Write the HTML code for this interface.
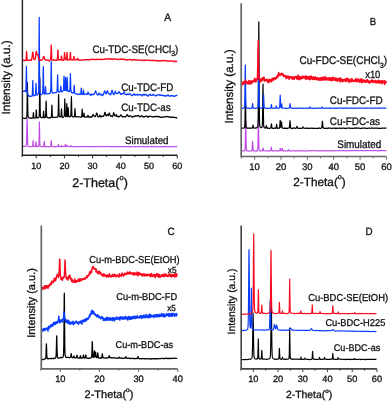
<!DOCTYPE html>
<html><head><meta charset="utf-8"><title>XRD patterns</title>
<style>html,body{margin:0;padding:0;background:#fff}svg{display:block}text{stroke:#111;stroke-width:.3px;text-rendering:geometricPrecision}</style></head>
<body>
<svg width="392" height="401" viewBox="0 0 392 401" font-family="'Liberation Sans', sans-serif" fill="#111">
<polyline points="22.60,146.65 22.80,146.63 23.00,146.49 23.20,146.40 23.40,146.40 23.60,146.39 23.80,146.53 24.00,146.55 24.20,146.51 24.40,146.48 24.60,146.43 24.80,146.44 25.00,146.50 25.20,146.46 25.40,146.40 25.60,146.37 25.80,146.36 26.00,146.32 26.20,145.98 26.40,144.48 26.60,139.49 26.80,129.84 27.00,120.27 27.10,118.63 27.20,120.26 27.40,129.94 27.60,139.52 27.80,144.38 28.00,145.87 28.20,146.18 28.40,146.30 28.60,146.35 28.80,146.40 29.00,146.44 29.20,146.49 29.40,146.53 29.60,146.63 29.80,146.55 30.00,146.62 30.20,146.60 30.40,146.47 30.60,146.54 30.80,146.49 31.00,146.55 31.20,146.56 31.40,146.58 31.60,146.58 31.80,146.44 32.00,146.42 32.20,146.42 32.40,146.40 32.60,146.17 32.80,144.49 33.00,141.37 33.10,140.69 33.20,141.35 33.40,144.39 33.60,146.13 33.80,146.51 34.00,146.42 34.20,146.54 34.40,146.52 34.60,146.50 34.80,146.68 35.00,146.57 35.20,146.56 35.40,146.54 35.60,145.68 35.80,143.55 36.00,141.90 36.00,141.85 36.20,143.63 36.40,145.81 36.60,146.56 36.80,146.69 37.00,146.70 37.20,146.65 37.40,146.55 37.60,146.40 37.80,146.39 38.00,146.32 38.20,146.37 38.40,146.50 38.60,146.31 38.80,145.81 39.00,142.08 39.20,130.83 39.40,121.93 39.40,121.96 39.60,130.87 39.80,142.01 40.00,145.79 40.20,146.30 40.40,146.44 40.60,146.51 40.80,146.52 41.00,146.53 41.20,146.60 41.40,146.61 41.60,146.62 41.80,146.70 42.00,146.56 42.20,146.51 42.40,146.51 42.60,146.51 42.80,146.58 43.00,146.70 43.20,146.76 43.40,146.74 43.60,146.72 43.80,145.79 44.00,143.30 44.20,141.53 44.20,141.42 44.40,143.36 44.60,145.77 44.80,146.47 45.00,146.63 45.20,146.63 45.40,146.54 45.60,146.56 45.80,146.54 46.00,146.63 46.20,146.65 46.40,146.65 46.60,146.62 46.80,146.52 47.00,146.66 47.20,146.68 47.40,146.68 47.60,146.69 47.80,146.65 48.00,146.58 48.20,146.59 48.40,146.66 48.60,146.66 48.80,146.71 49.00,146.70 49.20,146.61 49.40,146.49 49.60,146.53 49.80,146.57 50.00,146.58 50.20,146.58 50.40,146.48 50.60,146.40 50.80,145.82 51.00,143.58 51.20,140.81 51.25,140.66 51.40,141.97 51.60,145.02 51.80,146.25 52.00,146.37 52.20,146.48 52.40,146.55 52.60,146.62 52.80,146.62 53.00,146.53 53.20,146.51 53.40,146.47 53.60,146.54 53.80,146.56 54.00,146.59 54.20,146.71 54.40,146.78 54.60,146.89 54.80,146.87 55.00,146.82 55.20,146.73 55.40,146.69 55.60,146.67 55.80,146.60 56.00,146.59 56.20,146.57 56.40,146.61 56.60,146.64 56.80,146.61 57.00,146.58 57.20,146.49 57.40,146.55 57.60,146.58 57.80,146.46 58.00,145.90 58.20,144.65 58.30,144.35 58.40,144.57 58.60,145.75 58.80,146.40 59.00,146.57 59.20,146.58 59.40,146.43 59.60,146.40 59.80,146.42 60.00,146.42 60.20,146.49 60.40,146.65 60.60,146.66 60.80,146.67 61.00,146.70 61.20,146.38 61.40,145.72 61.50,145.56 61.60,145.66 61.80,146.09 62.00,146.46 62.20,146.48 62.40,146.36 62.60,146.38 62.80,146.44 63.00,146.56 63.20,146.71 63.40,146.77 63.60,146.66 63.80,146.59 64.00,146.50 64.20,146.51 64.40,146.60 64.60,146.49 64.80,146.40 65.00,145.65 65.20,144.52 65.30,144.39 65.40,144.62 65.60,145.90 65.80,146.45 66.00,146.57 66.20,146.60 66.40,146.49 66.60,146.44 66.80,145.77 67.00,145.29 67.00,145.33 67.20,145.73 67.40,146.36 67.60,146.51 67.80,146.49 68.00,146.59 68.20,146.64 68.40,146.71 68.60,146.81 68.80,146.76 69.00,146.74 69.20,146.63 69.40,146.53 69.60,146.49 69.80,146.51 70.00,146.51 70.20,146.55 70.40,146.58 70.60,146.38 70.80,145.95 71.00,145.65 71.00,145.72 71.20,146.08 71.40,146.55 71.60,146.61 71.80,146.54 72.00,146.66 72.20,146.70 72.40,146.79 72.60,146.89 72.80,146.79 73.00,146.75 73.20,146.69 73.40,146.65 73.60,146.67 73.80,146.71 74.00,146.77 74.20,146.78 74.40,146.80 74.60,146.73 74.80,146.60 75.00,146.59 75.20,146.59 75.40,146.59 75.60,146.64 75.80,146.56 76.00,146.46 76.20,146.51 76.40,146.50 76.60,146.51 76.80,146.63 77.00,146.61 77.20,146.68 77.40,146.72 77.60,146.68 77.80,146.69 78.00,146.75 78.20,146.72 78.40,146.80 78.60,146.76 78.80,146.70 79.00,146.72 79.20,146.60 79.40,146.51 79.60,146.56 79.80,146.49 80.00,146.48 80.20,146.62 80.40,146.54 80.60,146.61 80.80,146.65 81.00,146.57 81.20,146.61 81.40,146.55 81.60,146.57 81.80,146.68 82.00,146.69 82.20,146.73 82.40,146.70 82.60,146.66 82.80,146.51 83.00,146.48 83.20,146.45 83.40,146.40 83.60,146.50 83.80,146.52 84.00,146.65 84.20,146.79 84.40,146.68 84.60,146.71 84.80,146.58 85.00,146.53 85.20,146.63 85.40,146.67 85.60,146.74 85.80,146.75 86.00,146.73 86.20,146.55 86.40,146.48 86.60,146.40 86.80,146.39 87.00,146.46 87.20,146.61 87.40,146.64 87.60,146.73 87.80,146.76 88.00,146.76 88.20,146.71 88.40,146.68 88.60,146.63 88.80,146.57 89.00,146.71 89.20,146.60 89.40,146.62 89.60,146.61 89.80,146.52 90.00,146.53 90.20,146.64 90.40,146.63 90.60,146.70 90.80,146.78 91.00,146.67 91.20,146.64 91.40,146.65 91.60,146.56 91.80,146.60 92.00,146.65 92.20,146.63 92.40,146.74 92.60,146.69 92.80,146.77 93.00,146.71 93.20,146.67 93.40,146.74 93.60,146.63 93.80,146.59 94.00,146.57 94.20,146.64 94.40,146.58 94.60,146.51 94.80,146.55 95.00,146.50 95.20,146.61 95.40,146.81 95.60,146.75 95.80,146.74 96.00,146.73 96.20,146.71 96.40,146.79 96.60,146.74 96.80,146.65 97.00,146.57 97.20,146.44 97.40,146.54 97.60,146.59 97.80,146.59 98.00,146.62 98.20,146.64 98.40,146.68 98.60,146.67 98.80,146.75 99.00,146.67 99.20,146.68 99.40,146.77 99.60,146.73 99.80,146.76 100.00,146.75 100.20,146.74 100.40,146.79 100.60,146.76 100.80,146.71 101.00,146.66 101.20,146.58 101.40,146.61 101.60,146.65 101.80,146.66 102.00,146.69 102.20,146.62 102.40,146.57 102.60,146.60 102.80,146.61 103.00,146.64 103.20,146.60 103.40,146.54 103.60,146.38 103.80,146.45 104.00,146.53 104.20,146.54 104.40,146.64 104.60,146.52 104.80,146.56 105.00,146.55 105.20,146.64 105.40,146.76 105.60,146.76 105.80,146.68 106.00,146.61 106.20,146.49 106.40,146.41 106.60,146.40 106.80,146.35 107.00,146.37 107.20,146.38 107.40,146.51 107.60,146.60 107.80,146.71 108.00,146.64 108.20,146.55 108.40,146.58 108.60,146.49 108.80,146.54 109.00,146.64 109.20,146.69 109.40,146.76 109.60,146.79 109.80,146.76 110.00,146.71 110.20,146.65 110.40,146.72 110.60,146.70 110.80,146.70 111.00,146.59 111.20,146.58 111.40,146.68 111.60,146.66 111.80,146.83 112.00,146.71 112.20,146.61 112.40,146.53 112.60,146.50 112.80,146.61 113.00,146.55 113.20,146.59 113.40,146.54 113.60,146.64 113.80,146.70 114.00,146.75 114.20,146.80 114.40,146.69 114.60,146.69 114.80,146.61 115.00,146.56 115.20,146.63 115.40,146.65 115.60,146.70 115.80,146.67 116.00,146.58 116.20,146.57 116.40,146.56 116.60,146.67 116.80,146.64 117.00,146.63 117.20,146.71 117.40,146.68 117.60,146.76 117.80,146.76 118.00,146.70 118.20,146.71 118.40,146.66 118.60,146.73 118.80,146.78 119.00,146.75 119.20,146.76 119.40,146.74 119.60,146.66 119.80,146.65 120.00,146.62 120.20,146.64 120.40,146.67 120.60,146.74 120.80,146.69 121.00,146.63 121.20,146.70 121.40,146.64 121.60,146.76 121.80,146.66 122.00,146.61 122.20,146.63 122.40,146.57 122.60,146.59 122.80,146.62 123.00,146.50 123.20,146.55 123.40,146.64 123.60,146.66 123.80,146.76 124.00,146.66 124.20,146.62 124.40,146.55 124.60,146.59 124.80,146.63 125.00,146.68 125.20,146.73 125.40,146.77 125.60,146.68 125.80,146.64 126.00,146.65 126.20,146.62 126.40,146.69 126.60,146.70 126.80,146.66 127.00,146.63 127.20,146.63 127.40,146.61 127.60,146.56 127.80,146.54 128.00,146.63 128.20,146.62 128.40,146.72 128.60,146.84 128.80,146.78 129.00,146.95 129.20,146.89 129.40,146.88 129.60,146.87 129.80,146.69 130.00,146.71 130.20,146.72 130.40,146.70 130.60,146.78 130.80,146.72 131.00,146.58 131.20,146.63 131.40,146.60 131.60,146.68 131.80,146.78 132.00,146.70 132.20,146.68 132.40,146.65 132.60,146.70 132.80,146.75 133.00,146.76 133.20,146.78 133.40,146.77 133.60,146.76 133.80,146.77 134.00,146.75 134.20,146.68 134.40,146.82 134.60,146.77 134.80,146.69 135.00,146.66 135.20,146.58 135.40,146.53 135.60,146.58 135.80,146.62 136.00,146.57 136.20,146.70 136.40,146.74 136.60,146.73 136.80,146.78 137.00,146.77 137.20,146.82 137.40,146.76 137.60,146.75 137.80,146.79 138.00,146.70 138.20,146.71 138.40,146.67 138.60,146.56 138.80,146.69 139.00,146.74 139.20,146.87 139.40,146.95 139.60,146.85 139.80,146.82 140.00,146.74 140.20,146.70 140.40,146.74 140.60,146.71 140.80,146.71 141.00,146.73 141.20,146.67 141.40,146.71 141.60,146.73 141.80,146.73 142.00,146.74 142.20,146.75 142.40,146.69 142.60,146.69 142.80,146.69 143.00,146.61 143.20,146.63 143.40,146.63 143.60,146.65 143.80,146.68 144.00,146.73 144.20,146.73 144.40,146.75 144.60,146.87 144.80,146.82 145.00,146.82 145.20,146.77 145.40,146.74 145.60,146.82 145.80,146.81 146.00,146.86 146.20,146.77 146.40,146.75 146.60,146.66 146.80,146.73 147.00,146.83 147.20,146.72 147.40,146.65 147.60,146.60 147.80,146.50 148.00,146.61 148.20,146.67 148.40,146.61 148.60,146.62 148.80,146.62 149.00,146.67 149.20,146.74 149.40,146.74 149.60,146.77 149.80,146.79 150.00,146.74 150.20,146.70 150.40,146.54 150.60,146.60 150.80,146.51 151.00,146.57 151.20,146.64 151.40,146.55 151.60,146.62 151.80,146.56 152.00,146.52 152.20,146.61 152.40,146.56 152.60,146.67 152.80,146.76 153.00,146.79 153.20,146.85 153.40,146.73 153.60,146.66 153.80,146.56 154.00,146.60 154.20,146.71 154.40,146.72 154.60,146.76 154.80,146.68 155.00,146.69 155.20,146.72 155.40,146.76 155.60,146.79 155.80,146.82 156.00,146.81 156.20,146.79 156.40,146.76 156.60,146.75 156.80,146.76 157.00,146.72 157.20,146.70 157.40,146.66 157.60,146.67 157.80,146.56 158.00,146.64 158.20,146.54 158.40,146.51 158.60,146.61 158.80,146.58 159.00,146.71 159.20,146.72 159.40,146.74 159.60,146.75 159.80,146.85 160.00,146.88 160.20,146.77 160.40,146.70 160.60,146.60 160.80,146.75 161.00,146.82 161.20,146.82 161.40,146.83 161.60,146.68 161.80,146.65 162.00,146.71 162.20,146.62 162.40,146.59 162.60,146.72 162.80,146.61 163.00,146.66 163.20,146.76 163.40,146.68 163.60,146.69 163.80,146.68 164.00,146.64 164.20,146.57 164.40,146.59 164.60,146.55 164.80,146.45 165.00,146.59 165.20,146.62 165.40,146.67 165.60,146.75 165.80,146.65 166.00,146.60 166.20,146.67 166.40,146.70 166.60,146.69 166.80,146.79 167.00,146.80 167.20,146.78 167.40,146.85 167.60,146.75 167.80,146.67 168.00,146.56 168.20,146.59 168.40,146.64 168.60,146.71 168.80,146.77 169.00,146.76 169.20,146.69 169.40,146.60 169.60,146.67 169.80,146.64 170.00,146.72 170.20,146.65 170.40,146.69 170.60,146.71 170.80,146.77 171.00,146.91 171.20,146.82 171.40,146.81 171.60,146.89 171.80,146.79 172.00,146.83 172.20,146.78 172.40,146.73 172.60,146.79 172.80,146.71 173.00,146.71 173.20,146.55 173.40,146.43 173.60,146.34 173.80,146.34 174.00,146.35 174.20,146.47 174.40,146.57 174.60,146.62 174.80,146.76 175.00,146.70 175.20,146.68 175.40,146.72 175.60,146.75 175.80,146.76 176.00,146.74 176.20,146.67 176.40,146.53 176.60,146.61 176.80,146.65 177.00,146.65 177.20,146.67" fill="none" stroke="#c04ae6" stroke-width="1.15" stroke-linejoin="round" />
<polyline points="22.60,118.36 22.80,118.23 23.00,118.28 23.20,118.16 23.40,118.12 23.60,118.16 23.80,118.07 24.00,118.40 24.20,118.29 24.40,118.43 24.60,118.49 24.80,118.40 25.00,118.54 25.20,118.30 25.40,118.39 25.60,118.25 25.80,118.05 26.00,118.16 26.20,118.00 26.40,117.87 26.60,117.55 26.80,116.66 27.00,111.48 27.20,95.81 27.40,82.71 27.40,82.57 27.60,95.29 27.80,110.60 28.00,115.82 28.20,116.96 28.40,117.39 28.60,117.64 28.80,117.88 29.00,117.99 29.20,117.99 29.40,117.97 29.60,117.98 29.80,117.97 30.00,117.95 30.20,117.94 30.40,118.12 30.60,118.20 30.80,118.17 31.00,118.18 31.20,118.21 31.40,118.38 31.60,118.04 31.80,118.05 32.00,118.08 32.20,118.17 32.40,118.06 32.60,118.01 32.80,118.15 33.00,117.27 33.20,114.77 33.40,112.55 33.40,112.64 33.60,114.56 33.80,117.04 34.00,117.90 34.20,118.03 34.40,118.17 34.60,118.22 34.80,118.25 35.00,118.05 35.20,118.07 35.40,117.94 35.60,117.70 35.80,117.12 36.00,114.83 36.20,110.90 36.30,109.77 36.40,110.89 36.60,115.22 36.80,117.49 37.00,117.95 37.20,117.90 37.40,118.01 37.60,117.80 37.80,117.54 38.00,117.53 38.20,117.52 38.40,117.64 38.60,117.50 38.80,117.27 39.00,117.08 39.20,115.94 39.40,110.07 39.60,92.40 39.80,77.68 39.80,77.79 40.00,92.53 40.20,110.07 40.40,115.84 40.60,117.05 40.80,117.36 41.00,117.53 41.20,117.58 41.40,117.52 41.60,117.54 41.80,117.50 42.00,117.61 42.20,117.63 42.40,117.56 42.60,117.55 42.80,117.53 43.00,117.56 43.20,116.50 43.40,113.58 43.60,111.01 43.60,111.20 43.80,113.90 44.00,116.74 44.20,117.74 44.40,117.70 44.60,117.84 44.80,117.63 45.00,117.39 45.20,117.39 45.40,117.32 45.60,116.33 45.80,111.47 46.00,102.93 46.10,101.14 46.20,102.90 46.40,111.25 46.60,115.95 46.80,117.08 47.00,117.24 47.20,117.22 47.40,117.32 47.60,117.60 47.80,117.69 48.00,117.68 48.20,117.96 48.40,117.95 48.60,117.89 48.80,117.82 49.00,117.89 49.20,117.91 49.40,117.55 49.60,117.68 49.80,117.78 50.00,117.70 50.20,117.66 50.40,117.71 50.60,117.88 50.80,117.70 51.00,117.43 51.20,117.26 51.40,116.35 51.60,112.72 51.80,106.37 51.90,105.07 52.00,106.66 52.20,112.93 52.40,116.36 52.60,117.27 52.80,117.54 53.00,117.39 53.20,117.41 53.40,117.24 53.60,117.25 53.80,117.27 54.00,117.29 54.20,117.44 54.40,117.32 54.60,117.50 54.80,117.44 55.00,117.38 55.20,117.30 55.40,117.40 55.60,117.45 55.80,117.33 56.00,117.47 56.20,117.40 56.40,117.29 56.60,117.12 56.80,117.02 57.00,117.08 57.20,117.07 57.40,117.03 57.60,116.94 57.80,116.81 58.00,116.28 58.20,112.98 58.40,102.81 58.60,94.41 58.60,94.48 58.80,102.75 59.00,112.62 59.20,115.84 59.40,116.51 59.60,116.63 59.80,116.69 60.00,116.93 60.20,116.97 60.40,116.88 60.60,116.93 60.80,116.80 61.00,116.37 61.20,113.91 61.40,109.83 61.50,108.90 61.60,109.72 61.80,114.07 62.00,116.50 62.20,117.04 62.40,117.17 62.60,117.42 62.80,117.58 63.00,117.51 63.20,117.18 63.40,117.09 63.60,116.85 63.80,116.69 64.00,116.46 64.20,115.91 64.40,113.44 64.60,105.58 64.80,99.08 64.80,98.96 65.00,105.64 65.20,113.53 65.40,116.06 65.60,116.61 65.80,116.53 66.00,116.57 66.20,116.05 66.40,114.08 66.60,108.39 66.80,103.54 66.80,103.71 67.00,108.79 67.20,114.74 67.40,116.73 67.60,116.73 67.80,115.37 68.00,111.41 68.20,107.78 68.20,107.48 68.40,110.81 68.60,114.86 68.80,116.22 69.00,116.55 69.20,116.71 69.40,116.93 69.60,116.82 69.80,116.87 70.00,116.89 70.20,116.70 70.40,116.59 70.60,116.40 70.80,115.79 71.00,112.69 71.20,103.90 71.40,96.64 71.40,96.57 71.60,104.04 71.80,112.89 72.00,115.83 72.20,116.44 72.40,116.55 72.60,116.74 72.80,116.78 73.00,116.87 73.20,116.82 73.40,116.79 73.60,116.91 73.80,116.88 74.00,116.61 74.20,116.54 74.40,116.57 74.60,115.47 74.80,111.63 75.00,108.53 75.00,108.77 75.20,111.87 75.40,115.41 75.60,116.69 75.80,116.89 76.00,117.02 76.20,116.88 76.40,116.85 76.60,116.81 76.80,116.71 77.00,116.70 77.20,116.57 77.40,116.62 77.60,116.70 77.80,116.87 78.00,116.79 78.20,116.89 78.40,116.93 78.60,116.96 78.80,116.97 79.00,117.00 79.20,116.83 79.40,116.83 79.60,116.97 79.80,117.00 80.00,117.03 80.20,116.99 80.40,117.23 80.60,117.18 80.80,117.13 81.00,117.21 81.20,117.12 81.40,117.03 81.60,116.69 81.80,115.51 82.00,112.01 82.20,109.05 82.20,108.98 82.40,111.89 82.60,115.39 82.80,116.60 83.00,116.68 83.20,116.68 83.40,116.60 83.60,115.93 83.80,114.35 84.00,113.08 84.00,113.20 84.20,114.72 84.40,116.48 84.60,117.02 84.80,117.09 85.00,116.86 85.20,116.74 85.40,116.80 85.60,116.80 85.80,116.91 86.00,116.86 86.20,117.04 86.40,117.25 86.60,117.29 86.80,117.26 87.00,117.11 87.20,116.92 87.40,116.44 87.60,115.88 87.80,115.26 88.00,115.41 88.00,115.39 88.20,115.66 88.40,116.20 88.60,116.90 88.80,117.10 89.00,116.74 89.20,117.08 89.40,117.17 89.60,117.20 89.80,116.85 90.00,117.20 90.20,117.49 90.40,117.18 90.60,116.96 90.80,116.81 91.00,117.17 91.20,116.91 91.40,116.64 91.60,116.62 91.80,116.85 92.00,116.97 92.20,116.41 92.40,115.88 92.60,115.46 92.80,115.11 93.00,114.62 93.00,114.41 93.20,114.75 93.40,115.34 93.60,115.73 93.80,115.78 94.00,115.88 94.20,115.93 94.40,115.99 94.60,116.10 94.80,116.13 95.00,116.53 95.20,116.41 95.40,116.55 95.60,116.05 95.80,115.55 96.00,115.22 96.20,114.43 96.40,113.76 96.60,113.13 96.70,113.07 96.80,113.15 97.00,113.55 97.20,114.03 97.40,115.17 97.60,115.85 97.80,116.58 98.00,116.77 98.20,116.80 98.40,117.01 98.60,116.92 98.80,116.93 99.00,116.66 99.20,116.42 99.40,115.88 99.60,115.69 99.80,115.23 100.00,115.13 100.00,115.17 100.20,115.89 100.40,116.68 100.60,116.86 100.80,116.94 101.00,116.64 101.20,116.87 101.40,116.57 101.60,116.49 101.80,116.22 102.00,115.97 102.20,116.01 102.40,116.04 102.60,116.34 102.80,116.22 103.00,116.37 103.20,116.42 103.40,116.38 103.60,116.19 103.80,115.53 104.00,115.29 104.20,114.93 104.40,114.26 104.60,113.17 104.80,112.48 105.00,112.33 105.00,112.35 105.20,112.56 105.40,113.46 105.60,114.82 105.80,115.18 106.00,115.67 106.20,115.77 106.40,115.82 106.60,115.88 106.80,115.44 107.00,115.47 107.20,114.84 107.40,114.44 107.50,114.43 107.60,114.41 107.80,114.91 108.00,115.12 108.20,115.37 108.40,115.54 108.60,114.73 108.80,114.14 109.00,113.37 109.20,113.09 109.20,112.95 109.40,113.28 109.60,113.85 109.80,114.26 110.00,114.92 110.20,115.49 110.40,115.68 110.60,115.68 110.80,116.28 111.00,116.37 111.20,116.01 111.40,116.03 111.60,116.22 111.80,116.11 112.00,116.09 112.20,116.34 112.40,116.61 112.60,116.36 112.80,115.94 113.00,115.53 113.20,114.61 113.40,113.72 113.60,112.97 113.80,112.68 113.80,112.88 114.00,113.20 114.20,113.96 114.40,114.36 114.60,115.27 114.80,115.52 115.00,115.91 115.20,115.91 115.40,115.86 115.60,115.87 115.80,115.64 116.00,115.08 116.20,114.50 116.40,114.51 116.40,115.05 116.60,115.69 116.80,116.02 117.00,116.65 117.20,116.76 117.40,116.48 117.60,116.29 117.80,116.17 118.00,116.02 118.20,116.33 118.40,116.48 118.60,116.92 118.80,116.75 119.00,116.51 119.20,116.72 119.40,116.74 119.60,116.71 119.80,116.49 120.00,116.10 120.20,115.98 120.40,115.67 120.60,115.32 120.80,114.90 121.00,114.70 121.00,115.28 121.20,115.34 121.40,115.58 121.60,115.62 121.80,116.00 122.00,116.40 122.20,116.29 122.40,116.59 122.60,116.87 122.80,117.04 123.00,117.16 123.20,116.85 123.40,116.89 123.60,116.71 123.80,116.71 124.00,116.53 124.20,116.47 124.40,116.69 124.60,116.56 124.80,116.64 125.00,116.68 125.20,116.92 125.40,116.66 125.60,116.50 125.80,116.61 126.00,116.40 126.20,116.31 126.40,115.97 126.60,115.61 126.80,115.65 127.00,115.19 127.00,114.71 127.20,114.48 127.40,114.52 127.60,115.10 127.80,115.26 128.00,115.69 128.20,116.37 128.40,116.13 128.60,116.59 128.80,116.58 129.00,116.47 129.20,116.07 129.40,115.99 129.60,116.29 129.80,116.03 130.00,116.04 130.20,115.86 130.40,115.83 130.60,116.00 130.80,115.95 131.00,116.17 131.20,116.37 131.40,116.52 131.60,116.75 131.80,116.91 132.00,117.10 132.20,116.76 132.40,116.85 132.60,116.92 132.80,116.96 133.00,116.51 133.20,116.29 133.40,116.54 133.60,116.28 133.80,116.48 134.00,116.67 134.20,116.73 134.40,116.76 134.60,116.60 134.80,116.40 135.00,116.03 135.20,115.70 135.40,115.71 135.60,115.72 135.80,115.84 136.00,116.17 136.20,116.15 136.40,116.21 136.60,115.85 136.80,115.84 137.00,115.81 137.20,115.51 137.40,115.66 137.60,115.61 137.80,116.00 138.00,115.80 138.20,115.59 138.40,115.38 138.60,115.56 138.80,115.82 139.00,115.95 139.20,116.16 139.40,116.57 139.60,116.95 139.80,116.65 140.00,116.53 140.20,116.58 140.40,116.64 140.60,116.46 140.80,116.12 141.00,116.11 141.20,115.80 141.40,115.79 141.60,115.69 141.80,115.45 142.00,116.02 142.20,116.33 142.40,116.56 142.60,116.63 142.80,116.60 143.00,116.93 143.20,116.72 143.40,116.46 143.60,116.62 143.80,116.75 144.00,116.99 144.20,116.69 144.40,116.63 144.60,116.82 144.80,116.77 145.00,116.68 145.20,116.46 145.40,116.32 145.60,116.48 145.80,116.23 146.00,116.20 146.20,115.84 146.40,116.05 146.60,116.24 146.80,116.06 147.00,116.21 147.20,116.43 147.40,116.89 147.60,116.89 147.80,117.17 148.00,117.19 148.20,117.22 148.40,116.93 148.60,116.75 148.80,116.40 149.00,116.37 149.20,116.35 149.40,116.32 149.60,116.57 149.80,116.28 150.00,116.41 150.20,116.38 150.40,116.33 150.60,116.40 150.80,116.24 151.00,116.33 151.20,116.50 151.40,116.46 151.60,116.57 151.80,116.57 152.00,116.85 152.20,116.88 152.40,116.76 152.60,116.91 152.80,116.75 153.00,116.71 153.20,116.60 153.40,116.77 153.60,116.91 153.80,116.73 154.00,116.62 154.20,116.70 154.40,116.68 154.60,116.69 154.80,116.59 155.00,116.62 155.20,116.93 155.40,116.81 155.60,116.65 155.80,116.48 156.00,116.59 156.20,116.42 156.40,116.28 156.60,116.49 156.80,116.32 157.00,116.36 157.20,116.42 157.40,116.53 157.60,116.74 157.80,116.44 158.00,116.58 158.20,116.81 158.40,116.59 158.60,116.63 158.80,116.47 159.00,116.77 159.20,116.76 159.40,116.64 159.60,116.87 159.80,117.02 160.00,117.08 160.20,117.02 160.40,117.08 160.60,117.31 160.80,117.28 161.00,117.23 161.20,117.44 161.40,117.39 161.60,117.48 161.80,117.35 162.00,117.46 162.20,117.22 162.40,116.83 162.60,116.87 162.80,116.85 163.00,116.77 163.20,116.85 163.40,116.99 163.60,117.18 163.80,117.25 164.00,117.18 164.20,117.20 164.40,116.95 164.60,117.00 164.80,117.03 165.00,116.76 165.20,116.81 165.40,116.72 165.60,116.60 165.80,116.62 166.00,116.52 166.20,116.53 166.40,116.40 166.60,116.42 166.80,116.44 167.00,116.43 167.20,116.61 167.40,116.69 167.60,116.80 167.80,116.81 168.00,117.02 168.20,116.90 168.40,116.86 168.60,116.85 168.80,116.68 169.00,116.91 169.20,116.94 169.40,117.00 169.60,116.96 169.80,117.06 170.00,117.51 170.20,117.30 170.40,117.25 170.60,117.26 170.80,117.18 171.00,117.22 171.20,117.11 171.40,117.09 171.60,117.33 171.80,117.06 172.00,117.29 172.20,117.13 172.40,117.00 172.60,117.13 172.80,116.98 173.00,117.44 173.20,117.14 173.40,117.49 173.60,117.48 173.80,117.46 174.00,117.51 174.20,117.38 174.40,117.53 174.60,117.41 174.80,117.53 175.00,117.39 175.20,117.37 175.40,117.49 175.60,117.57 175.80,117.54 176.00,117.67 176.20,117.91 176.40,117.93 176.60,117.87 176.80,117.61 177.00,117.56 177.20,117.43" fill="none" stroke="#000000" stroke-width="1.2" stroke-linejoin="round" />
<polyline points="22.60,91.05 22.80,91.06 23.00,91.16 23.20,91.17 23.40,91.34 23.60,91.31 23.80,91.42 24.00,91.22 24.20,90.95 24.40,90.71 24.60,90.70 24.80,90.77 25.00,90.88 25.20,91.15 25.40,91.31 25.60,91.59 25.80,90.96 26.00,87.30 26.20,75.94 26.40,66.29 26.40,66.37 26.60,76.25 26.80,87.80 27.00,91.96 27.20,92.99 27.40,93.37 27.60,93.81 27.80,94.09 28.00,94.45 28.20,94.90 28.40,95.27 28.60,95.50 28.80,95.63 29.00,96.09 29.20,96.32 29.40,96.21 29.60,96.30 29.80,96.34 30.00,96.26 30.20,96.30 30.40,96.20 30.60,96.28 30.80,96.52 31.00,96.46 31.20,96.34 31.40,96.17 31.60,96.09 31.80,96.09 32.00,95.74 32.20,95.19 32.40,92.93 32.60,86.16 32.80,80.44 32.80,80.57 33.00,86.35 33.20,93.11 33.40,95.45 33.60,95.93 33.80,95.88 34.00,95.68 34.20,95.50 34.40,95.35 34.60,95.33 34.80,95.43 35.00,95.37 35.20,95.23 35.40,95.08 35.60,93.56 35.80,88.18 36.00,83.42 36.00,83.39 36.20,88.00 36.40,93.00 36.60,94.56 36.80,94.92 37.00,95.12 37.20,95.11 37.40,94.94 37.60,94.99 37.80,94.62 38.00,94.32 38.20,93.86 38.40,93.09 38.60,90.64 38.80,79.00 39.00,46.23 39.20,17.47 39.20,17.36 39.40,45.91 39.60,78.90 39.80,90.60 40.00,93.05 40.20,94.00 40.40,94.40 40.60,94.89 40.80,94.89 41.00,94.69 41.20,94.63 41.40,94.40 41.60,94.37 41.80,94.21 42.00,94.15 42.20,94.09 42.40,93.90 42.60,93.36 42.80,91.54 43.00,83.79 43.20,69.81 43.30,66.57 43.40,69.55 43.60,83.61 43.80,91.27 44.00,93.37 44.20,93.74 44.40,93.82 44.60,94.13 44.80,94.10 45.00,93.54 45.20,91.32 45.40,87.43 45.50,86.59 45.60,87.40 45.80,91.29 46.00,93.32 46.20,93.87 46.40,93.79 46.60,93.88 46.80,93.80 47.00,93.87 47.20,93.81 47.40,93.77 47.60,93.85 47.80,93.71 48.00,93.71 48.20,93.61 48.40,93.60 48.60,93.63 48.80,93.50 49.00,93.51 49.20,93.69 49.40,93.62 49.60,93.55 49.80,93.11 50.00,92.99 50.20,92.81 50.40,92.28 50.60,91.63 50.80,88.51 51.00,77.51 51.20,62.36 51.25,61.29 51.40,68.91 51.60,84.22 51.80,90.89 52.00,92.26 52.20,92.63 52.40,92.81 52.60,93.02 52.80,93.20 53.00,92.88 53.20,92.83 53.40,92.79 53.60,92.85 53.80,92.91 54.00,92.73 54.20,92.73 54.40,92.81 54.60,92.79 54.80,92.62 55.00,92.57 55.20,92.48 55.40,92.54 55.60,92.63 55.80,92.56 56.00,92.68 56.20,92.50 56.40,92.48 56.60,92.40 56.80,92.06 57.00,91.57 57.20,88.87 57.40,81.49 57.60,75.10 57.60,74.98 57.80,81.37 58.00,88.59 58.20,91.14 58.40,91.71 58.60,91.98 58.80,92.06 59.00,92.14 59.20,92.20 59.40,91.96 59.60,91.96 59.80,91.80 60.00,91.83 60.20,91.47 60.40,90.65 60.60,88.35 60.80,86.05 60.80,86.06 61.00,88.14 61.20,90.52 61.40,91.62 61.60,91.75 61.80,91.71 62.00,91.57 62.20,91.59 62.40,91.66 62.60,91.08 62.80,90.78 63.00,90.84 63.20,90.77 63.40,90.30 63.60,88.07 63.80,81.79 64.00,76.01 64.00,76.07 64.20,81.75 64.40,88.11 64.60,90.40 64.80,90.40 65.00,90.31 65.20,88.27 65.40,82.63 65.60,77.42 65.60,77.36 65.80,82.79 66.00,88.67 66.20,90.68 66.40,90.84 66.60,90.55 66.80,88.52 67.00,82.39 67.20,77.35 67.20,77.45 67.40,82.52 67.60,88.75 67.80,90.84 68.00,91.34 68.20,91.31 68.40,91.35 68.60,91.54 68.80,91.30 69.00,91.38 69.20,91.48 69.40,91.41 69.60,91.03 69.80,90.52 70.00,88.11 70.20,80.30 70.40,73.62 70.40,73.65 70.60,80.61 70.80,88.19 71.00,91.02 71.20,91.81 71.40,92.21 71.60,92.38 71.80,92.73 72.00,93.00 72.20,92.67 72.40,92.83 72.60,92.79 72.80,92.76 73.00,92.57 73.20,92.44 73.40,92.71 73.60,92.48 73.80,91.25 74.00,88.16 74.20,85.42 74.20,85.25 74.40,88.31 74.60,91.73 74.80,93.19 75.00,93.60 75.20,93.63 75.40,93.92 75.60,93.91 75.80,93.90 76.00,93.94 76.20,93.54 76.40,93.51 76.60,93.92 76.80,93.94 77.00,94.08 77.20,94.09 77.40,94.32 77.60,94.48 77.80,94.28 78.00,94.21 78.20,94.09 78.40,94.13 78.60,94.09 78.80,93.91 79.00,93.97 79.20,94.14 79.40,94.15 79.60,94.25 79.80,94.44 80.00,94.57 80.20,94.36 80.40,94.28 80.60,94.14 80.80,93.55 81.00,91.70 81.20,88.70 81.30,88.06 81.40,88.70 81.60,91.94 81.80,93.92 82.00,94.54 82.20,94.33 82.40,94.36 82.60,94.37 82.80,94.19 83.00,93.52 83.20,92.44 83.40,90.56 83.50,90.17 83.60,90.71 83.80,93.05 84.00,94.42 84.20,94.55 84.40,94.53 84.60,94.33 84.80,94.22 85.00,94.13 85.20,93.95 85.40,93.99 85.60,93.88 85.80,94.15 86.00,94.01 86.20,94.07 86.40,94.42 86.60,94.48 86.80,94.45 87.00,94.41 87.20,94.37 87.40,93.98 87.60,93.26 87.80,92.32 88.00,92.35 88.00,92.19 88.20,92.53 88.40,92.71 88.60,93.39 88.80,94.04 89.00,93.98 89.20,93.87 89.40,93.86 89.60,94.03 89.80,94.21 90.00,94.53 90.20,95.03 90.40,95.22 90.60,94.97 90.80,94.74 91.00,94.39 91.20,94.50 91.40,94.53 91.60,94.24 91.80,94.52 92.00,95.00 92.20,94.85 92.40,94.60 92.60,94.20 92.80,94.57 93.00,94.56 93.20,94.34 93.40,94.51 93.60,94.35 93.80,94.49 94.00,93.74 94.20,93.67 94.40,93.74 94.60,93.16 94.80,92.77 95.00,92.25 95.20,92.10 95.40,91.31 95.60,90.87 95.60,91.29 95.80,91.26 96.00,91.72 96.20,92.63 96.40,93.11 96.60,93.64 96.80,94.12 97.00,94.61 97.20,94.64 97.40,94.88 97.60,95.03 97.80,94.91 98.00,94.74 98.20,94.85 98.40,94.29 98.60,93.51 98.80,93.32 99.00,93.44 99.00,93.27 99.20,92.96 99.40,93.75 99.60,93.79 99.80,94.10 100.00,94.26 100.20,94.55 100.40,94.84 100.60,94.43 100.80,95.10 101.00,94.97 101.20,94.73 101.40,94.74 101.60,94.24 101.80,94.98 102.00,94.96 102.20,95.24 102.40,95.29 102.60,95.17 102.80,95.65 103.00,95.16 103.20,94.53 103.40,94.18 103.60,93.85 103.80,93.31 104.00,92.54 104.20,91.82 104.40,91.68 104.50,91.21 104.60,90.84 104.80,91.10 105.00,91.57 105.20,92.31 105.40,92.58 105.60,93.14 105.80,93.83 106.00,93.85 106.20,93.64 106.40,93.30 106.60,93.04 106.80,92.25 107.00,91.27 107.20,90.83 107.30,90.91 107.40,90.81 107.60,91.13 107.80,91.50 108.00,92.45 108.20,93.05 108.40,93.47 108.60,93.40 108.80,93.56 109.00,94.17 109.20,94.06 109.40,93.98 109.60,93.55 109.80,94.03 110.00,94.20 110.20,94.29 110.40,94.50 110.60,94.40 110.80,94.85 111.00,94.04 111.20,93.44 111.40,92.48 111.60,91.67 111.80,90.85 112.00,90.18 112.00,90.30 112.20,90.52 112.40,91.07 112.60,91.77 112.80,92.77 113.00,93.48 113.20,94.05 113.40,94.06 113.60,94.73 113.80,94.74 114.00,94.28 114.20,94.28 114.40,93.69 114.60,93.38 114.80,92.50 115.00,91.65 115.20,91.34 115.30,91.14 115.40,91.53 115.60,91.92 115.80,92.49 116.00,92.89 116.20,93.49 116.40,93.56 116.60,93.67 116.80,93.52 117.00,93.32 117.20,93.42 117.40,93.31 117.60,93.38 117.80,93.20 118.00,93.30 118.20,92.92 118.40,92.96 118.60,92.44 118.80,91.89 119.00,91.79 119.00,91.58 119.20,91.85 119.40,91.99 119.60,92.32 119.80,93.14 120.00,93.14 120.20,93.31 120.40,93.75 120.60,94.01 120.80,94.38 121.00,93.91 121.20,94.12 121.40,94.15 121.60,93.80 121.80,93.51 122.00,93.51 122.20,93.96 122.40,94.06 122.60,93.95 122.80,93.99 123.00,93.93 123.20,93.77 123.40,93.11 123.60,92.56 123.80,92.26 124.00,91.89 124.00,91.92 124.20,91.78 124.40,92.44 124.60,93.12 124.80,93.63 125.00,94.18 125.20,94.21 125.40,94.47 125.60,94.37 125.80,94.48 126.00,94.40 126.20,94.59 126.40,94.82 126.60,94.87 126.80,94.62 127.00,94.20 127.20,94.30 127.40,94.11 127.60,93.73 127.80,94.02 128.00,94.29 128.20,94.48 128.40,94.59 128.60,94.42 128.80,94.26 129.00,93.89 129.20,93.71 129.40,93.75 129.60,93.68 129.80,93.52 130.00,93.79 130.20,94.00 130.40,94.45 130.60,94.44 130.80,94.44 131.00,94.85 131.20,95.08 131.40,95.45 131.60,95.51 131.80,95.41 132.00,95.34 132.20,95.52 132.40,95.59 132.60,95.26 132.80,95.06 133.00,95.02 133.20,94.84 133.40,94.31 133.60,94.06 133.80,93.96 134.00,93.72 134.20,94.31 134.40,94.24 134.60,94.49 134.80,94.84 135.00,95.14 135.20,95.06 135.40,94.71 135.60,95.18 135.80,94.84 136.00,94.79 136.20,94.45 136.40,94.56 136.60,94.69 136.80,94.57 137.00,94.82 137.20,94.93 137.40,94.78 137.60,95.11 137.80,94.46 138.00,94.63 138.20,94.72 138.40,94.51 138.60,94.68 138.80,94.63 139.00,94.93 139.20,94.73 139.40,94.73 139.60,94.77 139.80,94.74 140.00,94.61 140.20,94.84 140.40,94.57 140.60,94.59 140.80,94.53 141.00,94.57 141.20,94.98 141.40,95.06 141.60,95.61 141.80,95.58 142.00,95.72 142.20,96.01 142.40,95.48 142.60,95.23 142.80,94.74 143.00,94.59 143.20,94.74 143.40,94.17 143.60,94.23 143.80,94.48 144.00,94.78 144.20,95.06 144.40,94.76 144.60,95.19 144.80,94.97 145.00,94.78 145.20,94.74 145.40,94.38 145.60,94.28 145.80,94.08 146.00,94.58 146.20,94.54 146.40,94.75 146.60,94.95 146.80,95.36 147.00,95.33 147.20,95.25 147.40,95.84 147.60,95.81 147.80,96.16 148.00,95.72 148.20,95.89 148.40,95.84 148.60,95.34 148.80,95.23 149.00,94.83 149.20,94.93 149.40,94.65 149.60,94.30 149.80,94.45 150.00,94.28 150.20,94.51 150.40,94.87 150.60,95.24 150.80,95.38 151.00,95.24 151.20,95.27 151.40,95.22 151.60,95.21 151.80,95.29 152.00,95.32 152.20,95.15 152.40,95.42 152.60,95.08 152.80,94.91 153.00,94.32 153.20,94.46 153.40,94.71 153.60,94.49 153.80,94.68 154.00,94.68 154.20,95.10 154.40,95.06 154.60,95.39 154.80,95.42 155.00,95.52 155.20,95.66 155.40,96.06 155.60,95.96 155.80,95.58 156.00,95.56 156.20,95.69 156.40,95.60 156.60,95.04 156.80,95.11 157.00,95.00 157.20,95.11 157.40,95.03 157.60,94.97 157.80,95.05 158.00,95.11 158.20,95.02 158.40,94.90 158.60,94.88 158.80,94.86 159.00,94.74 159.20,94.64 159.40,95.03 159.60,95.19 159.80,95.17 160.00,95.14 160.20,95.25 160.40,95.37 160.60,95.19 160.80,95.00 161.00,95.11 161.20,94.90 161.40,95.05 161.60,95.16 161.80,95.34 162.00,95.28 162.20,95.25 162.40,95.60 162.60,95.55 162.80,95.46 163.00,95.36 163.20,95.68 163.40,95.69 163.60,95.34 163.80,95.36 164.00,95.63 164.20,95.72 164.40,95.70 164.60,96.01 164.80,96.14 165.00,95.97 165.20,95.61 165.40,95.58 165.60,95.75 165.80,95.64 166.00,95.75 166.20,96.10 166.40,96.21 166.60,96.20 166.80,95.93 167.00,95.65 167.20,95.64 167.40,95.30 167.60,94.97 167.80,94.82 168.00,95.04 168.20,95.13 168.40,94.97 168.60,95.13 168.80,95.75 169.00,95.86 169.20,96.02 169.40,96.14 169.60,96.06 169.80,96.10 170.00,96.07 170.20,96.16 170.40,95.67 170.60,95.66 170.80,96.13 171.00,95.88 171.20,95.61 171.40,95.60 171.60,95.91 171.80,95.81 172.00,95.52 172.20,95.83 172.40,95.86 172.60,95.81 172.80,95.61 173.00,95.78 173.20,95.83 173.40,96.05 173.60,95.96 173.80,96.15 174.00,96.36 174.20,96.31 174.40,96.37 174.60,96.23 174.80,96.29 175.00,96.01 175.20,95.88 175.40,95.88 175.60,95.68 175.80,95.68 176.00,95.42 176.20,95.57 176.40,95.55 176.60,95.27 176.80,95.47 177.00,95.32 177.20,95.56" fill="none" stroke="#0a3cff" stroke-width="1.25" stroke-linejoin="round" />
<polyline points="22.60,60.73 22.80,60.72 23.00,60.54 23.20,60.55 23.40,60.27 23.60,60.27 23.80,60.20 24.00,60.30 24.20,60.46 24.40,60.44 24.60,60.47 24.80,60.49 25.00,60.51 25.20,60.45 25.40,60.51 25.60,60.52 25.80,60.50 26.00,59.88 26.20,58.14 26.40,54.26 26.60,51.40 26.60,51.45 26.80,54.29 27.00,58.26 27.20,60.10 27.40,60.48 27.60,60.49 27.80,60.41 28.00,60.36 28.20,60.45 28.40,60.49 28.60,60.33 28.80,60.29 29.00,60.27 29.20,60.36 29.40,60.21 29.60,60.04 29.80,60.06 30.00,60.06 30.20,60.02 30.40,60.03 30.60,60.07 30.80,60.23 31.00,60.19 31.20,60.24 31.40,60.19 31.60,59.78 31.80,59.05 32.00,57.60 32.20,56.03 32.40,54.26 32.60,52.80 32.80,52.18 32.80,52.23 33.00,53.19 33.20,54.67 33.40,56.18 33.60,57.65 33.80,58.71 34.00,59.22 34.20,59.36 34.40,59.42 34.60,59.54 34.80,59.53 35.00,59.32 35.20,58.88 35.40,58.03 35.60,56.49 35.80,54.65 36.00,52.88 36.20,51.80 36.30,51.60 36.40,51.40 36.60,52.30 36.80,53.47 37.00,54.23 37.20,54.49 37.40,54.48 37.60,54.51 37.70,54.56 37.80,54.70 38.00,55.35 38.20,56.36 38.40,57.32 38.60,58.33 38.80,59.13 39.00,59.54 39.20,59.73 39.40,59.92 39.60,60.21 39.80,60.17 40.00,60.16 40.20,60.19 40.40,60.23 40.60,60.35 40.80,60.26 41.00,60.24 41.20,59.94 41.40,59.95 41.60,59.97 41.80,59.78 42.00,59.79 42.20,59.67 42.40,59.49 42.60,59.20 42.80,58.72 43.00,58.10 43.20,57.35 43.40,56.82 43.60,56.60 43.60,56.37 43.80,56.47 44.00,56.88 44.20,57.58 44.40,57.95 44.60,58.59 44.80,59.07 45.00,59.51 45.20,59.69 45.40,59.72 45.60,60.08 45.80,60.19 46.00,60.11 46.20,59.90 46.40,60.02 46.60,60.10 46.80,60.09 47.00,60.19 47.20,60.23 47.40,60.35 47.60,60.24 47.80,60.24 48.00,60.17 48.20,60.06 48.40,60.43 48.60,60.47 48.80,60.54 49.00,60.65 49.20,60.77 49.40,60.94 49.60,60.61 49.80,60.44 50.00,60.19 50.20,59.90 50.40,59.54 50.60,59.04 50.80,57.12 51.00,51.54 51.20,45.40 51.25,45.11 51.40,48.27 51.60,55.07 51.80,58.90 52.00,59.78 52.20,60.14 52.40,60.29 52.60,60.25 52.80,60.38 53.00,60.22 53.20,60.21 53.40,60.01 53.60,59.94 53.80,60.00 54.00,59.97 54.20,60.01 54.40,60.06 54.60,60.06 54.80,60.10 55.00,60.11 55.20,60.21 55.40,60.19 55.60,60.29 55.80,60.16 56.00,60.27 56.20,60.26 56.40,60.31 56.60,60.23 56.80,60.07 57.00,60.19 57.20,59.79 57.40,58.85 57.60,55.59 57.80,51.10 57.90,49.99 58.00,50.90 58.20,55.73 58.40,58.88 58.60,59.96 58.80,59.82 59.00,59.92 59.20,59.92 59.40,59.73 59.60,59.70 59.80,59.61 60.00,59.71 60.20,59.85 60.40,59.90 60.60,59.93 60.80,60.10 61.00,59.62 61.20,58.59 61.40,56.53 61.50,56.15 61.60,56.61 61.80,58.31 62.00,59.73 62.20,60.04 62.40,60.25 62.60,60.23 62.80,60.34 63.00,60.47 63.20,60.44 63.40,60.03 63.60,59.91 63.80,59.91 64.00,59.38 64.20,57.78 64.40,54.72 64.60,52.80 64.60,52.65 64.80,54.67 65.00,57.72 65.20,59.13 65.40,59.43 65.60,59.62 65.80,59.77 66.00,59.69 66.20,59.64 66.40,59.48 66.60,58.21 66.80,54.91 67.00,52.53 67.00,52.90 67.20,55.11 67.40,58.23 67.60,59.62 67.80,60.05 68.00,60.17 68.20,59.98 68.40,60.04 68.60,60.08 68.80,59.86 69.00,59.87 69.20,59.92 69.40,59.92 69.60,59.88 69.80,59.34 70.00,58.09 70.20,54.81 70.40,52.59 70.40,52.51 70.60,54.93 70.80,58.25 71.00,59.60 71.20,59.89 71.40,59.88 71.60,59.99 71.80,59.84 72.00,59.85 72.20,59.94 72.40,60.04 72.60,60.11 72.80,59.91 73.00,59.89 73.20,59.64 73.40,59.48 73.60,58.36 73.80,56.52 73.90,56.51 74.00,56.89 74.20,58.65 74.40,59.56 74.60,59.94 74.80,59.97 75.00,59.78 75.20,59.88 75.40,59.91 75.60,59.88 75.80,59.76 76.00,59.79 76.20,59.52 76.40,59.28 76.60,59.28 76.80,59.30 77.00,59.28 77.20,59.36 77.40,59.51 77.60,58.97 77.80,58.38 77.80,58.64 78.00,59.24 78.20,59.88 78.40,60.14 78.60,60.15 78.80,60.22 79.00,59.99 79.20,60.11 79.40,60.11 79.60,60.07 79.80,60.00 80.00,59.99 80.20,59.97 80.40,59.87 80.60,60.12 80.80,60.03 81.00,60.15 81.20,60.12 81.40,60.08 81.60,60.08 81.80,59.91 82.00,60.02 82.20,59.99 82.40,60.08 82.60,60.15 82.80,60.12 83.00,60.13 83.20,60.04 83.40,60.06 83.60,59.97 83.80,59.77 84.00,59.64 84.20,59.57 84.40,59.58 84.60,59.62 84.80,59.59 85.00,59.65 85.20,59.75 85.40,59.75 85.60,59.59 85.80,59.60 86.00,59.71 86.20,59.77 86.40,59.61 86.60,59.60 86.80,59.70 87.00,59.51 87.20,59.46 87.40,59.46 87.60,59.67 87.80,59.62 88.00,59.61 88.20,59.73 88.40,59.77 88.60,59.67 88.80,59.59 89.00,59.80 89.20,59.79 89.40,59.68 89.60,59.70 89.80,59.85 90.00,59.69 90.20,59.52 90.40,59.39 90.60,59.47 90.80,59.42 91.00,59.41 91.20,59.44 91.40,59.34 91.60,59.61 91.80,59.65 92.00,59.54 92.20,59.48 92.40,59.49 92.60,59.41 92.80,59.13 93.00,59.12 93.20,59.05 93.40,59.09 93.60,59.26 93.80,59.44 94.00,59.50 94.20,59.41 94.40,59.42 94.60,59.37 94.80,59.40 95.00,59.39 95.20,59.64 95.40,59.73 95.60,59.75 95.80,59.60 96.00,59.41 96.20,59.26 96.40,59.12 96.60,59.07 96.80,59.28 97.00,59.48 97.20,59.62 97.40,59.67 97.60,59.57 97.80,59.62 98.00,59.46 98.20,59.32 98.40,59.21 98.60,59.30 98.80,59.42 99.00,59.40 99.20,59.36 99.40,59.40 99.60,59.50 99.80,59.49 100.00,59.29 100.20,59.18 100.40,59.25 100.60,59.41 100.80,59.43 101.00,59.35 101.20,59.38 101.40,59.65 101.60,59.62 101.80,59.45 102.00,59.37 102.20,59.48 102.40,59.56 102.60,59.37 102.80,59.47 103.00,59.45 103.20,59.39 103.40,59.37 103.60,59.38 103.80,59.35 104.00,59.23 104.20,59.19 104.40,59.23 104.60,59.14 104.80,59.26 105.00,59.21 105.20,59.18 105.40,59.33 105.60,59.27 105.80,59.34 106.00,59.13 106.20,59.11 106.40,59.04 106.60,58.90 106.80,58.92 107.00,58.67 107.20,58.74 107.40,58.79 107.60,58.78 107.80,58.73 108.00,58.72 108.20,58.91 108.40,59.09 108.60,59.19 108.80,59.26 109.00,59.30 109.20,59.33 109.40,59.22 109.60,58.90 109.80,58.84 110.00,58.65 110.20,58.66 110.40,58.55 110.60,58.68 110.80,58.83 111.00,58.75 111.20,59.01 111.40,59.05 111.60,59.25 111.80,59.28 112.00,59.42 112.20,59.63 112.40,59.57 112.60,59.35 112.80,59.19 113.00,59.16 113.20,58.88 113.40,58.65 113.60,58.74 113.80,58.91 114.00,58.97 114.20,59.11 114.40,59.13 114.60,59.11 114.80,59.02 115.00,58.98 115.20,59.02 115.40,58.97 115.60,59.15 115.80,59.22 116.00,59.16 116.20,59.31 116.40,59.29 116.60,59.25 116.80,59.35 117.00,59.23 117.20,59.39 117.40,59.31 117.60,59.40 117.80,59.38 118.00,59.23 118.20,59.37 118.40,59.39 118.60,59.51 118.80,59.56 119.00,59.46 119.20,59.43 119.40,59.38 119.60,59.24 119.80,59.28 120.00,59.27 120.20,59.34 120.40,59.22 120.60,59.26 120.80,59.18 121.00,59.03 121.20,58.99 121.40,59.08 121.60,59.44 121.80,59.39 122.00,59.38 122.20,59.27 122.40,59.37 122.60,59.21 122.80,59.04 123.00,59.26 123.20,59.30 123.40,59.53 123.60,59.29 123.80,59.50 124.00,59.36 124.20,59.18 124.40,59.22 124.60,59.16 124.80,59.36 125.00,59.38 125.20,59.65 125.40,59.83 125.60,59.75 125.80,59.80 126.00,59.87 126.20,59.92 126.40,59.92 126.60,59.79 126.80,60.04 127.00,60.03 127.20,59.81 127.40,59.77 127.60,59.68 127.80,59.70 128.00,59.68 128.20,59.76 128.40,59.80 128.60,59.61 128.80,59.57 129.00,59.51 129.20,59.47 129.40,59.46 129.60,59.49 129.80,59.59 130.00,59.52 130.20,59.62 130.40,59.61 130.60,59.62 130.80,59.75 131.00,59.84 131.20,59.94 131.40,59.98 131.60,60.18 131.80,60.01 132.00,59.96 132.20,59.97 132.40,60.04 132.60,59.99 132.80,59.74 133.00,59.82 133.20,59.85 133.40,59.71 133.60,59.62 133.80,59.53 134.00,59.68 134.20,59.84 134.40,59.66 134.60,59.70 134.80,59.51 135.00,59.69 135.20,59.74 135.40,59.70 135.60,59.71 135.80,59.83 136.00,60.29 136.20,60.11 136.40,59.94 136.60,60.00 136.80,60.06 137.00,60.10 137.20,59.86 137.40,59.94 137.60,59.86 137.80,59.69 138.00,59.78 138.20,59.72 138.40,59.90 138.60,60.01 138.80,60.15 139.00,60.33 139.20,60.44 139.40,60.43 139.60,60.37 139.80,60.37 140.00,60.43 140.20,60.27 140.40,60.20 140.60,60.24 140.80,60.11 141.00,60.06 141.20,60.11 141.40,60.14 141.60,59.98 141.80,60.17 142.00,60.42 142.20,60.58 142.40,60.61 142.60,60.62 142.80,60.50 143.00,60.41 143.20,60.44 143.40,60.19 143.60,60.16 143.80,60.17 144.00,60.58 144.20,60.34 144.40,60.31 144.60,60.46 144.80,60.29 145.00,60.15 145.20,60.06 145.40,60.32 145.60,60.12 145.80,60.04 146.00,60.14 146.20,60.37 146.40,60.31 146.60,60.12 146.80,60.11 147.00,60.06 147.20,60.14 147.40,60.14 147.60,60.12 147.80,60.17 148.00,60.11 148.20,60.25 148.40,60.19 148.60,60.22 148.80,60.09 149.00,60.23 149.20,60.38 149.40,60.35 149.60,60.41 149.80,60.24 150.00,60.48 150.20,60.40 150.40,60.38 150.60,60.46 150.80,60.46 151.00,60.47 151.20,60.41 151.40,60.35 151.60,60.45 151.80,60.60 152.00,60.58 152.20,60.77 152.40,60.64 152.60,60.55 152.80,60.42 153.00,60.18 153.20,60.17 153.40,60.16 153.60,60.31 153.80,60.43 154.00,60.61 154.20,60.53 154.40,60.56 154.60,60.55 154.80,60.54 155.00,60.75 155.20,60.76 155.40,60.88 155.60,60.93 155.80,60.93 156.00,60.76 156.20,60.64 156.40,60.50 156.60,60.65 156.80,60.49 157.00,60.43 157.20,60.79 157.40,60.96 157.60,61.09 157.80,60.99 158.00,61.18 158.20,61.13 158.40,60.96 158.60,60.66 158.80,60.65 159.00,60.69 159.20,60.59 159.40,60.68 159.60,60.74 159.80,60.68 160.00,60.71 160.20,60.55 160.40,60.67 160.60,60.69 160.80,60.70 161.00,60.88 161.20,60.79 161.40,60.77 161.60,60.79 161.80,60.68 162.00,60.82 162.20,60.89 162.40,60.78 162.60,60.76 162.80,60.71 163.00,60.74 163.20,60.52 163.40,60.33 163.60,60.44 163.80,60.56 164.00,60.42 164.20,60.42 164.40,60.42 164.60,60.51 164.80,60.47 165.00,60.61 165.20,60.73 165.40,60.68 165.60,60.67 165.80,60.76 166.00,60.98 166.20,60.93 166.40,60.80 166.60,60.87 166.80,60.99 167.00,60.85 167.20,60.78 167.40,60.80 167.60,60.97 167.80,61.12 168.00,61.12 168.20,61.17 168.40,61.04 168.60,61.06 168.80,60.87 169.00,60.95 169.20,61.06 169.40,61.17 169.60,61.22 169.80,61.16 170.00,61.23 170.20,61.00 170.40,60.92 170.60,60.80 170.80,60.79 171.00,60.79 171.20,60.84 171.40,60.88 171.60,60.89 171.80,60.89 172.00,61.00 172.20,61.14 172.40,61.37 172.60,61.42 172.80,61.48 173.00,61.54 173.20,61.59 173.40,61.32 173.60,61.19 173.80,61.38 174.00,61.26 174.20,61.36 174.40,61.28 174.60,61.58 174.80,61.51 175.00,61.50 175.20,61.61 175.40,61.44 175.60,61.50 175.80,61.29 176.00,61.30 176.20,61.10 176.40,61.21 176.60,61.38 176.80,61.54 177.00,61.65 177.20,61.73" fill="none" stroke="#fa0a1e" stroke-width="1.35" stroke-linejoin="round" />
<path d="M22.40 0.00 V155.20 H177.20" fill="none" stroke="#222" stroke-width="1.4"/>
<path d="M22.10 155.20 v1.80 M36.20 155.20 v3.20 M50.30 155.20 v1.80 M64.40 155.20 v3.20 M78.50 155.20 v1.80 M92.60 155.20 v3.20 M106.70 155.20 v1.80 M120.80 155.20 v3.20 M134.90 155.20 v1.80 M149.00 155.20 v3.20 M163.10 155.20 v1.80 M177.20 155.20 v3.20 " fill="none" stroke="#222" stroke-width="1"/>
<text x="36.20" y="169.00" font-size="9" text-anchor="middle">10</text>
<text x="64.40" y="169.00" font-size="9" text-anchor="middle">20</text>
<text x="92.60" y="169.00" font-size="9" text-anchor="middle">30</text>
<text x="120.80" y="169.00" font-size="9" text-anchor="middle">40</text>
<text x="149.00" y="169.00" font-size="9" text-anchor="middle">50</text>
<text x="177.20" y="169.00" font-size="9" text-anchor="middle">60</text>
<text x="100.00" y="186.50" font-size="12.5" text-anchor="middle">2-Theta(<tspan font-size="7.5" dy="-6.5">o</tspan><tspan dy="6.5">)</tspan></text>
<text transform="translate(10.20 77.50) rotate(-90)" font-size="11.7" text-anchor="middle">Intensity (a.u.)</text>
<text transform="translate(164.20 21.40) scale(0.93 1)" font-size="11.08" text-anchor="start">A</text>
<text transform="translate(92.40 53.20) scale(0.9 1)" font-size="10.89" text-anchor="start">Cu-TDC-SE(CHCl<tspan font-size="7.6" dy="3.2">3</tspan><tspan dy="-3.2">)</tspan></text>
<text transform="translate(121.20 90.70) scale(0.9 1)" font-size="10.89" text-anchor="start">Cu-TDC-FD</text>
<text transform="translate(121.20 111.40) scale(0.9 1)" font-size="10.89" text-anchor="start">Cu-TDC-as</text>
<text transform="translate(125.00 143.70) scale(0.9 1)" font-size="10.89" text-anchor="start">Simulated</text>
<polyline points="241.60,150.97 241.80,151.02 242.00,150.95 242.20,150.99 242.40,150.91 242.60,150.84 242.80,150.88 243.00,150.90 243.20,150.97 243.40,150.94 243.60,151.01 243.80,151.02 244.00,150.97 244.20,151.00 244.40,150.87 244.60,150.72 244.80,150.61 245.00,149.77 245.20,146.19 245.40,136.04 245.60,123.43 245.70,121.17 245.80,123.36 246.00,135.89 246.20,146.05 246.40,149.70 246.60,150.58 246.80,150.79 247.00,150.88 247.20,150.97 247.40,151.02 247.60,150.99 247.80,150.88 248.00,150.84 248.20,150.85 248.40,150.92 248.60,151.06 248.80,151.06 249.00,151.01 249.20,151.02 249.40,150.99 249.60,150.96 249.80,151.04 250.00,151.07 250.20,151.03 250.40,151.03 250.60,150.88 250.80,150.85 251.00,150.80 251.20,150.79 251.40,150.86 251.60,150.83 251.80,150.83 252.00,150.23 252.20,148.12 252.40,143.97 252.60,141.42 252.60,141.47 252.80,144.10 253.00,148.24 253.20,150.32 253.40,150.87 253.60,150.86 253.80,150.85 254.00,150.88 254.20,150.89 254.40,150.91 254.60,150.99 254.80,150.97 255.00,150.98 255.20,150.99 255.40,150.86 255.60,150.76 255.80,150.79 256.00,150.90 256.20,151.06 256.40,151.25 256.60,151.24 256.80,151.05 257.00,150.96 257.20,150.72 257.40,150.44 257.60,150.15 257.80,148.31 258.00,141.39 258.20,127.96 258.40,119.40 258.40,119.36 258.60,127.85 258.80,141.42 259.00,148.34 259.20,150.14 259.40,150.63 259.60,150.75 259.80,150.88 260.00,150.90 260.20,150.96 260.40,150.87 260.60,150.82 260.80,150.91 261.00,150.75 261.20,150.81 261.40,150.89 261.60,150.88 261.80,150.95 262.00,150.94 262.20,150.93 262.40,150.68 262.60,150.02 262.80,148.87 263.00,148.14 263.00,148.18 263.20,148.90 263.40,150.08 263.60,150.60 263.80,150.74 264.00,150.81 264.20,150.78 264.40,150.79 264.60,150.76 264.80,150.83 265.00,150.76 265.20,150.82 265.40,150.84 265.60,150.75 265.80,150.77 266.00,150.75 266.20,150.77 266.40,150.85 266.60,150.91 266.80,150.86 267.00,150.83 267.20,150.82 267.40,150.88 267.60,150.92 267.80,151.06 268.00,151.02 268.20,150.98 268.40,151.02 268.60,150.88 268.80,150.87 269.00,150.83 269.20,150.83 269.40,150.91 269.60,150.90 269.80,151.01 270.00,150.94 270.20,150.92 270.40,150.90 270.60,150.68 270.80,150.25 271.00,148.91 271.20,147.33 271.30,147.07 271.40,147.38 271.60,149.12 271.80,150.31 272.00,150.88 272.20,150.88 272.40,150.76 272.60,150.81 272.80,150.72 273.00,150.85 273.20,150.86 273.40,150.87 273.60,150.87 273.80,150.83 274.00,150.92 274.20,150.97 274.40,151.00 274.60,151.01 274.80,150.98 275.00,150.86 275.20,150.75 275.40,150.75 275.60,150.68 275.80,150.72 276.00,150.82 276.20,150.78 276.40,150.81 276.60,150.80 276.80,150.79 277.00,150.88 277.20,150.84 277.40,150.87 277.60,150.92 277.80,150.85 278.00,150.91 278.20,150.92 278.40,150.89 278.60,150.92 278.80,150.87 279.00,150.82 279.20,150.80 279.40,150.75 279.60,150.69 279.80,150.18 280.00,149.09 280.20,148.39 280.20,148.51 280.40,149.15 280.60,150.20 280.80,150.68 281.00,150.72 281.20,150.79 281.40,150.78 281.60,150.65 281.80,150.15 282.00,149.04 282.20,148.39 282.20,148.38 282.40,149.00 282.60,150.12 282.80,150.74 283.00,150.98 283.20,151.05 283.40,150.95 283.60,150.86 283.80,150.84 284.00,150.78 284.20,150.85 284.40,150.84 284.60,150.90 284.80,150.89 285.00,150.94 285.20,150.99 285.40,150.90 285.60,150.93 285.80,150.78 286.00,150.71 286.20,150.78 286.40,150.74 286.60,150.76 286.80,150.84 287.00,150.72 287.20,150.81 287.40,150.91 287.60,150.79 287.80,150.81 288.00,150.74 288.20,150.45 288.40,149.92 288.60,149.59 288.60,149.50 288.80,149.83 289.00,150.45 289.20,150.82 289.40,150.91 289.60,151.04 289.80,151.07 290.00,150.92 290.20,150.95 290.40,150.94 290.60,150.78 290.80,150.83 291.00,150.82 291.20,150.71 291.40,150.81 291.60,150.82 291.80,150.75 292.00,150.78 292.20,150.75 292.40,150.76 292.60,150.81 292.80,150.78 293.00,150.75 293.20,150.72 293.40,150.75 293.60,150.73 293.80,150.84 294.00,150.82 294.20,150.89 294.40,150.93 294.60,150.84 294.80,150.86 295.00,150.79 295.20,150.81 295.40,150.79 295.60,150.82 295.80,150.82 296.00,150.82 296.20,150.94 296.40,150.80 296.60,150.77 296.80,150.73 297.00,150.69 297.20,150.91 297.40,150.85 297.60,150.84 297.80,150.81 298.00,150.76 298.20,150.88 298.40,150.89 298.60,150.94 298.80,150.89 299.00,150.89 299.20,150.93 299.40,150.92 299.60,150.92 299.80,150.83 300.00,150.78 300.20,150.77 300.40,150.74 300.60,150.73 300.80,150.76 301.00,150.76 301.20,150.83 301.40,150.84 301.60,150.85 301.80,150.85 302.00,150.79 302.20,150.87 302.40,150.88 302.60,150.81 302.80,150.87 303.00,150.81 303.20,150.88 303.40,150.92 303.60,150.96 303.80,151.09 304.00,151.04 304.20,151.08 304.40,150.98 304.60,150.87 304.80,150.89 305.00,150.96 305.20,151.04 305.40,150.99 305.60,151.02 305.80,150.88 306.00,150.91 306.20,151.01 306.40,150.97 306.60,150.94 306.80,150.88 307.00,150.79 307.20,150.72 307.40,150.78 307.60,150.66 307.80,150.70 308.00,150.75 308.20,150.80 308.40,150.85 308.60,150.82 308.80,150.87 309.00,150.89 309.20,150.83 309.40,150.89 309.60,150.87 309.80,150.77 310.00,150.90 310.20,150.86 310.40,150.79 310.60,150.77 310.80,150.78 311.00,150.74 311.20,150.60 311.40,150.58 311.60,150.48 311.80,150.45 312.00,150.69 312.20,150.71 312.40,150.72 312.60,150.78 312.80,150.74 313.00,150.72 313.20,150.65 313.40,150.60 313.60,150.59 313.80,150.65 314.00,150.77 314.20,150.78 314.40,150.80 314.60,150.83 314.80,150.80 315.00,150.87 315.20,150.84 315.40,150.83 315.60,150.76 315.80,150.75 316.00,150.73 316.20,150.74 316.40,150.83 316.60,150.79 316.80,150.82 317.00,150.88 317.20,150.89 317.40,150.92 317.60,150.90 317.80,150.88 318.00,150.82 318.20,150.82 318.40,150.79 318.60,150.67 318.80,150.74 319.00,150.78 319.20,150.79 319.40,150.85 319.60,150.84 319.80,150.89 320.00,150.90 320.20,151.00 320.40,151.04 320.60,150.86 320.80,150.86 321.00,150.79 321.20,150.70 321.40,150.85 321.60,150.87 321.80,150.87 322.00,150.87 322.20,150.73 322.40,150.73 322.60,150.65 322.80,150.70 323.00,150.80 323.20,150.92 323.40,150.99 323.60,150.86 323.80,150.97 324.00,150.85 324.20,150.89 324.40,151.05 324.60,150.89 324.80,150.81 325.00,150.79 325.20,150.67 325.40,150.62 325.60,150.64 325.80,150.59 326.00,150.67 326.20,150.74 326.40,150.74 326.60,150.76 326.80,150.74 327.00,150.80 327.20,150.77 327.40,150.85 327.60,150.79 327.80,150.80 328.00,150.91 328.20,150.77 328.40,150.82 328.60,150.74 328.80,150.73 329.00,150.81 329.20,150.82 329.40,150.86 329.60,150.79 329.80,150.78 330.00,150.81 330.20,150.79 330.40,150.77 330.60,150.79 330.80,150.71 331.00,150.69 331.20,150.70 331.40,150.67 331.60,150.71 331.80,150.67 332.00,150.68 332.20,150.64 332.40,150.69 332.60,150.87 332.80,150.98 333.00,151.09 333.20,151.13 333.40,150.99 333.60,150.88 333.80,150.74 334.00,150.71 334.20,150.75 334.40,150.72 334.60,150.81 334.80,150.75 335.00,150.79 335.20,150.82 335.40,150.77 335.60,150.77 335.80,150.71 336.00,150.77 336.20,150.78 336.40,150.76 336.60,150.77 336.80,150.66 337.00,150.65 337.20,150.71 337.40,150.65 337.60,150.76 337.80,150.76 338.00,150.71 338.20,150.78 338.40,150.73 338.60,150.70 338.80,150.63 339.00,150.61 339.20,150.55 339.40,150.60 339.60,150.71 339.80,150.68 340.00,150.70 340.20,150.66 340.40,150.64 340.60,150.76 340.80,150.74 341.00,150.73 341.20,150.70 341.40,150.65 341.60,150.68 341.80,150.74 342.00,150.76 342.20,150.71 342.40,150.67 342.60,150.62 342.80,150.62 343.00,150.70 343.20,150.66 343.40,150.71 343.60,150.70 343.80,150.59 344.00,150.68 344.20,150.65 344.40,150.71 344.60,150.69 344.80,150.61 345.00,150.63 345.20,150.62 345.40,150.81 345.60,150.87 345.80,150.96 346.00,150.85 346.20,150.75 346.40,150.84 346.60,150.75 346.80,150.87 347.00,150.81 347.20,150.72 347.40,150.71 347.60,150.70 347.80,150.62 348.00,150.72 348.20,150.71 348.40,150.65 348.60,150.80 348.80,150.74 349.00,150.88 349.20,150.85 349.40,150.78 349.60,150.75 349.80,150.69 350.00,150.70 350.20,150.64 350.40,150.54 350.60,150.39 350.80,150.43 351.00,150.45 351.20,150.64 351.40,150.64 351.60,150.63 351.80,150.59 352.00,150.52 352.20,150.56 352.40,150.53 352.60,150.51 352.80,150.56 353.00,150.56 353.20,150.56 353.40,150.62 353.60,150.55 353.80,150.64 354.00,150.72 354.20,150.76 354.40,150.73 354.60,150.68 354.80,150.60 355.00,150.47 355.20,150.49 355.40,150.49 355.60,150.47 355.80,150.57 356.00,150.65 356.20,150.70 356.40,150.64 356.60,150.68 356.80,150.64 357.00,150.60 357.20,150.67 357.40,150.66 357.60,150.55 357.80,150.51 358.00,150.57 358.20,150.49 358.40,150.57 358.60,150.55 358.80,150.52 359.00,150.64 359.20,150.65 359.40,150.78 359.60,150.75 359.80,150.73 360.00,150.78 360.20,150.62 360.40,150.60 360.60,150.56 360.80,150.48 361.00,150.47 361.20,150.50 361.40,150.42 361.60,150.46 361.80,150.51 362.00,150.55 362.20,150.68 362.40,150.60 362.60,150.60 362.80,150.61 363.00,150.69 363.20,150.78 363.40,150.81 363.60,150.74 363.80,150.73 364.00,150.71 364.20,150.72 364.40,150.80 364.60,150.61 364.80,150.56 365.00,150.46 365.20,150.42 365.40,150.52 365.60,150.55 365.80,150.71 366.00,150.67 366.20,150.65 366.40,150.67 366.60,150.52 366.80,150.54 367.00,150.52 367.20,150.45 367.40,150.50 367.60,150.47 367.80,150.52 368.00,150.53 368.20,150.48 368.40,150.48 368.60,150.45 368.80,150.58 369.00,150.57 369.20,150.65 369.40,150.67 369.60,150.59 369.80,150.68 370.00,150.68 370.20,150.62 370.40,150.53 370.60,150.50 370.80,150.45 371.00,150.49 371.20,150.62 371.40,150.71 371.60,150.72 371.80,150.76 372.00,150.75 372.20,150.62 372.40,150.59 372.60,150.47 372.80,150.36 373.00,150.40 373.20,150.48 373.40,150.51 373.60,150.65 373.80,150.64 374.00,150.61 374.20,150.60 374.40,150.53 374.60,150.56 374.80,150.58 375.00,150.62 375.20,150.70 375.40,150.68 375.60,150.60 375.80,150.68 376.00,150.63 376.20,150.71 376.40,150.74 376.60,150.56 376.80,150.60 377.00,150.59 377.20,150.62 377.40,150.74 377.60,150.81 377.80,150.78 378.00,150.83 378.20,150.79 378.40,150.65 378.60,150.54 378.80,150.44 379.00,150.46 379.20,150.52 379.40,150.68 379.60,150.81 379.80,150.83 380.00,150.82 380.20,150.75 380.40,150.66 380.60,150.73 380.80,150.68 381.00,150.65 381.20,150.58 381.40,150.43 381.60,150.48 381.80,150.55 382.00,150.67 382.20,150.78 382.40,150.71 382.60,150.75 382.80,150.73 383.00,150.67 383.20,150.72 383.40,150.58 383.60,150.52 383.80,150.55 384.00,150.53 384.20,150.58 384.40,150.62 384.60,150.53 384.80,150.61 385.00,150.71 385.20,150.66 385.40,150.76 385.60,150.75 385.80,150.65 386.00,150.69 386.20,150.63 386.40,150.58" fill="none" stroke="#c04ae6" stroke-width="1.15" stroke-linejoin="round" />
<polyline points="241.60,128.14 241.80,128.20 242.00,128.18 242.20,128.15 242.40,128.17 242.60,128.15 242.80,128.08 243.00,128.13 243.20,128.14 243.40,128.05 243.60,128.07 243.80,128.01 244.00,128.02 244.20,127.84 244.40,127.73 244.60,127.28 244.80,125.46 245.00,119.21 245.20,106.46 245.40,98.17 245.40,98.00 245.60,106.21 245.80,118.92 246.00,125.29 246.20,127.27 246.40,127.79 246.60,128.00 246.80,127.97 247.00,128.01 247.20,128.20 247.40,128.03 247.60,128.12 247.80,128.13 248.00,127.93 248.20,128.09 248.40,128.12 248.60,128.12 248.80,128.18 249.00,128.12 249.20,128.16 249.40,128.13 249.60,128.07 249.80,128.28 250.00,128.20 250.20,128.21 250.40,128.16 250.60,128.05 250.80,128.01 251.00,127.99 251.20,128.16 251.40,128.17 251.60,128.18 251.80,128.24 252.00,128.20 252.20,128.11 252.40,127.90 252.60,127.24 252.80,125.83 253.00,125.00 253.00,125.06 253.20,125.80 253.40,127.11 253.60,127.90 253.80,127.94 254.00,128.07 254.20,128.13 254.40,128.00 254.60,128.15 254.80,128.19 255.00,128.25 255.20,128.20 255.40,128.07 255.60,127.96 255.80,127.92 256.00,127.91 256.20,128.03 256.40,127.98 256.60,127.79 256.80,127.62 257.00,127.43 257.20,127.31 257.40,127.19 257.60,126.87 257.80,126.11 258.00,124.39 258.20,117.90 258.40,95.31 258.60,51.20 258.80,21.77 258.80,21.77 259.00,50.94 259.20,95.09 259.40,117.72 259.60,124.10 259.80,125.95 260.00,126.63 260.20,127.01 260.40,127.32 260.60,127.36 260.80,127.58 261.00,127.59 261.20,127.61 261.40,127.66 261.60,127.47 261.80,127.40 262.00,127.13 262.20,126.44 262.40,123.95 262.60,114.54 262.80,96.17 263.00,84.10 263.00,83.99 263.20,96.33 263.40,114.60 263.60,123.88 263.80,126.53 264.00,127.22 264.20,127.55 264.40,127.73 264.60,127.96 264.80,127.98 265.00,128.12 265.20,128.15 265.40,128.13 265.60,127.98 265.80,127.78 266.00,127.28 266.20,126.28 266.40,125.78 266.40,125.70 266.60,126.38 266.80,127.28 267.00,127.95 267.20,128.22 267.40,128.32 267.60,128.36 267.80,128.17 268.00,128.14 268.20,128.13 268.40,128.26 268.60,128.20 268.80,128.29 269.00,128.29 269.20,128.29 269.40,128.34 269.60,128.41 269.80,128.28 270.00,128.20 270.20,128.20 270.40,128.06 270.60,128.14 270.80,127.88 271.00,127.11 271.20,125.18 271.40,123.77 271.40,123.82 271.60,124.93 271.80,126.86 272.00,127.98 272.20,128.28 272.40,128.24 272.60,128.28 272.80,128.29 273.00,128.15 273.20,128.37 273.40,128.39 273.60,128.34 273.80,128.41 274.00,128.23 274.20,128.22 274.40,128.15 274.60,128.11 274.80,128.25 275.00,128.29 275.20,128.31 275.40,128.35 275.60,128.35 275.80,128.24 276.00,128.00 276.20,127.21 276.40,125.46 276.60,124.31 276.60,124.46 276.80,125.40 277.00,127.06 277.20,127.99 277.40,128.07 277.60,128.33 277.80,128.46 278.00,128.47 278.20,128.39 278.40,128.29 278.60,128.04 278.80,128.03 279.00,128.16 279.20,128.10 279.40,128.18 279.60,127.68 279.80,125.93 280.00,122.68 280.20,120.54 280.20,120.38 280.40,122.54 280.60,125.61 280.80,127.13 281.00,126.89 281.20,124.83 281.40,122.43 281.50,121.85 281.60,122.41 281.80,125.15 282.00,127.01 282.20,127.68 282.40,127.97 282.60,128.06 282.80,128.18 283.00,128.17 283.20,128.21 283.40,128.32 283.60,128.44 283.80,128.41 284.00,128.36 284.20,128.19 284.40,128.08 284.60,128.20 284.80,128.38 285.00,128.46 285.20,128.49 285.40,128.43 285.60,128.29 285.80,128.16 286.00,128.21 286.20,128.30 286.40,128.20 286.60,128.41 286.80,128.52 287.00,128.41 287.20,128.52 287.40,128.38 287.60,128.18 287.80,128.28 288.00,128.24 288.20,128.18 288.40,128.11 288.60,128.05 288.80,127.90 289.00,127.85 289.20,127.82 289.40,127.31 289.60,125.80 289.80,122.84 290.00,120.66 290.00,120.79 290.20,122.79 290.40,125.84 290.60,127.62 290.80,128.15 291.00,128.25 291.20,128.41 291.40,128.36 291.60,128.22 291.80,128.39 292.00,128.41 292.20,128.59 292.40,128.61 292.60,128.54 292.80,128.36 293.00,128.05 293.20,127.92 293.40,128.03 293.60,127.97 293.80,128.03 294.00,128.09 294.20,127.97 294.40,128.03 294.60,128.04 294.80,128.04 295.00,128.18 295.20,128.29 295.40,128.37 295.60,128.35 295.80,128.26 296.00,128.22 296.20,128.13 296.40,127.99 296.60,127.63 296.80,126.82 297.00,126.34 297.00,126.42 297.20,126.88 297.40,127.59 297.60,128.13 297.80,128.25 298.00,128.27 298.20,128.40 298.40,128.39 298.60,128.38 298.80,128.22 299.00,128.09 299.20,127.99 299.40,128.00 299.60,128.27 299.80,128.39 300.00,128.37 300.20,128.42 300.40,128.28 300.60,128.31 300.80,128.23 301.00,128.28 301.20,128.31 301.40,128.30 301.60,128.38 301.80,128.18 302.00,128.17 302.20,128.09 302.40,128.05 302.60,127.88 302.80,127.40 303.00,127.02 303.00,126.89 303.20,127.20 303.40,127.60 303.60,127.89 303.80,128.06 304.00,128.11 304.20,128.18 304.40,128.24 304.60,128.30 304.80,128.34 305.00,128.41 305.20,128.42 305.40,128.44 305.60,128.40 305.80,128.23 306.00,128.14 306.20,128.19 306.40,128.03 306.60,128.19 306.80,128.19 307.00,128.19 307.20,128.36 307.40,128.33 307.60,128.37 307.80,128.16 308.00,128.27 308.20,128.34 308.40,128.28 308.60,128.35 308.80,128.26 309.00,128.16 309.20,128.17 309.40,128.26 309.60,128.22 309.80,128.29 310.00,128.41 310.20,128.30 310.40,128.41 310.60,128.45 310.80,128.32 311.00,128.29 311.20,128.19 311.40,128.15 311.60,128.17 311.80,128.24 312.00,128.22 312.20,128.17 312.40,128.25 312.60,128.37 312.80,128.51 313.00,128.48 313.20,128.45 313.40,128.31 313.60,128.18 313.80,128.21 314.00,128.30 314.20,128.40 314.40,128.37 314.60,128.48 314.80,128.35 315.00,128.29 315.20,128.37 315.40,128.26 315.60,128.25 315.80,128.27 316.00,128.28 316.20,128.29 316.40,128.46 316.60,128.49 316.80,128.40 317.00,128.45 317.20,128.32 317.40,128.30 317.60,128.38 317.80,128.36 318.00,128.49 318.20,128.47 318.40,128.46 318.60,128.40 318.80,128.20 319.00,128.15 319.20,128.12 319.40,127.96 319.60,128.08 319.80,128.14 320.00,128.20 320.20,128.39 320.40,128.43 320.60,128.40 320.80,128.28 321.00,128.27 321.20,128.10 321.40,128.15 321.60,127.99 321.80,127.63 322.00,126.19 322.20,123.18 322.40,121.27 322.40,121.16 322.60,123.12 322.80,125.94 323.00,127.36 323.20,127.79 323.40,127.79 323.60,127.97 323.80,128.19 324.00,128.18 324.20,128.50 324.40,128.46 324.60,128.32 324.80,128.48 325.00,128.30 325.20,128.27 325.40,128.34 325.60,128.31 325.80,128.39 326.00,128.43 326.20,128.36 326.40,128.23 326.60,128.17 326.80,128.18 327.00,128.27 327.20,128.33 327.40,128.39 327.60,128.37 327.80,128.33 328.00,128.17 328.20,128.06 328.40,127.96 328.60,127.92 328.80,128.06 329.00,128.03 329.20,128.14 329.40,128.04 329.60,128.01 329.80,128.06 330.00,128.07 330.20,128.25 330.40,128.23 330.60,128.26 330.80,128.22 331.00,128.18 331.20,128.29 331.40,128.34 331.60,128.43 331.80,128.38 332.00,128.29 332.20,128.17 332.40,128.12 332.60,128.30 332.80,128.39 333.00,128.35 333.20,128.36 333.40,128.28 333.60,128.16 333.80,128.21 334.00,128.27 334.20,128.24 334.40,128.27 334.60,128.27 334.80,127.97 335.00,127.99 335.20,128.06 335.40,128.22 335.60,128.60 335.80,128.53 336.00,128.47 336.20,128.30 336.40,128.17 336.60,128.16 336.80,128.18 337.00,128.26 337.20,128.28 337.40,128.38 337.60,128.42 337.80,128.37 338.00,128.30 338.20,128.27 338.40,128.18 338.60,128.22 338.80,128.32 339.00,128.31 339.20,128.22 339.40,128.08 339.60,128.04 339.80,128.09 340.00,128.23 340.20,128.17 340.40,128.19 340.60,128.34 340.80,128.30 341.00,128.46 341.20,128.48 341.40,128.25 341.60,128.18 341.80,128.28 342.00,128.14 342.20,128.23 342.40,128.27 342.60,128.17 342.80,128.17 343.00,128.16 343.20,128.19 343.40,128.20 343.60,128.23 343.80,128.16 344.00,128.23 344.20,128.30 344.40,128.39 344.60,128.35 344.80,128.31 345.00,128.14 345.20,128.18 345.40,128.38 345.60,128.44 345.80,128.58 346.00,128.52 346.20,128.39 346.40,128.24 346.60,128.27 346.80,128.30 347.00,128.28 347.20,128.24 347.40,128.14 347.60,128.05 347.80,128.03 348.00,127.99 348.20,127.93 348.40,127.96 348.60,128.12 348.80,128.15 349.00,128.25 349.20,128.23 349.40,128.13 349.60,128.23 349.80,128.29 350.00,128.31 350.20,128.25 350.40,128.26 350.60,128.19 350.80,128.24 351.00,128.33 351.20,128.35 351.40,128.35 351.60,128.28 351.80,128.22 352.00,128.20 352.20,128.28 352.40,128.39 352.60,128.36 352.80,128.34 353.00,128.26 353.20,128.28 353.40,128.27 353.60,128.28 353.80,128.13 354.00,128.04 354.20,128.03 354.40,128.02 354.60,128.24 354.80,128.13 355.00,128.03 355.20,128.06 355.40,127.96 355.60,128.08 355.80,128.33 356.00,128.24 356.20,128.20 356.40,128.10 356.60,127.89 356.80,127.90 357.00,128.06 357.20,128.06 357.40,128.08 357.60,128.16 357.80,128.12 358.00,128.04 358.20,128.14 358.40,128.08 358.60,128.07 358.80,128.16 359.00,128.12 359.20,128.08 359.40,128.20 359.60,128.29 359.80,128.38 360.00,128.50 360.20,128.36 360.40,128.42 360.60,128.41 360.80,128.53 361.00,128.59 361.20,128.61 361.40,128.48 361.60,128.27 361.80,128.19 362.00,127.98 362.20,128.03 362.40,128.04 362.60,127.99 362.80,128.14 363.00,128.14 363.20,128.18 363.40,128.15 363.60,128.08 363.80,128.07 364.00,128.01 364.20,128.18 364.40,128.22 364.60,128.20 364.80,128.19 365.00,128.17 365.20,128.10 365.40,128.15 365.60,128.30 365.80,128.34 366.00,128.39 366.20,128.40 366.40,128.33 366.60,128.23 366.80,128.23 367.00,128.32 367.20,128.33 367.40,128.36 367.60,128.34 367.80,128.32 368.00,128.27 368.20,128.28 368.40,128.22 368.60,128.14 368.80,128.19 369.00,128.11 369.20,128.20 369.40,128.23 369.60,128.18 369.80,128.26 370.00,128.26 370.20,128.22 370.40,128.26 370.60,128.28 370.80,128.19 371.00,128.14 371.20,128.19 371.40,128.06 371.60,128.09 371.80,128.02 372.00,127.94 372.20,128.01 372.40,127.95 372.60,128.12 372.80,128.05 373.00,128.01 373.20,128.17 373.40,128.25 373.60,128.33 373.80,128.44 374.00,128.32 374.20,128.28 374.40,128.18 374.60,128.13 374.80,128.16 375.00,128.03 375.20,128.12 375.40,128.06 375.60,128.07 375.80,128.18 376.00,128.14 376.20,128.12 376.40,128.12 376.60,128.04 376.80,128.09 377.00,128.06 377.20,128.11 377.40,128.08 377.60,128.14 377.80,128.28 378.00,128.18 378.20,128.29 378.40,128.32 378.60,128.25 378.80,128.33 379.00,128.22 379.20,128.21 379.40,128.24 379.60,128.31 379.80,128.43 380.00,128.37 380.20,128.30 380.40,128.25 380.60,128.26 380.80,128.25 381.00,128.37 381.20,128.34 381.40,128.25 381.60,128.22 381.80,128.15 382.00,128.18 382.20,128.14 382.40,128.18 382.60,128.18 382.80,128.07 383.00,128.07 383.20,128.10 383.40,128.18 383.60,128.20 383.80,128.19 384.00,128.17 384.20,128.07 384.40,128.10 384.60,128.10 384.80,128.15 385.00,128.14 385.20,128.19 385.40,128.25 385.60,128.16 385.80,128.18 386.00,128.14 386.20,128.18 386.40,128.22" fill="none" stroke="#000000" stroke-width="1.2" stroke-linejoin="round" />
<polyline points="241.60,108.36 241.80,108.31 242.00,108.35 242.20,108.34 242.40,108.27 242.60,108.27 242.80,108.14 243.00,108.02 243.20,108.12 243.40,108.07 243.60,108.10 243.80,108.09 244.00,107.88 244.20,107.64 244.40,107.16 244.60,105.89 244.80,100.80 245.00,86.78 245.20,68.70 245.30,65.20 245.40,68.67 245.60,86.86 245.80,100.93 246.00,106.10 246.20,107.27 246.40,107.63 246.60,107.85 246.80,107.98 247.00,108.05 247.20,108.19 247.40,108.20 247.60,108.26 247.80,108.45 248.00,108.37 248.20,108.33 248.40,108.18 248.60,108.10 248.80,108.16 249.00,108.20 249.20,108.33 249.40,108.38 249.60,108.37 249.80,108.40 250.00,108.39 250.20,108.34 250.40,108.37 250.60,108.34 250.80,108.32 251.00,108.29 251.20,108.22 251.40,108.22 251.60,108.23 251.80,108.20 252.00,107.90 252.20,106.82 252.40,104.88 252.60,103.53 252.60,103.54 252.80,104.97 253.00,106.90 253.20,107.89 253.40,108.22 253.60,108.21 253.80,108.20 254.00,108.32 254.20,108.33 254.40,108.50 254.60,108.47 254.80,108.41 255.00,108.39 255.20,108.29 255.40,108.33 255.60,108.40 255.80,108.37 256.00,108.25 256.20,108.23 256.40,108.13 256.60,108.08 256.80,108.04 257.00,107.97 257.20,107.93 257.40,107.84 257.60,107.76 257.80,107.32 258.00,105.91 258.20,100.67 258.40,86.20 258.60,67.65 258.70,64.09 258.80,67.58 259.00,86.17 259.20,100.54 259.40,105.94 259.60,107.19 259.80,107.60 260.00,107.71 260.20,107.81 260.40,107.88 260.60,108.02 260.80,108.09 261.00,108.17 261.20,108.21 261.40,108.05 261.60,108.13 261.80,108.06 262.00,108.04 262.20,108.03 262.40,107.86 262.60,107.76 262.80,107.62 263.00,106.78 263.20,104.08 263.40,98.63 263.60,94.85 263.60,94.98 263.80,98.68 264.00,104.12 264.20,107.06 264.40,107.79 264.60,107.99 264.80,108.18 265.00,108.20 265.20,108.26 265.40,108.16 265.60,108.19 265.80,108.32 266.00,108.33 266.20,108.44 266.40,108.35 266.60,108.33 266.80,108.28 267.00,108.32 267.20,108.21 267.40,108.18 267.60,108.22 267.80,108.25 268.00,108.39 268.20,108.33 268.40,108.33 268.60,108.20 268.80,108.26 269.00,108.34 269.20,108.35 269.40,108.34 269.60,108.27 269.80,108.21 270.00,108.21 270.20,108.27 270.40,108.25 270.60,108.19 270.80,108.02 271.00,107.20 271.20,105.58 271.40,104.50 271.40,104.51 271.60,105.57 271.80,107.14 272.00,107.99 272.20,108.17 272.40,108.21 272.60,108.27 272.80,108.32 273.00,108.26 273.20,108.26 273.40,108.25 273.60,108.15 273.80,108.25 274.00,108.25 274.20,108.22 274.40,108.18 274.60,108.09 274.80,108.10 275.00,108.21 275.20,108.26 275.40,108.21 275.60,108.20 275.80,107.84 276.00,107.16 276.20,106.25 276.30,106.05 276.40,106.24 276.60,107.09 276.80,107.86 277.00,108.10 277.20,108.10 277.40,108.24 277.60,108.24 277.80,108.28 278.00,108.30 278.20,108.27 278.40,108.30 278.60,108.14 278.80,108.11 279.00,108.06 279.20,107.93 279.40,107.90 279.60,107.19 279.80,104.35 280.00,98.96 280.20,95.31 280.20,95.22 280.40,98.92 280.60,104.34 280.80,107.03 281.00,107.69 281.20,107.25 281.40,105.85 281.60,104.12 281.70,103.79 281.80,104.24 282.00,106.22 282.20,107.53 282.40,108.07 282.60,108.22 282.80,108.16 283.00,108.21 283.20,108.26 283.40,108.21 283.60,108.25 283.80,108.25 284.00,108.25 284.20,108.25 284.40,108.23 284.60,108.26 284.80,108.21 285.00,108.15 285.20,108.19 285.40,108.18 285.60,108.26 285.80,108.33 286.00,108.29 286.20,108.38 286.40,108.38 286.60,108.41 286.80,108.42 287.00,108.37 287.20,108.31 287.40,108.24 287.60,108.26 287.80,108.23 288.00,108.26 288.20,108.27 288.40,108.15 288.60,108.12 288.80,108.13 289.00,108.08 289.20,108.03 289.40,107.98 289.60,107.46 289.80,106.01 290.00,104.09 290.10,103.73 290.20,104.08 290.40,105.94 290.60,107.43 290.80,107.86 291.00,107.87 291.20,108.05 291.40,108.19 291.60,108.17 291.80,108.31 292.00,108.24 292.20,108.19 292.40,108.33 292.60,108.35 292.80,108.36 293.00,108.32 293.20,108.31 293.40,108.36 293.60,108.29 293.80,108.28 294.00,108.24 294.20,108.11 294.40,108.16 294.60,108.24 294.80,108.27 295.00,108.30 295.20,108.32 295.40,108.24 295.60,108.25 295.80,108.24 296.00,108.18 296.20,108.19 296.40,108.15 296.60,108.25 296.80,108.30 297.00,108.31 297.20,108.42 297.40,108.34 297.60,108.41 297.80,108.45 298.00,108.38 298.20,108.32 298.40,108.28 298.60,108.23 298.80,108.14 299.00,108.21 299.20,108.18 299.40,108.21 299.60,108.31 299.80,108.18 300.00,108.21 300.20,108.12 300.40,107.98 300.60,108.09 300.80,108.05 301.00,108.01 301.20,108.09 301.40,108.10 301.60,108.18 301.80,108.34 302.00,108.35 302.20,108.26 302.40,108.19 302.60,108.16 302.80,108.20 303.00,108.32 303.20,108.34 303.40,108.34 303.60,108.28 303.80,108.22 304.00,108.24 304.20,108.27 304.40,108.23 304.60,108.23 304.80,108.19 305.00,108.18 305.20,108.24 305.40,108.39 305.60,108.41 305.80,108.34 306.00,108.33 306.20,108.18 306.40,108.17 306.60,108.22 306.80,108.30 307.00,108.40 307.20,108.43 307.40,108.36 307.60,108.31 307.80,108.20 308.00,108.17 308.20,108.24 308.40,108.21 308.60,108.35 308.80,108.35 309.00,108.31 309.20,108.28 309.40,108.14 309.60,107.79 309.80,107.26 310.00,106.87 310.00,106.81 310.20,107.15 310.40,107.67 310.60,108.04 310.80,108.09 311.00,108.25 311.20,108.23 311.40,108.18 311.60,108.16 311.80,108.14 312.00,108.20 312.20,108.22 312.40,108.32 312.60,108.27 312.80,108.34 313.00,108.34 313.20,108.25 313.40,108.26 313.60,108.17 313.80,108.10 314.00,108.09 314.20,108.19 314.40,108.21 314.60,108.32 314.80,108.49 315.00,108.45 315.20,108.39 315.40,108.38 315.60,108.23 315.80,108.26 316.00,108.33 316.20,108.35 316.40,108.34 316.60,108.20 316.80,108.18 317.00,108.16 317.20,108.21 317.40,108.27 317.60,108.24 317.80,108.18 318.00,108.21 318.20,108.15 318.40,108.16 318.60,108.21 318.80,108.18 319.00,108.22 319.20,108.21 319.40,108.20 319.60,108.24 319.80,108.18 320.00,108.31 320.20,108.31 320.40,108.26 320.60,108.28 320.80,108.13 321.00,108.14 321.20,108.15 321.40,108.05 321.60,107.82 321.80,107.34 322.00,106.98 322.00,107.16 322.20,107.55 322.40,107.97 322.60,108.16 322.80,108.13 323.00,108.07 323.20,108.08 323.40,108.10 323.60,108.13 323.80,108.15 324.00,108.23 324.20,108.32 324.40,108.27 324.60,108.28 324.80,108.19 325.00,108.16 325.20,108.13 325.40,108.15 325.60,108.08 325.80,108.09 326.00,108.14 326.20,108.14 326.40,108.20 326.60,108.19 326.80,108.22 327.00,108.18 327.20,108.24 327.40,108.23 327.60,108.18 327.80,108.16 328.00,108.08 328.20,108.09 328.40,108.11 328.60,108.21 328.80,108.25 329.00,108.31 329.20,108.37 329.40,108.18 329.60,108.22 329.80,108.20 330.00,108.15 330.20,108.30 330.40,108.35 330.60,108.24 330.80,108.27 331.00,108.22 331.20,108.24 331.40,108.16 331.60,108.12 331.80,108.07 332.00,108.00 332.20,108.13 332.40,108.16 332.60,108.22 332.80,108.27 333.00,108.21 333.20,108.24 333.40,108.25 333.60,108.14 333.80,108.19 334.00,108.16 334.20,108.17 334.40,108.17 334.60,108.15 334.80,108.24 335.00,108.33 335.20,108.34 335.40,108.33 335.60,108.20 335.80,108.04 336.00,108.01 336.20,108.01 336.40,108.10 336.60,108.21 336.80,108.34 337.00,108.45 337.20,108.35 337.40,108.29 337.60,108.16 337.80,108.04 338.00,108.09 338.20,108.16 338.40,108.18 338.60,108.16 338.80,108.13 339.00,108.06 339.20,108.04 339.40,108.10 339.60,108.09 339.80,108.08 340.00,108.12 340.20,108.09 340.40,108.08 340.60,108.09 340.80,108.18 341.00,108.19 341.20,108.24 341.40,108.25 341.60,108.11 341.80,108.03 342.00,108.03 342.20,107.99 342.40,108.05 342.60,108.11 342.80,108.02 343.00,108.12 343.20,108.27 343.40,108.37 343.60,108.37 343.80,108.28 344.00,108.17 344.20,108.04 344.40,108.09 344.60,108.13 344.80,108.20 345.00,108.18 345.20,108.20 345.40,108.12 345.60,107.92 345.80,108.03 346.00,107.93 346.20,107.97 346.40,108.12 346.60,108.10 346.80,108.18 347.00,108.25 347.20,108.18 347.40,108.14 347.60,108.22 347.80,108.18 348.00,108.16 348.20,108.14 348.40,108.04 348.60,108.09 348.80,108.10 349.00,108.17 349.20,108.27 349.40,108.28 349.60,108.24 349.80,108.30 350.00,108.10 350.20,108.06 350.40,108.06 350.60,107.96 350.80,108.06 351.00,107.99 351.20,108.06 351.40,108.07 351.60,108.19 351.80,108.21 352.00,108.16 352.20,108.19 352.40,108.06 352.60,108.07 352.80,108.10 353.00,108.09 353.20,108.15 353.40,108.19 353.60,108.28 353.80,108.32 354.00,108.29 354.20,108.22 354.40,108.10 354.60,108.13 354.80,108.12 355.00,108.13 355.20,108.19 355.40,108.16 355.60,108.26 355.80,108.30 356.00,108.23 356.20,108.22 356.40,108.13 356.60,108.07 356.80,108.18 357.00,108.15 357.20,108.16 357.40,108.22 357.60,108.20 357.80,108.23 358.00,108.25 358.20,108.18 358.40,108.13 358.60,108.10 358.80,108.08 359.00,108.16 359.20,108.12 359.40,108.13 359.60,108.00 359.80,108.02 360.00,108.12 360.20,108.09 360.40,108.18 360.60,108.11 360.80,108.03 361.00,108.07 361.20,108.13 361.40,108.08 361.60,108.13 361.80,108.08 362.00,108.10 362.20,108.08 362.40,108.05 362.60,108.11 362.80,108.05 363.00,108.09 363.20,108.14 363.40,108.11 363.60,108.13 363.80,108.10 364.00,108.05 364.20,108.13 364.40,108.17 364.60,108.31 364.80,108.29 365.00,108.38 365.20,108.31 365.40,108.35 365.60,108.43 365.80,108.24 366.00,108.26 366.20,108.13 366.40,108.12 366.60,108.15 366.80,108.14 367.00,108.16 367.20,108.09 367.40,108.14 367.60,108.10 367.80,108.05 368.00,108.03 368.20,108.03 368.40,108.05 368.60,108.00 368.80,108.01 369.00,107.99 369.20,108.01 369.40,108.10 369.60,108.12 369.80,108.11 370.00,108.11 370.20,108.14 370.40,108.17 370.60,108.25 370.80,108.23 371.00,108.22 371.20,108.31 371.40,108.16 371.60,108.16 371.80,108.20 372.00,108.11 372.20,108.15 372.40,108.25 372.60,108.26 372.80,108.29 373.00,108.29 373.20,108.24 373.40,108.14 373.60,108.20 373.80,108.17 374.00,108.08 374.20,108.03 374.40,107.93 374.60,108.04 374.80,108.09 375.00,108.22 375.20,108.25 375.40,108.21 375.60,108.24 375.80,108.18 376.00,108.14 376.20,108.16 376.40,108.17 376.60,108.22 376.80,108.26 377.00,108.26 377.20,108.20 377.40,108.18 377.60,108.11 377.80,108.00 378.00,108.07 378.20,108.02 378.40,108.09 378.60,108.16 378.80,108.13 379.00,108.03 379.20,108.00 379.40,108.00 379.60,107.95 379.80,108.06 380.00,108.05 380.20,108.05 380.40,108.10 380.60,108.07 380.80,108.01 381.00,108.03 381.20,108.03 381.40,108.04 381.60,108.12 381.80,108.05 382.00,108.05 382.20,108.07 382.40,108.11 382.60,108.16 382.80,108.05 383.00,107.97 383.20,107.93 383.40,108.03 383.60,108.09 383.80,108.19 384.00,108.20 384.20,108.13 384.40,108.16 384.60,108.08 384.80,108.09 385.00,108.14 385.20,108.06 385.40,108.10 385.60,108.11 385.80,108.05 386.00,108.13 386.20,108.09 386.40,108.08" fill="none" stroke="#0a3cff" stroke-width="1.2" stroke-linejoin="round" />
<polyline points="241.60,86.18 241.80,84.08 242.00,84.28 242.20,83.46 242.40,83.18 242.60,82.64 242.80,84.23 243.00,83.78 243.20,81.84 243.40,83.29 243.60,83.50 243.80,84.38 244.00,83.33 244.20,82.35 244.40,81.61 244.60,82.60 244.80,82.93 245.00,82.36 245.20,81.35 245.40,81.45 245.60,79.93 245.80,81.78 246.00,82.67 246.20,81.50 246.40,81.81 246.60,82.93 246.80,81.99 247.00,83.59 247.20,82.59 247.40,83.35 247.60,82.15 247.80,83.00 248.00,84.08 248.20,81.40 248.40,83.91 248.60,80.78 248.80,82.57 249.00,83.29 249.20,82.22 249.40,83.04 249.60,83.95 249.80,83.11 250.00,81.10 250.20,83.50 250.40,83.61 250.60,82.70 250.80,82.48 251.00,82.44 251.20,80.84 251.40,81.86 251.60,83.65 251.80,82.98 252.00,82.55 252.20,81.44 252.40,81.43 252.60,82.18 252.80,81.64 253.00,81.47 253.20,80.86 253.40,81.69 253.60,80.50 253.80,80.83 254.00,81.71 254.20,79.14 254.40,81.11 254.60,79.67 254.80,78.20 255.00,79.31 255.20,79.25 255.40,81.01 255.60,80.93 255.80,81.92 256.00,79.39 256.20,79.42 256.40,79.52 256.60,80.95 256.80,80.01 257.00,79.17 257.20,77.90 257.40,79.20 257.60,72.14 257.80,64.18 258.00,50.18 258.20,42.59 258.20,40.82 258.40,51.59 258.60,64.36 258.80,72.85 259.00,76.95 259.20,78.83 259.40,78.86 259.60,80.45 259.80,78.99 260.00,80.39 260.20,81.90 260.40,80.48 260.60,81.18 260.80,81.13 261.00,78.71 261.20,81.33 261.40,79.93 261.60,80.62 261.80,80.67 262.00,79.91 262.20,79.48 262.40,77.95 262.60,79.65 262.80,78.81 263.00,78.96 263.20,79.23 263.40,77.33 263.60,79.44 263.80,80.00 264.00,78.61 264.20,77.57 264.40,81.25 264.60,80.16 264.80,80.20 265.00,79.97 265.20,79.50 265.40,79.55 265.60,80.35 265.80,80.38 266.00,80.09 266.20,79.68 266.40,80.72 266.60,79.63 266.80,79.28 267.00,79.55 267.20,79.43 267.40,81.53 267.60,80.40 267.80,81.86 268.00,81.59 268.20,82.74 268.40,81.75 268.60,81.72 268.80,80.45 269.00,79.27 269.20,81.37 269.40,81.77 269.60,80.28 269.80,80.10 270.00,80.14 270.20,79.78 270.40,81.40 270.60,80.14 270.80,80.88 271.00,80.42 271.20,79.25 271.40,81.68 271.60,79.71 271.80,79.11 272.00,81.02 272.20,80.26 272.40,79.28 272.60,78.61 272.80,78.11 273.00,78.48 273.20,79.67 273.40,78.40 273.60,80.05 273.80,78.67 274.00,79.74 274.20,78.05 274.40,78.76 274.60,78.54 274.80,78.15 275.00,78.10 275.20,77.49 275.40,77.62 275.60,79.25 275.80,77.62 276.00,78.49 276.20,78.35 276.40,77.40 276.60,77.83 276.80,76.98 277.00,76.40 277.20,75.97 277.40,75.42 277.60,75.08 277.80,77.41 278.00,75.50 278.20,75.41 278.40,76.07 278.60,72.50 278.80,75.27 279.00,75.05 279.20,74.77 279.40,74.02 279.60,74.04 279.80,75.25 280.00,75.42 280.20,74.62 280.40,74.27 280.60,74.31 280.80,74.13 281.00,73.41 281.20,74.81 281.40,73.92 281.60,73.15 281.80,74.73 282.00,74.54 282.20,74.79 282.40,74.90 282.60,74.11 282.80,74.86 283.00,74.91 283.20,74.09 283.40,75.99 283.60,76.52 283.80,75.68 284.00,75.77 284.20,75.98 284.40,76.35 284.60,75.21 284.80,76.29 285.00,76.02 285.20,75.60 285.40,76.46 285.60,75.90 285.80,76.48 286.00,77.66 286.20,78.51 286.40,76.56 286.60,75.92 286.80,78.13 287.00,76.16 287.20,77.43 287.40,77.23 287.60,77.38 287.80,76.97 288.00,76.08 288.20,77.93 288.40,77.12 288.60,76.48 288.80,77.53 289.00,76.73 289.20,79.47 289.40,77.97 289.60,76.69 289.80,77.40 290.00,76.97 290.20,76.74 290.40,76.76 290.60,77.29 290.80,77.82 291.00,77.53 291.20,77.25 291.40,77.88 291.60,78.48 291.80,77.10 292.00,78.80 292.20,78.90 292.40,76.71 292.60,77.68 292.80,77.40 293.00,78.05 293.20,79.00 293.40,78.43 293.60,76.91 293.80,78.11 294.00,77.73 294.20,79.29 294.40,77.71 294.60,77.30 294.80,77.76 295.00,77.58 295.20,76.57 295.40,77.10 295.60,76.89 295.80,76.66 296.00,76.56 296.20,77.76 296.40,77.68 296.60,78.81 296.80,76.78 297.00,77.07 297.20,77.16 297.40,79.07 297.60,77.40 297.80,78.83 298.00,75.07 298.20,76.78 298.40,79.61 298.60,77.08 298.80,78.44 299.00,76.84 299.20,76.37 299.40,78.03 299.60,77.78 299.80,77.72 300.00,79.57 300.20,76.95 300.40,77.53 300.60,78.73 300.80,78.85 301.00,77.10 301.20,78.27 301.40,77.88 301.60,76.65 301.80,78.51 302.00,77.52 302.20,77.46 302.40,77.51 302.60,78.38 302.80,76.11 303.00,77.94 303.20,77.21 303.40,76.56 303.60,77.28 303.80,77.62 304.00,77.79 304.20,76.84 304.40,78.00 304.60,77.59 304.80,76.59 305.00,77.79 305.20,78.09 305.40,76.91 305.60,79.08 305.80,79.42 306.00,75.71 306.20,77.82 306.40,76.84 306.60,76.61 306.80,78.73 307.00,77.72 307.20,77.60 307.40,78.41 307.60,77.69 307.80,76.64 308.00,77.59 308.20,79.15 308.40,78.01 308.60,78.65 308.80,77.89 309.00,76.59 309.20,76.81 309.40,78.62 309.60,78.54 309.80,79.77 310.00,79.07 310.20,78.05 310.40,79.21 310.60,76.13 310.80,77.46 311.00,77.61 311.20,76.10 311.40,78.24 311.60,77.18 311.80,78.12 312.00,79.01 312.20,77.35 312.40,77.79 312.60,78.88 312.80,77.14 313.00,79.44 313.20,78.25 313.40,76.80 313.60,78.02 313.80,79.39 314.00,77.42 314.20,79.12 314.40,77.74 314.60,77.46 314.80,78.46 315.00,79.39 315.20,77.56 315.40,76.88 315.60,78.83 315.80,79.06 316.00,78.74 316.20,79.13 316.40,78.34 316.60,77.87 316.80,78.16 317.00,79.89 317.20,78.28 317.40,78.68 317.60,79.04 317.80,79.45 318.00,77.77 318.20,78.24 318.40,77.84 318.60,80.00 318.80,78.51 319.00,78.17 319.20,79.63 319.40,78.36 319.60,78.99 319.80,80.12 320.00,79.81 320.20,80.23 320.40,78.07 320.60,78.21 320.80,78.89 321.00,79.10 321.20,77.48 321.40,78.64 321.60,80.14 321.80,78.88 322.00,78.15 322.20,78.44 322.40,77.57 322.60,79.84 322.80,79.52 323.00,77.24 323.20,79.50 323.40,79.62 323.60,79.93 323.80,77.33 324.00,80.12 324.20,80.01 324.40,78.97 324.60,78.66 324.80,78.14 325.00,77.17 325.20,79.76 325.40,76.42 325.60,78.85 325.80,79.61 326.00,79.02 326.20,79.69 326.40,78.91 326.60,78.26 326.80,78.43 327.00,77.97 327.20,78.78 327.40,78.23 327.60,80.00 327.80,77.97 328.00,78.95 328.20,79.45 328.40,79.34 328.60,80.04 328.80,77.73 329.00,78.08 329.20,78.25 329.40,80.00 329.60,79.10 329.80,78.86 330.00,79.93 330.20,79.52 330.40,77.77 330.60,79.17 330.80,79.46 331.00,80.66 331.20,79.75 331.40,79.57 331.60,79.52 331.80,78.34 332.00,77.87 332.20,78.40 332.40,80.57 332.60,79.25 332.80,79.19 333.00,76.89 333.20,79.04 333.40,78.97 333.60,78.27 333.80,78.62 334.00,80.02 334.20,79.15 334.40,78.14 334.60,79.00 334.80,79.26 335.00,78.88 335.20,79.55 335.40,80.48 335.60,79.90 335.80,77.68 336.00,78.40 336.20,79.11 336.40,79.97 336.60,80.48 336.80,79.82 337.00,79.19 337.20,80.50 337.40,81.16 337.60,78.46 337.80,79.19 338.00,79.75 338.20,79.68 338.40,79.91 338.60,80.59 338.80,79.68 339.00,78.87 339.20,80.62 339.40,79.92 339.60,80.39 339.80,77.92 340.00,79.11 340.20,81.92 340.40,78.49 340.60,78.14 340.80,79.77 341.00,80.67 341.20,78.60 341.40,79.56 341.60,79.97 341.80,79.83 342.00,80.49 342.20,81.63 342.40,80.16 342.60,79.82 342.80,81.40 343.00,81.06 343.20,79.50 343.40,80.01 343.60,80.35 343.80,81.22 344.00,80.76 344.20,79.84 344.40,80.43 344.60,79.15 344.80,79.75 345.00,80.86 345.20,79.85 345.40,80.43 345.60,81.01 345.80,79.53 346.00,81.62 346.20,78.27 346.40,79.32 346.60,81.06 346.80,81.03 347.00,79.46 347.20,78.58 347.40,80.73 347.60,80.39 347.80,79.37 348.00,80.35 348.20,80.91 348.40,79.10 348.60,78.86 348.80,80.50 349.00,80.84 349.20,82.54 349.40,79.84 349.60,81.61 349.80,80.62 350.00,80.63 350.20,80.83 350.40,81.09 350.60,79.93 350.80,80.44 351.00,80.43 351.20,78.81 351.40,81.79 351.60,80.64 351.80,79.28 352.00,80.82 352.20,79.01 352.40,79.71 352.60,80.31 352.80,81.26 353.00,81.28 353.20,80.58 353.40,80.65 353.60,80.26 353.80,81.50 354.00,80.83 354.20,80.78 354.40,80.43 354.60,80.26 354.80,81.35 355.00,80.86 355.20,80.39 355.40,79.29 355.60,80.92 355.80,81.39 356.00,79.56 356.20,78.55 356.40,80.89 356.60,80.57 356.80,80.71 357.00,81.12 357.20,81.81 357.40,79.79 357.60,80.12 357.80,79.37 358.00,81.04 358.20,80.50 358.40,80.19 358.60,80.79 358.80,78.99 359.00,81.04 359.20,81.18 359.40,81.73 359.60,82.24 359.80,81.35 360.00,80.15 360.20,80.35 360.40,82.01 360.60,78.99 360.80,81.35 361.00,80.97 361.20,80.75 361.40,79.42 361.60,78.96 361.80,82.22 362.00,82.89 362.20,81.31 362.40,81.64 362.60,80.01 362.80,80.51 363.00,81.00 363.20,80.95 363.40,80.48 363.60,80.05 363.80,80.00 364.00,81.97 364.20,81.71 364.40,81.88 364.60,81.90 364.80,82.23 365.00,80.48 365.20,82.02 365.40,80.43 365.60,81.15 365.80,82.21 366.00,81.68 366.20,80.97 366.40,82.12 366.60,81.86 366.80,80.08 367.00,81.03 367.20,79.43 367.40,79.93 367.60,80.90 367.80,80.39 368.00,82.14 368.20,82.20 368.40,80.73 368.60,81.22 368.80,82.63 369.00,82.58 369.20,81.23 369.40,81.95 369.60,81.55 369.80,83.16 370.00,82.72 370.20,81.37 370.40,81.74 370.60,81.45 370.80,81.49 371.00,80.71 371.20,80.40 371.40,81.07 371.60,81.90 371.80,80.17 372.00,80.60 372.20,81.16 372.40,80.23 372.60,82.49 372.80,82.06 373.00,82.16 373.20,80.79 373.40,80.54 373.60,80.90 373.80,81.85 374.00,80.81 374.20,82.25 374.40,81.76 374.60,82.32 374.80,81.45 375.00,82.29 375.20,82.38 375.40,82.72 375.60,80.69 375.80,80.31 376.00,80.93 376.20,82.79 376.40,81.47 376.60,82.69 376.80,81.95 377.00,82.45 377.20,82.78 377.40,81.11 377.60,81.54 377.80,82.38 378.00,82.32 378.20,80.68 378.40,82.65 378.60,80.22 378.80,81.72 379.00,81.69 379.20,82.70 379.40,82.67 379.60,82.09 379.80,82.98 380.00,82.10 380.20,80.75 380.40,81.26 380.60,82.75 380.80,82.40 381.00,82.40 381.20,82.83 381.40,82.21 381.60,80.76 381.80,82.93 382.00,83.89 382.20,83.08 382.40,81.24 382.60,81.34 382.80,80.80 383.00,82.52 383.20,82.29 383.40,81.27 383.60,82.55 383.80,81.55 384.00,82.39 384.20,82.87 384.40,80.88 384.60,84.44 384.80,80.78 385.00,81.85 385.20,82.98 385.40,81.31 385.60,81.50 385.80,83.06 386.00,82.50 386.20,81.56 386.40,81.64" fill="none" stroke="#fa0a1e" stroke-width="1.5" stroke-linejoin="round" />
<path d="M241.20 3.20 V156.50 H386.40" fill="none" stroke="#666" stroke-width="1.7"/>
<path d="M241.41 156.50 v1.80 M254.60 156.50 v3.20 M267.78 156.50 v1.80 M280.97 156.50 v3.20 M294.15 156.50 v1.80 M307.34 156.50 v3.20 M320.52 156.50 v1.80 M333.71 156.50 v3.20 M346.89 156.50 v1.80 M360.08 156.50 v3.20 M373.26 156.50 v1.80 M386.45 156.50 v3.20 " fill="none" stroke="#666" stroke-width="1"/>
<text x="254.60" y="170.00" font-size="9.5" text-anchor="middle">10</text>
<text x="280.97" y="170.00" font-size="9.5" text-anchor="middle">20</text>
<text x="307.34" y="170.00" font-size="9.5" text-anchor="middle">30</text>
<text x="333.71" y="170.00" font-size="9.5" text-anchor="middle">40</text>
<text x="360.08" y="170.00" font-size="9.5" text-anchor="middle">50</text>
<text x="386.45" y="170.00" font-size="9.5" text-anchor="middle">60</text>
<text x="319.50" y="185.50" font-size="11.8" text-anchor="middle">2-Theta(<tspan font-size="7.1" dy="-6.1">o</tspan><tspan dy="6.1">)</tspan></text>
<text transform="translate(232.60 86.50) rotate(-90)" font-size="11.7" text-anchor="middle">Intensity (a.u.)</text>
<text transform="translate(369.80 24.80) scale(0.93 1)" font-size="10.22" text-anchor="start">B</text>
<text transform="translate(299.50 64.40) scale(0.9 1)" font-size="11.11" text-anchor="start">Cu-FDC-SE(CHCl<tspan font-size="7.6" dy="3.2">3</tspan><tspan dy="-3.2">)</tspan></text>
<text transform="translate(365.20 77.90) scale(0.9 1)" font-size="10.44" text-anchor="start">x10</text>
<text transform="translate(329.80 104.30) scale(0.9 1)" font-size="11.0" text-anchor="start">Cu-FDC-FD</text>
<text transform="translate(329.80 125.20) scale(0.9 1)" font-size="11.0" text-anchor="start">Cu-FDC-as</text>
<text transform="translate(337.30 147.60) scale(0.9 1)" font-size="11.0" text-anchor="start">Simulated</text>
<polyline points="41.60,359.64 41.80,359.62 42.00,359.54 42.20,359.52 42.40,359.46 42.60,359.37 42.80,359.54 43.00,359.48 43.20,359.50 43.40,359.55 43.60,359.36 43.80,359.31 44.00,359.21 44.20,359.24 44.40,359.18 44.60,359.07 44.80,359.08 45.00,358.87 45.20,358.74 45.40,358.65 45.60,358.45 45.80,357.67 46.00,354.56 46.20,348.47 46.40,344.08 46.40,343.87 46.60,348.12 46.80,354.27 47.00,357.35 47.20,358.37 47.40,358.68 47.60,358.82 47.80,358.88 48.00,358.84 48.20,358.79 48.40,358.70 48.60,358.62 48.80,358.56 49.00,358.48 49.20,358.46 49.40,358.53 49.60,358.54 49.80,358.72 50.00,358.66 50.20,358.62 50.40,358.61 50.60,358.58 50.80,358.71 51.00,358.69 51.20,358.76 51.40,358.70 51.60,358.47 51.80,358.37 52.00,358.21 52.20,358.34 52.40,358.45 52.60,358.59 52.80,358.68 53.00,358.44 53.20,358.55 53.40,358.44 53.60,358.46 53.80,358.65 54.00,358.46 54.20,358.49 54.40,358.41 54.60,358.11 54.80,358.08 55.00,358.13 55.20,358.05 55.40,358.04 55.60,357.80 55.80,357.25 56.00,356.60 56.20,353.83 56.40,346.89 56.60,337.71 56.70,335.88 56.80,337.74 57.00,347.15 57.20,354.00 57.40,356.57 57.60,357.47 57.80,357.68 58.00,357.99 58.20,358.03 58.40,358.07 58.60,358.03 58.80,358.22 59.00,358.18 59.20,358.10 59.40,358.13 59.60,357.92 59.80,357.89 60.00,357.85 60.20,357.72 60.40,357.53 60.60,357.46 60.80,357.48 61.00,357.71 61.20,357.71 61.40,357.77 61.60,357.59 61.80,357.48 62.00,357.51 62.20,357.67 62.40,357.62 62.60,357.52 62.80,357.34 63.00,356.81 63.20,356.48 63.40,355.52 63.60,353.46 63.80,345.79 64.00,325.58 64.20,298.77 64.30,293.17 64.40,298.53 64.60,325.42 64.80,345.52 65.00,353.34 65.20,355.53 65.40,356.27 65.60,356.79 65.80,357.02 66.00,357.13 66.20,357.34 66.40,357.36 66.60,357.48 66.80,357.52 67.00,357.45 67.20,357.46 67.40,357.42 67.60,357.33 67.80,357.40 68.00,357.42 68.20,357.39 68.40,357.43 68.60,357.41 68.80,357.44 69.00,357.52 69.20,357.62 69.40,357.65 69.60,357.68 69.80,357.59 70.00,357.60 70.20,357.41 70.40,357.21 70.60,357.01 70.80,356.18 71.00,354.61 71.20,353.54 71.20,353.62 71.40,354.68 71.60,356.43 71.80,357.15 72.00,357.27 72.20,357.48 72.40,357.49 72.60,357.57 72.80,357.77 73.00,357.65 73.20,357.52 73.40,357.50 73.60,356.93 73.80,356.32 74.00,355.92 74.00,355.92 74.20,356.57 74.40,357.36 74.60,357.77 74.80,357.85 75.00,357.80 75.20,357.73 75.40,357.78 75.60,357.84 75.80,357.81 76.00,357.83 76.20,357.68 76.40,357.43 76.60,357.09 76.80,355.81 77.00,355.15 77.00,355.13 77.20,355.89 77.40,357.15 77.60,357.68 77.80,358.07 78.00,358.09 78.20,358.09 78.40,358.05 78.60,357.87 78.80,357.95 79.00,358.06 79.20,358.07 79.40,358.11 79.60,358.10 79.80,357.88 80.00,357.37 80.20,356.45 80.40,355.61 80.40,355.62 80.60,356.50 80.80,357.53 81.00,358.15 81.20,358.25 81.40,358.14 81.60,358.01 81.80,357.96 82.00,357.96 82.20,358.06 82.40,358.01 82.60,357.95 82.80,357.91 83.00,357.53 83.20,356.52 83.40,355.19 83.50,355.02 83.60,355.30 83.80,356.62 84.00,357.69 84.20,358.07 84.40,358.06 84.60,358.08 84.80,357.98 85.00,357.88 85.20,357.59 85.40,357.04 85.60,355.88 85.80,354.88 85.80,355.07 86.00,356.04 86.20,357.21 86.40,357.77 86.60,357.97 86.80,357.98 87.00,358.12 87.20,358.21 87.40,358.26 87.60,358.30 87.80,358.20 88.00,358.33 88.20,358.19 88.40,358.23 88.60,358.31 88.80,358.32 89.00,358.39 89.20,358.28 89.40,358.12 89.60,358.07 89.80,358.08 90.00,358.11 90.20,358.16 90.40,358.22 90.60,358.05 90.80,358.03 91.00,357.97 91.20,357.70 91.40,357.45 91.60,356.75 91.80,354.73 92.00,349.52 92.20,342.78 92.30,341.61 92.40,343.00 92.60,350.06 92.80,355.08 93.00,356.85 93.20,357.43 93.40,357.52 93.60,357.53 93.80,357.08 94.00,355.55 94.20,352.68 94.40,350.81 94.40,350.97 94.60,353.04 94.80,355.78 95.00,356.97 95.20,356.12 95.40,353.83 95.60,352.36 95.60,352.23 95.80,353.82 96.00,355.97 96.20,357.07 96.40,357.39 96.60,357.56 96.80,357.64 97.00,357.65 97.20,357.43 97.40,356.39 97.60,354.32 97.80,352.80 97.80,352.86 98.00,354.36 98.20,356.48 98.40,357.59 98.60,357.91 98.80,358.01 99.00,358.10 99.20,357.99 99.40,357.91 99.60,357.84 99.80,357.97 100.00,357.92 100.20,357.78 100.40,358.02 100.60,357.98 100.80,358.21 101.00,358.43 101.20,358.08 101.40,357.88 101.60,357.75 101.80,357.05 102.00,355.92 102.20,354.28 102.30,353.76 102.40,354.05 102.60,355.76 102.80,357.10 103.00,357.66 103.20,357.90 103.40,357.77 103.60,357.82 103.80,357.72 104.00,357.85 104.20,357.89 104.40,357.83 104.60,357.92 104.80,357.91 105.00,358.07 105.20,358.12 105.40,358.07 105.60,358.06 105.80,357.88 106.00,357.92 106.20,358.05 106.40,357.92 106.60,358.10 106.80,357.97 107.00,357.79 107.20,357.91 107.40,357.90 107.60,357.90 107.80,357.85 108.00,357.58 108.20,357.62 108.40,357.61 108.60,357.65 108.80,357.50 109.00,356.40 109.20,355.66 109.20,355.61 109.40,356.10 109.60,357.06 109.80,357.60 110.00,357.75 110.20,357.61 110.40,357.60 110.60,357.62 110.80,357.58 111.00,357.80 111.20,357.77 111.40,357.71 111.60,357.67 111.80,357.66 112.00,357.72 112.20,357.82 112.40,357.86 112.60,357.93 112.80,358.08 113.00,357.95 113.20,357.96 113.40,357.89 113.60,357.72 113.80,357.77 114.00,357.80 114.20,357.74 114.40,357.71 114.60,357.86 114.80,357.98 115.00,358.08 115.20,358.24 115.40,358.15 115.60,358.11 115.80,358.08 116.00,358.01 116.20,358.08 116.40,358.11 116.60,358.02 116.80,358.01 117.00,358.16 117.20,358.08 117.40,358.12 117.60,358.26 117.80,358.02 118.00,357.94 118.20,358.12 118.40,358.01 118.60,358.12 118.80,358.26 119.00,357.96 119.20,357.49 119.40,357.16 119.40,357.12 119.60,357.26 119.80,357.74 120.00,357.86 120.20,357.85 120.40,357.91 120.60,358.05 120.80,358.14 121.00,358.25 121.20,358.35 121.40,358.20 121.60,358.22 121.80,358.01 122.00,358.11 122.20,358.23 122.40,358.28 122.60,358.46 122.80,358.39 123.00,358.35 123.20,358.34 123.40,358.35 123.60,358.25 123.80,358.19 124.00,358.12 124.20,358.10 124.40,358.21 124.60,358.17 124.80,358.34 125.00,358.26 125.20,358.10 125.40,357.76 125.60,357.00 125.80,356.55 125.80,356.60 126.00,357.20 126.20,357.76 126.40,357.95 126.60,357.98 126.80,357.91 127.00,358.08 127.20,358.32 127.40,358.35 127.60,358.33 127.80,358.28 128.00,358.07 128.20,358.24 128.40,358.23 128.60,358.20 128.80,358.27 129.00,358.12 129.20,358.19 129.40,358.22 129.60,358.43 129.80,358.57 130.00,358.68 130.20,358.68 130.40,358.61 130.60,358.47 130.80,358.37 131.00,358.25 131.20,358.38 131.40,358.39 131.60,358.39 131.80,358.53 132.00,358.37 132.20,358.31 132.40,358.36 132.60,358.37 132.80,358.47 133.00,358.50 133.20,358.48 133.40,358.52 133.60,358.44 133.80,358.61 134.00,358.51 134.20,358.60 134.40,358.61 134.60,358.50 134.80,358.60 135.00,358.54 135.20,358.44 135.40,358.57 135.60,358.73 135.80,358.70 136.00,358.70 136.20,358.49 136.40,358.40 136.60,358.45 136.80,358.44 137.00,358.57 137.20,358.50 137.40,358.39 137.60,358.16 137.80,357.49 138.00,356.58 138.10,356.41 138.20,356.79 138.40,357.64 138.60,358.38 138.80,358.61 139.00,358.59 139.20,358.57 139.40,358.57 139.60,358.64 139.80,358.56 140.00,358.76 140.20,358.67 140.40,358.74 140.60,358.70 140.80,358.64 141.00,358.81 141.20,358.70 141.40,358.89 141.60,358.88 141.80,358.65 142.00,358.69 142.20,358.62 142.40,358.68 142.60,358.73 142.80,358.55 143.00,358.57 143.20,358.44 143.40,358.60 143.60,358.73 143.80,358.79 144.00,358.79 144.20,358.66 144.40,358.79 144.60,358.56 144.80,358.61 145.00,358.73 145.20,358.61 145.40,358.67 145.60,358.80 145.80,358.76 146.00,358.81 146.20,358.91 146.40,358.85 146.60,358.69 146.80,358.57 147.00,358.67 147.20,358.55 147.40,358.80 147.60,358.86 147.80,358.65 148.00,358.67 148.20,358.56 148.40,358.63 148.60,358.74 148.80,358.78 149.00,358.80 149.20,358.87 149.40,358.81 149.60,358.74 149.80,358.81 150.00,358.70 150.20,358.78 150.40,358.80 150.60,358.63 150.80,358.64 151.00,358.85 151.20,359.00 151.40,359.10 151.60,359.14 151.80,358.92 152.00,358.80 152.20,358.67 152.40,358.62 152.60,358.62 152.80,358.66 153.00,358.78 153.20,358.81 153.40,358.74 153.60,358.79 153.80,358.88 154.00,358.87 154.20,358.83 154.40,358.72 154.60,358.66 154.80,358.62 155.00,358.59 155.20,358.75 155.40,358.75 155.60,358.81 155.80,358.84 156.00,358.73 156.20,358.69 156.40,358.70 156.60,358.74 156.80,358.70 157.00,358.79 157.20,358.88 157.40,358.91 157.60,359.05 157.80,358.90 158.00,358.73 158.20,358.77 158.40,358.67 158.60,358.59 158.80,358.62 159.00,358.59 159.20,358.66 159.40,358.69 159.60,358.61 159.80,358.67 160.00,358.61 160.20,358.67 160.40,358.69 160.60,358.62 160.80,358.55 161.00,358.57 161.20,358.55 161.40,358.44 161.60,358.40 161.80,358.41 162.00,358.33 162.20,358.41 162.40,358.36 162.60,358.27 162.80,358.47 163.00,358.34 163.20,358.51 163.40,358.62 163.60,358.56 163.80,358.76 164.00,358.74 164.20,358.63 164.40,358.61 164.60,358.53 164.80,358.39 165.00,358.36 165.20,358.31 165.40,358.24 165.60,358.18 165.80,358.34 166.00,358.35 166.20,358.54 166.40,358.59 166.60,358.41 166.80,358.32 167.00,358.20 167.20,358.21 167.40,358.41 167.60,358.52 167.80,358.60 168.00,358.72 168.20,358.68 168.40,358.65 168.60,358.39 168.80,358.41 169.00,358.44 169.20,358.47 169.40,358.62 169.60,358.39 169.80,358.34 170.00,358.25 170.20,358.46 170.40,358.62 170.60,358.62 170.80,358.72 171.00,358.46 171.20,358.37 171.40,358.32 171.60,358.21 171.80,358.17 172.00,358.25 172.20,358.16 172.40,358.36 172.60,358.48 172.80,358.47 173.00,358.52 173.20,358.43 173.40,358.36 173.60,358.28 173.80,358.24 174.00,358.17 174.20,358.13 174.40,358.19 174.60,358.34 174.80,358.26 175.00,358.23 175.20,358.17 175.40,358.06 175.60,358.29 175.80,358.37 176.00,358.41 176.20,358.44 176.40,358.33 176.60,358.48 176.80,358.38 177.00,358.40 177.20,358.38" fill="none" stroke="#000000" stroke-width="1.25" stroke-linejoin="round" />
<polyline points="41.60,330.26 41.80,331.24 42.00,330.75 42.20,330.17 42.40,330.62 42.60,330.31 42.80,330.92 43.00,330.93 43.20,329.15 43.40,328.64 43.60,328.48 43.80,330.65 44.00,330.53 44.20,329.39 44.40,328.51 44.60,329.10 44.80,330.29 45.00,329.30 45.20,328.92 45.40,329.78 45.60,329.43 45.80,328.31 46.00,329.33 46.20,328.64 46.40,329.03 46.60,328.55 46.80,328.57 47.00,328.24 47.20,329.78 47.40,329.28 47.60,327.66 47.80,329.46 48.00,331.14 48.20,327.43 48.40,327.70 48.60,326.27 48.80,327.70 49.00,327.86 49.20,328.71 49.40,326.69 49.60,327.92 49.80,326.40 50.00,326.67 50.20,326.68 50.40,325.03 50.60,325.68 50.80,324.88 51.00,326.94 51.20,326.02 51.40,326.08 51.60,325.75 51.80,324.64 52.00,325.55 52.20,325.15 52.40,324.03 52.60,324.77 52.80,326.17 53.00,325.89 53.20,324.11 53.40,324.18 53.60,322.37 53.80,323.75 54.00,322.66 54.20,322.87 54.40,324.24 54.60,322.21 54.80,324.80 55.00,323.16 55.20,324.17 55.40,323.81 55.60,322.27 55.80,322.35 56.00,321.85 56.20,322.66 56.40,322.06 56.60,321.78 56.80,323.46 57.00,323.23 57.20,323.38 57.40,321.98 57.60,321.24 57.80,322.46 58.00,320.99 58.20,320.10 58.40,320.26 58.60,318.29 58.70,316.31 58.80,316.15 59.00,318.49 59.20,319.59 59.40,321.17 59.60,322.76 59.80,321.79 60.00,321.48 60.20,320.14 60.40,320.86 60.60,322.28 60.80,321.24 61.00,320.05 61.20,321.37 61.40,319.71 61.60,320.22 61.80,319.97 62.00,321.51 62.20,320.05 62.40,321.46 62.60,322.05 62.80,320.64 63.00,320.23 63.20,318.26 63.40,319.61 63.60,316.14 63.80,314.38 64.00,312.07 64.00,311.74 64.20,314.00 64.40,314.64 64.60,318.89 64.80,317.95 65.00,319.42 65.20,320.49 65.40,320.39 65.60,321.81 65.80,319.21 66.00,321.23 66.20,322.25 66.40,320.80 66.60,320.83 66.80,322.48 67.00,321.29 67.20,320.25 67.40,323.11 67.60,322.96 67.80,320.97 68.00,323.00 68.20,322.48 68.40,321.70 68.60,320.21 68.80,322.64 69.00,323.73 69.20,322.04 69.40,322.06 69.60,322.49 69.80,322.50 70.00,323.28 70.20,324.26 70.40,322.07 70.60,323.19 70.80,323.76 71.00,322.65 71.20,323.59 71.40,322.81 71.60,323.35 71.80,322.29 72.00,321.92 72.20,323.75 72.40,323.65 72.60,322.39 72.80,323.01 73.00,321.11 73.20,322.19 73.40,322.14 73.60,324.87 73.80,322.37 74.00,323.04 74.20,323.78 74.40,322.57 74.60,322.56 74.80,322.65 75.00,323.17 75.20,322.77 75.40,322.10 75.60,321.65 75.80,321.49 76.00,322.10 76.20,321.94 76.40,321.05 76.60,322.83 76.80,322.49 77.00,322.21 77.20,323.24 77.40,323.13 77.60,322.82 77.80,322.35 78.00,322.33 78.20,322.50 78.40,324.42 78.60,321.89 78.80,322.49 79.00,322.19 79.20,322.39 79.40,323.15 79.60,322.42 79.80,322.39 80.00,321.46 80.20,321.45 80.40,322.31 80.60,322.35 80.80,323.02 81.00,320.86 81.20,322.64 81.40,322.67 81.60,321.07 81.80,322.06 82.00,324.18 82.20,321.57 82.40,320.30 82.60,321.69 82.80,320.00 83.00,321.31 83.20,321.34 83.40,321.45 83.60,321.82 83.80,321.22 84.00,320.98 84.20,320.50 84.40,319.73 84.60,321.11 84.80,320.01 85.00,319.29 85.20,321.47 85.40,319.73 85.60,318.67 85.80,320.37 86.00,319.35 86.20,318.95 86.40,320.61 86.60,320.09 86.80,319.34 87.00,319.38 87.20,318.32 87.40,318.19 87.60,319.63 87.80,319.21 88.00,319.43 88.20,318.01 88.40,318.82 88.60,317.87 88.80,318.31 89.00,316.50 89.20,316.99 89.40,315.50 89.60,316.13 89.80,314.42 90.00,316.58 90.20,314.96 90.40,314.14 90.60,314.65 90.80,314.47 91.00,314.39 91.20,311.27 91.40,313.96 91.60,311.09 91.80,311.22 92.00,310.12 92.20,313.82 92.40,311.43 92.60,310.90 92.80,311.28 93.00,311.26 93.20,313.22 93.40,313.43 93.60,312.21 93.80,311.38 94.00,313.39 94.20,313.28 94.40,314.49 94.60,313.52 94.80,314.05 95.00,314.27 95.20,313.86 95.40,315.46 95.60,315.39 95.80,315.02 96.00,314.88 96.20,315.83 96.40,315.17 96.60,315.69 96.80,316.81 97.00,315.64 97.20,314.98 97.40,315.66 97.60,316.04 97.80,314.72 98.00,315.18 98.20,315.88 98.40,316.78 98.60,316.01 98.80,317.56 99.00,317.48 99.20,316.11 99.40,316.56 99.60,317.22 99.80,317.75 100.00,317.71 100.20,318.04 100.40,318.62 100.60,317.79 100.80,318.92 101.00,318.05 101.20,316.83 101.40,317.80 101.60,318.11 101.80,318.29 102.00,316.36 102.20,317.95 102.40,318.50 102.60,318.47 102.80,318.09 103.00,317.99 103.20,320.55 103.40,318.18 103.60,318.33 103.80,318.76 104.00,318.91 104.20,319.46 104.40,319.97 104.60,319.10 104.80,320.55 105.00,318.83 105.20,318.29 105.40,320.25 105.60,318.94 105.80,319.14 106.00,318.45 106.20,319.07 106.40,319.82 106.60,320.15 106.80,317.12 107.00,319.02 107.20,319.16 107.40,317.56 107.60,318.56 107.80,318.14 108.00,320.40 108.20,318.90 108.40,318.07 108.60,319.51 108.80,319.81 109.00,318.90 109.20,318.34 109.40,317.81 109.60,319.20 109.80,319.32 110.00,319.50 110.20,320.28 110.40,317.58 110.60,318.81 110.80,319.49 111.00,320.41 111.20,319.55 111.40,319.41 111.60,318.37 111.80,319.26 112.00,318.65 112.20,317.62 112.40,317.60 112.60,320.69 112.80,319.18 113.00,318.04 113.20,317.62 113.40,317.68 113.60,319.63 113.80,317.65 114.00,318.89 114.20,320.40 114.40,319.33 114.60,320.81 114.80,318.50 115.00,319.43 115.20,319.24 115.40,319.20 115.60,319.09 115.80,319.51 116.00,319.30 116.20,316.91 116.40,319.11 116.60,318.85 116.80,317.27 117.00,319.07 117.20,318.50 117.40,318.65 117.60,318.72 117.80,318.63 118.00,319.12 118.20,318.26 118.40,317.42 118.60,318.46 118.80,319.19 119.00,317.44 119.20,317.77 119.40,318.35 119.60,317.68 119.80,320.10 120.00,318.19 120.20,316.60 120.40,318.95 120.60,317.72 120.80,316.82 121.00,318.25 121.20,317.98 121.40,317.55 121.60,317.35 121.80,318.82 122.00,317.54 122.20,317.31 122.40,317.79 122.60,317.15 122.80,319.42 123.00,318.09 123.20,317.16 123.40,318.74 123.60,318.38 123.80,319.06 124.00,318.61 124.20,316.97 124.40,318.58 124.60,317.26 124.80,317.91 125.00,318.43 125.20,318.84 125.40,317.88 125.60,316.24 125.80,317.88 126.00,317.76 126.20,318.65 126.40,319.11 126.60,318.34 126.80,317.43 127.00,317.22 127.20,319.02 127.40,318.03 127.60,317.58 127.80,320.10 128.00,318.60 128.20,317.87 128.40,316.95 128.60,316.37 128.80,317.22 129.00,318.11 129.20,318.93 129.40,318.45 129.60,316.94 129.80,318.14 130.00,319.37 130.20,317.12 130.40,318.38 130.60,316.84 130.80,317.58 131.00,318.42 131.20,319.36 131.40,318.63 131.60,316.66 131.80,316.82 132.00,317.58 132.20,318.53 132.40,317.74 132.60,318.26 132.80,316.96 133.00,318.60 133.20,317.25 133.40,317.83 133.60,316.24 133.80,317.88 134.00,318.45 134.20,317.43 134.40,317.19 134.60,316.55 134.80,316.35 135.00,316.13 135.20,316.55 135.40,318.42 135.60,318.56 135.80,316.96 136.00,318.26 136.20,316.52 136.40,317.98 136.60,317.92 136.80,316.79 137.00,317.78 137.20,316.28 137.40,315.74 137.60,316.56 137.80,316.79 138.00,317.80 138.20,317.85 138.40,317.67 138.60,317.89 138.80,317.91 139.00,317.96 139.20,316.82 139.40,317.67 139.60,316.10 139.80,316.76 140.00,316.67 140.20,317.56 140.40,317.30 140.60,317.62 140.80,315.54 141.00,317.38 141.20,317.46 141.40,317.16 141.60,315.69 141.80,318.45 142.00,317.01 142.20,317.44 142.40,315.85 142.60,316.62 142.80,316.86 143.00,317.69 143.20,315.82 143.40,316.74 143.60,316.68 143.80,317.25 144.00,314.86 144.20,317.59 144.40,316.33 144.60,316.64 144.80,316.62 145.00,317.88 145.20,316.89 145.40,316.08 145.60,316.15 145.80,315.78 146.00,314.72 146.20,314.45 146.40,316.81 146.60,317.40 146.80,316.22 147.00,317.56 147.20,316.72 147.40,316.98 147.60,316.58 147.80,315.46 148.00,315.58 148.20,317.81 148.40,316.14 148.60,315.61 148.80,316.21 149.00,316.41 149.20,313.87 149.40,315.89 149.60,316.04 149.80,316.82 150.00,317.64 150.20,317.30 150.40,315.06 150.60,317.30 150.80,315.70 151.00,314.67 151.20,315.20 151.40,315.73 151.60,315.77 151.80,316.45 152.00,315.93 152.20,316.49 152.40,315.90 152.60,316.58 152.80,316.65 153.00,315.83 153.20,315.22 153.40,315.66 153.60,316.58 153.80,317.62 154.00,316.12 154.20,317.01 154.40,314.68 154.60,315.61 154.80,316.06 155.00,315.51 155.20,315.57 155.40,316.63 155.60,316.69 155.80,314.83 156.00,315.17 156.20,314.82 156.40,316.03 156.60,316.81 156.80,314.46 157.00,316.14 157.20,314.79 157.40,315.86 157.60,314.34 157.80,316.68 158.00,314.83 158.20,315.22 158.40,314.92 158.60,315.09 158.80,315.59 159.00,316.77 159.20,316.75 159.40,315.94 159.60,315.81 159.80,314.26 160.00,315.22 160.20,314.94 160.40,316.16 160.60,316.13 160.80,316.48 161.00,315.64 161.20,316.20 161.40,314.75 161.60,313.38 161.80,315.67 162.00,314.63 162.20,315.74 162.40,315.77 162.60,316.01 162.80,314.28 163.00,316.43 163.20,315.67 163.40,315.56 163.60,315.41 163.80,314.05 164.00,316.36 164.20,317.13 164.40,314.17 164.60,315.96 164.80,314.98 165.00,316.43 165.20,316.27 165.40,315.07 165.60,315.94 165.80,316.42 166.00,314.62 166.20,314.98 166.40,315.02 166.60,315.38 166.80,313.54 167.00,315.31 167.20,314.99 167.40,314.92 167.60,314.45 167.80,313.92 168.00,314.60 168.20,315.54 168.40,313.86 168.60,316.26 168.80,313.49 169.00,314.65 169.20,314.51 169.40,316.25 169.60,314.79 169.80,314.90 170.00,313.67 170.20,316.12 170.40,314.28 170.60,315.50 170.80,315.54 171.00,314.75 171.20,316.26 171.40,313.49 171.60,314.91 171.80,316.13 172.00,314.06 172.20,314.19 172.40,316.19 172.60,314.93 172.80,313.13 173.00,314.25 173.20,315.03 173.40,313.79 173.60,315.14 173.80,314.17 174.00,315.04 174.20,314.90 174.40,314.17 174.60,316.43 174.80,313.69 175.00,314.03 175.20,314.85 175.40,315.32 175.60,314.60 175.80,313.95 176.00,314.42 176.20,313.73 176.40,315.96 176.60,313.50 176.80,313.83 177.00,314.97 177.20,314.59" fill="none" stroke="#0a3cff" stroke-width="1.4" stroke-linejoin="round" />
<polyline points="41.60,287.89 41.80,286.75 42.00,286.77 42.20,287.55 42.40,287.81 42.60,288.17 42.80,287.78 43.00,289.58 43.20,287.75 43.40,288.15 43.60,287.55 43.80,287.16 44.00,287.65 44.20,288.51 44.40,286.66 44.60,285.66 44.80,286.69 45.00,288.16 45.20,286.57 45.40,287.67 45.60,288.65 45.80,287.88 46.00,285.51 46.20,287.49 46.40,286.62 46.60,286.94 46.80,286.04 47.00,287.22 47.20,287.70 47.40,286.54 47.60,285.72 47.80,285.85 48.00,288.31 48.20,286.62 48.40,285.94 48.60,286.99 48.80,285.44 49.00,285.52 49.20,284.67 49.40,285.69 49.60,285.18 49.80,286.16 50.00,284.59 50.20,283.98 50.40,283.25 50.60,284.42 50.80,283.09 51.00,283.44 51.20,282.76 51.40,284.37 51.60,281.95 51.80,281.24 52.00,282.39 52.20,281.87 52.40,281.54 52.60,282.35 52.80,282.01 53.00,281.76 53.20,282.73 53.40,280.48 53.60,281.81 53.80,280.25 54.00,281.00 54.20,278.09 54.40,279.78 54.60,280.64 54.80,280.84 55.00,279.81 55.20,278.80 55.40,280.45 55.60,280.85 55.80,277.70 56.00,279.22 56.20,278.83 56.40,278.00 56.60,275.65 56.80,276.43 57.00,275.52 57.20,274.44 57.40,274.66 57.60,275.11 57.80,274.35 58.00,276.43 58.20,274.55 58.40,277.59 58.60,274.84 58.80,276.66 59.00,273.01 59.20,270.87 59.40,265.49 59.60,259.29 59.70,259.78 59.80,259.16 60.00,264.60 60.20,271.08 60.40,274.85 60.60,276.81 60.80,277.52 61.00,279.58 61.20,278.12 61.40,277.77 61.60,277.95 61.80,278.22 62.00,278.78 62.20,278.28 62.40,280.29 62.60,278.83 62.80,277.57 63.00,277.44 63.20,278.59 63.40,277.92 63.60,276.81 63.80,276.55 64.00,276.47 64.20,277.17 64.40,275.12 64.60,270.61 64.80,267.07 65.00,259.89 65.10,260.76 65.20,263.42 65.40,267.43 65.60,270.25 65.80,275.00 66.00,276.31 66.20,278.39 66.40,278.03 66.60,278.99 66.80,278.54 67.00,278.65 67.20,277.36 67.40,278.01 67.60,278.18 67.80,277.55 68.00,280.08 68.20,278.83 68.40,276.47 68.60,278.45 68.80,276.46 69.00,277.43 69.20,275.84 69.40,274.98 69.60,275.37 69.80,275.41 70.00,276.60 70.20,276.16 70.40,278.51 70.60,277.81 70.80,278.75 71.00,279.72 71.20,278.51 71.40,278.38 71.60,281.52 71.80,278.65 72.00,279.66 72.20,281.02 72.40,281.19 72.60,280.71 72.80,280.14 73.00,282.27 73.20,281.72 73.40,281.11 73.60,281.03 73.80,281.89 74.00,282.20 74.20,281.16 74.40,281.08 74.60,281.61 74.80,278.87 75.00,282.38 75.20,279.84 75.40,280.71 75.60,281.34 75.80,280.67 76.00,281.86 76.20,282.51 76.40,280.75 76.60,281.31 76.80,281.16 77.00,281.65 77.20,280.58 77.40,280.42 77.60,280.29 77.80,280.57 78.00,281.31 78.20,279.44 78.40,281.05 78.60,280.20 78.80,280.03 79.00,278.69 79.20,279.41 79.40,281.09 79.60,279.65 79.80,281.44 80.00,279.26 80.20,278.86 80.40,280.24 80.60,279.07 80.80,280.37 81.00,280.81 81.20,280.30 81.40,279.87 81.60,278.98 81.80,280.24 82.00,280.20 82.20,279.42 82.40,279.38 82.60,278.88 82.80,279.46 83.00,279.20 83.20,278.85 83.40,279.28 83.60,279.30 83.80,278.96 84.00,278.58 84.20,278.20 84.40,279.02 84.60,278.20 84.80,278.99 85.00,278.40 85.20,279.26 85.40,277.65 85.60,277.50 85.80,277.82 86.00,277.62 86.20,277.17 86.40,277.15 86.60,277.52 86.80,276.85 87.00,275.53 87.20,275.81 87.40,277.74 87.60,275.74 87.80,276.04 88.00,275.78 88.20,275.44 88.40,275.35 88.60,275.95 88.80,274.74 89.00,274.00 89.20,274.10 89.40,274.18 89.60,271.98 89.80,274.44 90.00,271.61 90.20,272.61 90.40,273.25 90.60,272.47 90.80,272.39 91.00,271.61 91.20,270.23 91.40,271.82 91.60,272.59 91.80,269.61 92.00,268.77 92.20,268.15 92.40,267.60 92.60,266.94 92.80,267.75 93.00,266.57 93.20,268.66 93.40,266.88 93.60,266.64 93.80,267.69 94.00,268.41 94.20,268.27 94.40,269.00 94.60,268.70 94.80,268.78 95.00,269.28 95.20,268.84 95.40,269.34 95.60,269.79 95.80,268.73 96.00,271.90 96.20,268.97 96.40,270.68 96.60,271.48 96.80,271.38 97.00,272.47 97.20,271.97 97.40,271.51 97.60,272.42 97.80,273.13 98.00,273.83 98.20,272.54 98.40,273.47 98.60,272.95 98.80,271.91 99.00,271.27 99.20,272.47 99.40,272.27 99.60,271.27 99.80,273.50 100.00,274.11 100.20,274.00 100.40,272.50 100.60,273.05 100.80,272.59 101.00,273.72 101.20,273.76 101.40,274.01 101.60,273.88 101.80,275.40 102.00,274.60 102.20,274.52 102.40,274.67 102.60,276.15 102.80,274.62 103.00,275.44 103.20,274.19 103.40,275.82 103.60,275.13 103.80,273.62 104.00,276.08 104.20,274.04 104.40,274.32 104.60,275.76 104.80,275.95 105.00,275.43 105.20,275.38 105.40,275.23 105.60,275.47 105.80,275.17 106.00,274.92 106.20,276.70 106.40,275.53 106.60,276.91 106.80,277.19 107.00,276.56 107.20,276.34 107.40,275.01 107.60,275.27 107.80,275.27 108.00,275.46 108.20,276.59 108.40,274.92 108.60,276.58 108.80,276.99 109.00,276.50 109.20,276.89 109.40,273.82 109.60,276.08 109.80,276.42 110.00,276.25 110.20,276.27 110.40,276.01 110.60,275.87 110.80,276.04 111.00,276.98 111.20,275.20 111.40,275.83 111.60,276.85 111.80,275.95 112.00,276.08 112.20,275.17 112.40,275.40 112.60,276.35 112.80,274.20 113.00,275.30 113.20,276.33 113.40,276.24 113.60,276.24 113.80,276.51 114.00,274.50 114.20,274.47 114.40,275.60 114.60,274.75 114.80,274.28 115.00,275.62 115.20,276.09 115.40,276.22 115.60,275.73 115.80,275.30 116.00,277.05 116.20,275.29 116.40,275.19 116.60,275.17 116.80,275.43 117.00,275.36 117.20,275.73 117.40,274.87 117.60,275.82 117.80,276.15 118.00,275.98 118.20,275.44 118.40,275.12 118.60,276.85 118.80,275.46 119.00,276.74 119.20,277.03 119.40,273.75 119.60,276.17 119.80,275.45 120.00,274.48 120.20,275.81 120.40,275.80 120.60,275.47 120.80,275.85 121.00,275.06 121.20,275.07 121.40,276.48 121.60,275.38 121.80,274.19 122.00,273.04 122.20,274.31 122.40,273.59 122.60,274.00 122.80,275.15 123.00,274.31 123.20,274.18 123.40,274.39 123.60,276.16 123.80,275.92 124.00,274.71 124.20,274.13 124.40,274.80 124.60,273.37 124.80,273.21 125.00,274.20 125.20,273.68 125.40,273.83 125.60,274.17 125.80,274.10 126.00,274.57 126.20,273.29 126.40,274.02 126.60,274.17 126.80,274.62 127.00,273.93 127.20,272.93 127.40,271.91 127.60,273.41 127.80,272.34 128.00,273.41 128.20,273.59 128.40,272.72 128.60,273.77 128.80,273.98 129.00,272.62 129.20,273.30 129.40,273.17 129.60,271.68 129.80,272.77 130.00,273.73 130.20,273.47 130.40,274.10 130.60,272.50 130.80,273.12 131.00,272.74 131.20,273.06 131.40,273.00 131.60,273.63 131.80,273.84 132.00,273.85 132.20,273.07 132.40,273.79 132.60,272.91 132.80,273.59 133.00,274.66 133.20,274.80 133.40,273.92 133.60,272.63 133.80,274.00 134.00,275.23 134.20,274.45 134.40,274.20 134.60,273.95 134.80,273.65 135.00,272.82 135.20,273.60 135.40,273.09 135.60,274.37 135.80,274.69 136.00,273.76 136.20,273.34 136.40,273.33 136.60,273.90 136.80,274.67 137.00,274.25 137.20,271.85 137.40,273.68 137.60,275.75 137.80,274.28 138.00,274.38 138.20,274.47 138.40,273.57 138.60,272.60 138.80,274.98 139.00,272.54 139.20,274.73 139.40,274.23 139.60,274.34 139.80,273.09 140.00,274.58 140.20,273.51 140.40,273.49 140.60,273.68 140.80,274.22 141.00,273.87 141.20,274.48 141.40,275.45 141.60,275.00 141.80,273.99 142.00,275.41 142.20,274.17 142.40,274.02 142.60,275.99 142.80,274.84 143.00,273.84 143.20,275.51 143.40,275.12 143.60,275.50 143.80,275.28 144.00,273.78 144.20,274.46 144.40,275.97 144.60,274.30 144.80,274.49 145.00,274.37 145.20,274.27 145.40,275.31 145.60,275.19 145.80,275.04 146.00,275.00 146.20,274.50 146.40,275.60 146.60,276.12 146.80,275.73 147.00,274.44 147.20,275.48 147.40,275.27 147.60,274.91 147.80,274.16 148.00,274.76 148.20,275.29 148.40,274.86 148.60,274.51 148.80,275.15 149.00,275.04 149.20,274.54 149.40,275.80 149.60,275.89 149.80,275.70 150.00,274.31 150.20,276.45 150.40,276.23 150.60,274.19 150.80,275.22 151.00,276.42 151.20,276.35 151.40,273.43 151.60,274.93 151.80,274.74 152.00,275.09 152.20,275.47 152.40,276.53 152.60,275.67 152.80,275.70 153.00,274.70 153.20,276.08 153.40,275.67 153.60,275.28 153.80,275.89 154.00,275.15 154.20,274.26 154.40,274.52 154.60,276.64 154.80,275.71 155.00,275.68 155.20,277.71 155.40,274.80 155.60,275.28 155.80,275.11 156.00,274.70 156.20,275.71 156.40,275.35 156.60,275.82 156.80,273.37 157.00,276.01 157.20,276.15 157.40,276.38 157.60,275.23 157.80,275.76 158.00,274.77 158.20,273.83 158.40,277.16 158.60,275.76 158.80,275.61 159.00,276.30 159.20,274.48 159.40,274.86 159.60,276.92 159.80,276.00 160.00,277.37 160.20,275.85 160.40,277.09 160.60,275.59 160.80,275.79 161.00,275.32 161.20,276.06 161.40,275.52 161.60,274.70 161.80,274.86 162.00,276.20 162.20,274.75 162.40,275.33 162.60,274.70 162.80,275.91 163.00,275.35 163.20,276.72 163.40,275.78 163.60,276.29 163.80,274.76 164.00,276.17 164.20,273.71 164.40,276.40 164.60,275.66 164.80,276.46 165.00,274.13 165.20,275.49 165.40,274.10 165.60,275.30 165.80,275.08 166.00,274.71 166.20,274.17 166.40,276.08 166.60,276.19 166.80,275.39 167.00,276.33 167.20,275.66 167.40,275.39 167.60,275.18 167.80,276.56 168.00,275.05 168.20,275.75 168.40,275.48 168.60,274.89 168.80,275.95 169.00,274.42 169.20,275.77 169.40,273.45 169.60,274.47 169.80,275.00 170.00,275.61 170.20,276.26 170.40,274.80 170.60,275.49 170.80,274.95 171.00,275.65 171.20,276.39 171.40,277.10 171.60,276.17 171.80,276.14 172.00,274.45 172.20,275.70 172.40,274.87 172.60,275.23 172.80,276.40 173.00,275.33 173.20,275.02 173.40,274.51 173.60,275.31 173.80,275.29 174.00,276.62 174.20,274.82 174.40,276.10 174.60,276.76 174.80,275.06 175.00,273.71 175.20,275.05 175.40,276.73 175.60,275.29 175.80,275.59 176.00,276.48 176.20,275.50 176.40,273.45 176.60,276.67 176.80,274.41 177.00,275.91 177.20,275.87" fill="none" stroke="#fa0a1e" stroke-width="1.4" stroke-linejoin="round" />
<path d="M41.30 225.40 V368.80 H177.60" fill="none" stroke="#666" stroke-width="1.7"/>
<path d="M40.72 368.80 v1.80 M60.30 368.80 v3.20 M79.88 368.80 v1.80 M99.45 368.80 v3.20 M119.03 368.80 v1.80 M138.60 368.80 v3.20 M158.18 368.80 v1.80 M177.75 368.80 v3.20 " fill="none" stroke="#666" stroke-width="1"/>
<text x="60.30" y="382.20" font-size="9.3" text-anchor="middle">10</text>
<text x="99.45" y="382.20" font-size="9.3" text-anchor="middle">20</text>
<text x="138.60" y="382.20" font-size="9.3" text-anchor="middle">30</text>
<text x="177.75" y="382.20" font-size="9.3" text-anchor="middle">40</text>
<text x="109.00" y="398.00" font-size="11" text-anchor="middle">2-Theta(<tspan font-size="6.6" dy="-5.7">o</tspan><tspan dy="5.7">)</tspan></text>
<text transform="translate(34.70 303.00) rotate(-90)" font-size="11" text-anchor="middle">Intensity (a.u.)</text>
<text transform="translate(167.60 235.10) scale(0.93 1)" font-size="10.6" text-anchor="start">C</text>
<text transform="translate(89.20 263.20) scale(0.935 1)" font-size="10.0" text-anchor="start">Cu-m-BDC-SE(EtOH)</text>
<text transform="translate(167.80 273.40) scale(0.935 1)" font-size="8.77" text-anchor="start">x5</text>
<text transform="translate(116.20 300.00) scale(0.935 1)" font-size="9.95" text-anchor="start">Cu-m-BDC-FD</text>
<text transform="translate(167.20 310.80) scale(0.935 1)" font-size="8.77" text-anchor="start">x5</text>
<text transform="translate(115.50 348.00) scale(0.935 1)" font-size="9.84" text-anchor="start">Cu-m-BDC-as</text>
<polyline points="241.30,359.76 241.50,359.77 241.70,359.70 241.90,359.75 242.10,359.67 242.30,359.64 242.50,359.73 242.70,359.62 242.90,359.62 243.10,359.58 243.30,359.47 243.50,359.49 243.70,359.54 243.90,359.50 244.10,359.62 244.30,359.62 244.50,359.70 244.70,359.85 244.90,359.81 245.10,359.73 245.30,359.55 245.50,359.43 245.70,359.29 245.90,359.46 246.10,359.43 246.30,359.45 246.50,359.51 246.70,359.49 246.90,359.51 247.10,359.54 247.30,359.57 247.50,359.46 247.70,359.57 247.90,359.57 248.10,359.49 248.30,359.48 248.50,359.30 248.70,359.15 248.90,359.13 249.10,359.15 249.30,359.27 249.50,359.26 249.70,359.25 249.90,359.27 250.10,359.23 250.30,359.31 250.50,359.35 250.70,359.18 250.90,359.04 251.10,358.87 251.30,358.64 251.50,358.54 251.70,358.37 251.90,357.97 252.10,357.15 252.30,354.62 252.50,348.21 252.70,335.97 252.90,320.67 253.10,312.86 253.10,312.83 253.30,320.98 253.50,336.12 253.70,348.02 253.90,354.39 254.10,356.85 254.30,357.79 254.50,358.30 254.70,358.63 254.90,358.77 255.10,358.94 255.30,358.99 255.50,359.02 255.70,359.04 255.90,359.07 256.10,359.04 256.30,358.84 256.50,358.72 256.70,358.70 256.90,358.77 257.10,359.04 257.30,359.01 257.50,358.80 257.70,358.05 257.90,355.04 258.10,346.30 258.30,338.84 258.30,338.89 258.50,346.18 258.70,355.05 258.90,358.09 259.10,358.70 259.30,359.01 259.50,358.97 259.70,359.06 259.90,359.18 260.10,359.06 260.30,359.06 260.50,358.98 260.70,358.82 260.90,358.88 261.10,358.77 261.30,358.17 261.50,355.80 261.70,351.36 261.80,350.42 261.90,351.49 262.10,355.99 262.30,358.49 262.50,359.06 262.70,359.12 262.90,359.15 263.10,359.06 263.30,359.07 263.50,359.11 263.70,359.08 263.90,359.15 264.10,359.09 264.30,359.00 264.50,358.99 264.70,359.10 264.90,359.07 265.10,359.18 265.30,359.25 265.50,359.18 265.70,359.27 265.90,359.24 266.10,359.33 266.30,359.34 266.50,359.39 266.70,359.46 266.90,359.25 267.10,359.22 267.30,359.22 267.50,359.16 267.70,359.18 267.90,359.09 268.10,359.01 268.30,358.97 268.50,359.02 268.70,358.92 268.90,358.85 269.10,358.73 269.30,358.57 269.50,358.55 269.70,358.39 269.90,358.20 270.10,357.67 270.30,356.49 270.50,353.47 270.70,345.76 270.90,331.12 271.10,312.65 271.30,303.01 271.30,302.99 271.50,312.65 271.70,331.19 271.90,345.82 272.10,353.49 272.30,356.39 272.50,357.43 272.70,357.95 272.90,358.26 273.10,358.50 273.30,358.66 273.50,358.75 273.70,358.73 273.90,358.74 274.10,358.88 274.30,359.05 274.50,359.22 274.70,359.31 274.90,359.34 275.10,359.18 275.30,359.17 275.50,359.28 275.70,359.22 275.90,359.32 276.10,359.33 276.30,359.18 276.50,359.26 276.70,359.21 276.90,359.21 277.10,359.33 277.30,359.18 277.50,359.23 277.70,359.20 277.90,359.09 278.10,359.15 278.30,359.00 278.50,358.85 278.70,358.71 278.90,357.84 279.10,355.04 279.30,349.61 279.40,348.42 279.50,349.76 279.70,355.16 279.90,358.19 280.10,358.78 280.30,359.03 280.50,359.08 280.70,359.08 280.90,359.18 281.10,359.16 281.30,359.25 281.50,359.31 281.70,359.37 281.90,359.27 282.10,358.95 282.30,358.07 282.50,357.37 282.50,357.40 282.70,358.06 282.90,358.82 283.10,358.93 283.30,359.03 283.50,359.03 283.70,359.11 283.90,359.25 284.10,359.14 284.30,359.22 284.50,359.30 284.70,359.23 284.90,359.37 285.10,359.27 285.30,359.35 285.50,359.44 285.70,359.38 285.90,359.32 286.10,359.07 286.30,359.09 286.50,359.07 286.70,359.14 286.90,359.27 287.10,359.26 287.30,359.32 287.50,359.30 287.70,359.26 287.90,359.17 288.10,359.10 288.30,358.98 288.50,358.92 288.70,358.73 288.90,358.46 289.10,357.69 289.30,353.14 289.50,339.62 289.70,328.11 289.70,327.96 289.90,339.49 290.10,352.98 290.30,357.59 290.50,358.52 290.70,358.75 290.90,358.95 291.10,358.82 291.30,358.90 291.50,358.93 291.70,358.94 291.90,359.11 292.10,359.27 292.30,359.34 292.50,359.42 292.70,359.35 292.90,359.27 293.10,359.18 293.30,359.06 293.50,359.11 293.70,359.09 293.90,359.17 294.10,359.20 294.30,359.19 294.50,359.14 294.70,359.14 294.90,359.10 295.10,359.19 295.30,359.29 295.50,359.28 295.70,359.31 295.90,359.24 296.10,359.28 296.30,359.17 296.50,359.21 296.70,359.16 296.90,359.23 297.10,359.30 297.30,359.26 297.50,359.32 297.70,359.23 297.90,359.15 298.10,359.20 298.30,359.15 298.50,359.07 298.70,359.25 298.90,359.26 299.10,359.33 299.30,359.39 299.50,359.36 299.70,359.28 299.90,359.32 300.10,359.35 300.30,359.27 300.50,359.21 300.70,358.46 300.90,357.29 301.00,357.01 301.10,357.33 301.30,358.54 301.50,359.21 301.70,359.43 301.90,359.38 302.10,359.42 302.30,359.28 302.50,359.23 302.70,359.28 302.90,359.30 303.10,359.27 303.30,359.37 303.50,359.29 303.70,359.26 303.90,359.42 304.10,359.28 304.30,359.28 304.50,359.25 304.70,358.76 304.90,358.17 305.00,357.93 305.10,358.03 305.30,358.73 305.50,359.10 305.70,359.27 305.90,359.24 306.10,359.28 306.30,359.22 306.50,359.23 306.70,359.33 306.90,359.37 307.10,359.39 307.30,359.39 307.50,359.38 307.70,359.47 307.90,359.53 308.10,359.45 308.30,359.29 308.50,359.28 308.70,359.38 308.90,359.46 309.10,359.62 309.30,359.61 309.50,359.51 309.70,359.66 309.90,359.59 310.10,359.55 310.30,359.52 310.50,359.38 310.70,359.37 310.90,359.25 311.10,359.27 311.30,359.28 311.50,359.40 311.70,359.27 311.90,359.18 312.10,358.52 312.30,356.23 312.50,352.41 312.60,351.44 312.70,352.30 312.90,356.22 313.10,358.32 313.30,358.81 313.50,359.04 313.70,359.16 313.90,359.15 314.10,359.15 314.30,359.25 314.50,359.34 314.70,359.29 314.90,359.37 315.10,359.37 315.30,359.28 315.50,359.37 315.70,359.43 315.90,359.31 316.10,359.38 316.30,359.42 316.50,359.49 316.70,359.59 316.90,359.53 317.10,359.56 317.30,359.48 317.50,359.49 317.70,359.52 317.90,359.36 318.10,359.25 318.30,359.25 318.50,359.27 318.70,359.33 318.90,359.28 319.10,358.92 319.30,358.09 319.50,357.35 319.50,357.30 319.70,358.04 319.90,358.77 320.10,359.15 320.30,359.38 320.50,359.39 320.70,359.41 320.90,359.39 321.10,359.29 321.30,359.33 321.50,359.37 321.70,359.25 321.90,359.23 322.10,359.19 322.30,359.23 322.50,359.40 322.70,359.48 322.90,359.37 323.10,359.37 323.30,359.19 323.50,359.14 323.70,359.16 323.90,359.14 324.10,359.16 324.30,358.60 324.50,357.71 324.60,357.44 324.70,357.70 324.90,358.64 325.10,359.12 325.30,359.17 325.50,359.17 325.70,359.14 325.90,359.10 326.10,359.21 326.30,359.22 326.50,359.34 326.70,359.33 326.90,359.39 327.10,359.36 327.30,359.31 327.50,359.37 327.70,359.29 327.90,359.36 328.10,359.33 328.30,359.35 328.50,359.36 328.70,359.34 328.90,359.37 329.10,359.34 329.30,359.42 329.50,359.34 329.70,359.31 329.90,359.39 330.10,359.29 330.30,359.23 330.50,359.16 330.70,359.07 330.90,359.13 331.10,359.17 331.30,359.27 331.50,359.36 331.70,359.24 331.90,359.22 332.10,359.16 332.30,358.70 332.50,356.99 332.70,353.92 332.80,353.27 332.90,353.95 333.10,357.02 333.30,358.79 333.50,359.17 333.70,359.22 333.90,359.26 334.10,359.15 334.30,359.20 334.50,359.21 334.70,359.35 334.90,359.49 335.10,359.35 335.30,359.39 335.50,359.32 335.70,359.31 335.90,359.40 336.10,359.40 336.30,359.39 336.50,359.33 336.70,359.36 336.90,359.40 337.10,359.33 337.30,359.30 337.50,359.11 337.70,358.49 337.90,357.69 338.00,357.52 338.10,357.71 338.30,358.74 338.50,359.07 338.70,359.07 338.90,359.13 339.10,359.10 339.30,359.14 339.50,359.22 339.70,359.15 339.90,359.23 340.10,359.22 340.30,359.11 340.50,359.11 340.70,359.06 340.90,359.15 341.10,359.08 341.30,359.19 341.50,359.25 341.70,359.33 341.90,359.51 342.10,359.50 342.30,359.49 342.50,359.43 342.70,359.56 342.90,359.53 343.10,359.50 343.30,359.41 343.50,359.29 343.70,359.28 343.90,359.10 344.10,359.12 344.30,359.19 344.50,359.20 344.70,359.40 344.90,359.40 345.10,359.46 345.30,359.57 345.50,359.55 345.70,359.58 345.90,359.43 346.10,359.33 346.30,359.36 346.50,359.34 346.70,359.41 346.90,359.33 347.10,359.31 347.30,359.30 347.50,359.30 347.70,359.34 347.90,359.33 348.10,359.51 348.30,359.34 348.50,359.37 348.70,359.34 348.90,359.13 349.10,359.33 349.30,359.30 349.50,359.34 349.70,359.44 349.90,359.33 350.10,359.45 350.30,359.50 350.50,359.54 350.70,359.64 350.90,359.57 351.10,359.50 351.30,359.37 351.50,359.42 351.70,359.43 351.90,359.45 352.10,359.55 352.30,359.39 352.50,359.38 352.70,359.44 352.90,359.46 353.10,359.54 353.30,359.54 353.50,359.43 353.70,359.39 353.90,359.38 354.10,359.22 354.30,358.80 354.50,358.42 354.50,358.42 354.70,358.88 354.90,359.38 355.10,359.47 355.30,359.52 355.50,359.46 355.70,359.32 355.90,359.36 356.10,359.43 356.30,359.30 356.50,359.56 356.70,359.50 356.90,359.39 357.10,359.46 357.30,359.22 357.50,359.33 357.70,359.36 357.90,359.37 358.10,359.34 358.30,359.35 358.50,359.30 358.70,359.22 358.90,359.35 359.10,359.28 359.30,359.23 359.50,359.26 359.70,359.24 359.90,359.32 360.10,359.43 360.30,359.60 360.50,359.58 360.70,359.43 360.90,359.37 361.10,359.29 361.30,359.39 361.50,359.46 361.70,359.47 361.90,359.43 362.10,359.26 362.30,359.25 362.50,359.31 362.70,359.35 362.90,359.54 363.10,359.55 363.30,359.57 363.50,359.49 363.70,359.40 363.90,359.50 364.10,359.49 364.30,359.49 364.50,359.48 364.70,359.35 364.90,359.36 365.10,359.37 365.30,359.42 365.50,359.65 365.70,359.67 365.90,359.77 366.10,359.74 366.30,359.56 366.50,359.49 366.70,359.38 366.90,359.44 367.10,359.39 367.30,359.27 367.50,359.32 367.70,359.28 367.90,359.41 368.10,359.49 368.30,359.53 368.50,359.58 368.70,359.46 368.90,359.38 369.10,359.37 369.30,359.32 369.50,359.28 369.70,359.37 369.90,359.35 370.10,359.30 370.30,359.30 370.50,359.32 370.70,359.31 370.90,359.36 371.10,359.45 371.30,359.39 371.50,359.35 371.70,359.32 371.90,359.33 372.10,359.28 372.30,359.23 372.50,359.31 372.70,359.27 372.90,359.45 373.10,359.51 373.30,359.38 373.50,359.40 373.70,359.24 373.90,359.29 374.10,359.41 374.30,359.41 374.50,359.46 374.70,359.30 374.90,359.23 375.10,359.27 375.30,359.38 375.50,359.52 375.70,359.44 375.90,359.33 376.10,359.31 376.30,359.25 376.50,359.35" fill="none" stroke="#000000" stroke-width="1.15" stroke-linejoin="round" />
<polyline points="241.30,330.65 241.50,330.67 241.70,330.74 241.90,330.70 242.10,330.69 242.30,330.72 242.50,330.68 242.70,330.66 242.90,330.69 243.10,330.58 243.30,330.50 243.50,330.53 243.70,330.39 243.90,330.32 244.10,330.30 244.30,330.22 244.50,330.31 244.70,330.33 244.90,330.27 245.10,330.37 245.30,330.31 245.50,330.33 245.70,330.29 245.90,330.15 246.10,330.11 246.30,329.99 246.50,330.00 246.70,329.90 246.90,329.76 247.10,329.63 247.30,329.48 247.50,329.21 247.70,328.71 247.90,327.87 248.10,325.23 248.30,318.15 248.50,301.93 248.70,276.27 248.90,253.26 249.00,249.52 249.10,253.36 249.30,276.41 249.50,301.85 249.70,317.81 249.90,324.74 250.10,327.04 250.30,327.79 250.50,327.93 250.70,326.91 250.90,322.16 251.10,308.69 251.30,291.25 251.40,288.04 251.50,291.48 251.70,309.09 251.90,322.66 252.10,327.63 252.30,328.85 252.50,329.25 252.70,329.48 252.90,329.62 253.10,329.64 253.30,329.60 253.50,329.71 253.70,329.82 253.90,329.90 254.10,330.03 254.30,330.02 254.50,329.92 254.70,329.95 254.90,329.98 255.10,329.96 255.30,330.07 255.50,329.92 255.70,329.88 255.90,329.88 256.10,329.79 256.30,329.93 256.50,329.80 256.70,329.79 256.90,329.83 257.10,329.90 257.30,329.98 257.50,329.96 257.70,329.92 257.90,329.90 258.10,329.94 258.30,329.96 258.50,330.01 258.70,329.98 258.90,330.01 259.10,330.01 259.30,329.97 259.50,329.95 259.70,329.83 259.90,329.88 260.10,329.91 260.30,329.93 260.50,330.00 260.70,329.91 260.90,329.88 261.10,329.87 261.30,329.84 261.50,329.90 261.70,329.95 261.90,330.06 262.10,330.11 262.30,330.13 262.50,330.11 262.70,329.92 262.90,329.91 263.10,329.90 263.30,330.03 263.50,330.12 263.70,330.13 263.90,330.13 264.10,329.95 264.30,330.02 264.50,330.04 264.70,330.08 264.90,330.09 265.10,330.10 265.30,329.99 265.50,329.98 265.70,330.13 265.90,330.01 266.10,330.05 266.30,330.02 266.50,329.88 266.70,329.85 266.90,329.87 267.10,329.80 267.30,329.84 267.50,329.86 267.70,329.91 267.90,329.90 268.10,329.83 268.30,329.88 268.50,329.68 268.70,329.65 268.90,329.62 269.10,329.30 269.30,328.88 269.50,327.24 269.70,322.34 269.90,312.74 270.10,302.63 270.20,300.89 270.30,302.61 270.50,312.73 270.70,322.42 270.90,327.23 271.10,328.87 271.30,329.35 271.50,329.49 271.70,329.73 271.90,329.81 272.10,329.78 272.30,329.88 272.50,329.74 272.70,329.75 272.90,329.83 273.10,329.66 273.30,329.54 273.50,329.09 273.70,328.33 273.90,327.39 274.10,326.07 274.30,324.91 274.50,324.36 274.50,324.22 274.70,324.67 274.90,325.81 275.10,327.08 275.30,328.15 275.50,328.71 275.70,328.83 275.90,328.39 276.10,327.68 276.30,326.68 276.50,325.65 276.70,325.24 276.70,325.13 276.90,325.50 277.10,326.54 277.30,327.71 277.50,328.62 277.70,329.24 277.90,329.52 278.10,329.68 278.30,329.82 278.50,329.93 278.70,329.97 278.90,330.03 279.10,330.02 279.30,329.98 279.50,330.06 279.70,330.06 279.90,330.00 280.10,330.07 280.30,330.09 280.50,330.15 280.70,330.27 280.90,330.18 281.10,330.11 281.30,330.09 281.50,330.07 281.70,330.16 281.90,330.41 282.10,330.41 282.30,330.45 282.50,330.47 282.70,330.31 282.90,330.27 283.10,330.25 283.30,330.17 283.50,330.13 283.70,330.12 283.90,330.09 284.10,330.25 284.30,330.17 284.50,330.23 284.70,330.14 284.90,330.00 285.10,330.15 285.30,330.12 285.50,330.15 285.70,330.14 285.90,330.12 286.10,330.08 286.30,330.15 286.50,330.18 286.70,330.12 286.90,330.26 287.10,330.28 287.30,330.17 287.50,330.21 287.70,330.07 287.90,330.08 288.10,330.13 288.30,330.11 288.50,330.15 288.70,330.12 288.90,330.04 289.10,329.92 289.30,329.70 289.50,329.36 289.70,329.17 289.90,328.79 290.10,328.34 290.30,328.10 290.50,328.00 290.50,328.03 290.70,328.14 290.90,328.39 291.10,328.77 291.30,329.09 291.50,329.54 291.70,329.86 291.90,329.93 292.10,330.07 292.30,329.95 292.50,329.89 292.70,329.95 292.90,329.90 293.10,330.16 293.30,330.14 293.50,330.14 293.70,330.21 293.90,330.21 294.10,330.21 294.30,330.30 294.50,330.29 294.70,330.18 294.90,330.27 295.10,330.23 295.30,330.20 295.50,330.26 295.70,330.22 295.90,330.21 296.10,330.28 296.30,330.36 296.50,330.32 296.70,330.42 296.90,330.29 297.10,330.21 297.30,330.30 297.50,330.21 297.70,330.28 297.90,330.28 298.10,330.22 298.30,330.18 298.50,330.26 298.70,330.29 298.90,330.28 299.10,330.35 299.30,330.33 299.50,330.35 299.70,330.42 299.90,330.34 300.10,330.29 300.30,330.29 300.50,330.30 300.70,330.34 300.90,330.38 301.10,330.41 301.30,330.35 301.50,330.38 301.70,330.37 301.90,330.30 302.10,330.39 302.30,330.40 302.50,330.46 302.70,330.54 302.90,330.49 303.10,330.48 303.30,330.43 303.50,330.39 303.70,330.38 303.90,330.36 304.10,330.40 304.30,330.35 304.50,330.46 304.70,330.41 304.90,330.32 305.10,330.43 305.30,330.36 305.50,330.45 305.70,330.54 305.90,330.49 306.10,330.41 306.30,330.38 306.50,330.32 306.70,330.37 306.90,330.41 307.10,330.37 307.30,330.39 307.50,330.36 307.70,330.34 307.90,330.35 308.10,330.38 308.30,330.37 308.50,330.37 308.70,330.39 308.90,330.39 309.10,330.30 309.30,330.25 309.50,330.22 309.70,330.18 309.90,330.22 310.10,330.29 310.30,330.24 310.50,330.04 310.70,329.76 310.90,329.33 311.10,328.97 311.30,328.72 311.50,328.65 311.50,328.66 311.70,328.78 311.90,329.12 312.10,329.42 312.30,329.80 312.50,330.08 312.70,330.19 312.90,330.34 313.10,330.41 313.30,330.43 313.50,330.44 313.70,330.45 313.90,330.48 314.10,330.56 314.30,330.65 314.50,330.77 314.70,330.71 314.90,330.69 315.10,330.66 315.30,330.66 315.50,330.67 315.70,330.58 315.90,330.55 316.10,330.34 316.30,330.36 316.50,330.37 316.70,330.41 316.90,330.53 317.10,330.66 317.30,330.75 317.50,330.72 317.70,330.66 317.90,330.59 318.10,330.48 318.30,330.61 318.50,330.71 318.70,330.67 318.90,330.65 319.10,330.63 319.30,330.57 319.50,330.66 319.70,330.67 319.90,330.58 320.10,330.59 320.30,330.53 320.50,330.59 320.70,330.65 320.90,330.60 321.10,330.60 321.30,330.63 321.50,330.63 321.70,330.72 321.90,330.68 322.10,330.60 322.30,330.64 322.50,330.62 322.70,330.64 322.90,330.80 323.10,330.75 323.30,330.79 323.50,330.84 323.70,330.87 323.90,330.95 324.10,330.88 324.30,330.93 324.50,330.86 324.70,330.85 324.90,330.82 325.10,330.80 325.30,330.83 325.50,330.68 325.70,330.67 325.90,330.53 326.10,330.47 326.30,330.60 326.50,330.74 326.70,330.84 326.90,330.94 327.10,330.84 327.30,330.68 327.50,330.68 327.70,330.62 327.90,330.69 328.10,330.68 328.30,330.68 328.50,330.59 328.70,330.63 328.90,330.76 329.10,330.72 329.30,330.76 329.50,330.67 329.70,330.65 329.90,330.75 330.10,330.72 330.30,330.80 330.50,330.78 330.70,330.68 330.90,330.72 331.10,330.62 331.30,330.57 331.50,330.47 331.70,330.46 331.90,330.34 332.10,330.11 332.30,329.94 332.50,329.62 332.70,329.47 332.80,329.52 332.90,329.57 333.10,329.69 333.30,329.89 333.50,330.10 333.70,330.17 333.90,330.30 334.10,330.53 334.30,330.71 334.50,330.86 334.70,330.99 334.90,330.96 335.10,331.04 335.30,331.12 335.50,331.09 335.70,331.04 335.90,330.81 336.10,330.77 336.30,330.74 336.50,330.72 336.70,330.77 336.90,330.72 337.10,330.84 337.30,330.96 337.50,331.00 337.70,331.13 337.90,331.05 338.10,330.97 338.30,331.05 338.50,331.01 338.70,330.95 338.90,330.99 339.10,330.88 339.30,330.78 339.50,330.89 339.70,330.99 339.90,330.97 340.10,331.07 340.30,331.00 340.50,330.88 340.70,330.92 340.90,330.86 341.10,330.90 341.30,330.88 341.50,330.93 341.70,330.97 341.90,330.96 342.10,330.96 342.30,330.92 342.50,330.97 342.70,331.01 342.90,331.01 343.10,331.04 343.30,331.05 343.50,330.94 343.70,331.02 343.90,330.99 344.10,330.98 344.30,331.03 344.50,330.92 344.70,330.87 344.90,330.85 345.10,330.90 345.30,330.95 345.50,331.07 345.70,330.99 345.90,330.97 346.10,330.96 346.30,330.90 346.50,330.99 346.70,330.95 346.90,331.00 347.10,331.08 347.30,331.06 347.50,331.14 347.70,331.11 347.90,331.09 348.10,331.19 348.30,331.03 348.50,331.05 348.70,331.06 348.90,330.98 349.10,331.12 349.30,331.14 349.50,331.12 349.70,331.12 349.90,331.17 350.10,331.21 350.30,331.23 350.50,331.22 350.70,331.14 350.90,331.11 351.10,331.11 351.30,331.12 351.50,331.16 351.70,331.29 351.90,331.32 352.10,331.32 352.30,331.37 352.50,331.25 352.70,331.11 352.90,331.08 353.10,330.93 353.30,330.94 353.50,331.04 353.70,331.18 353.90,331.29 354.10,331.30 354.30,331.35 354.50,331.16 354.70,331.15 354.90,331.21 355.10,331.09 355.30,331.27 355.50,331.27 355.70,331.22 355.90,331.33 356.10,331.39 356.30,331.38 356.50,331.42 356.70,331.37 356.90,331.22 357.10,331.25 357.30,331.20 357.50,331.23 357.70,331.25 357.90,331.24 358.10,331.30 358.30,331.35 358.50,331.35 358.70,331.32 358.90,331.26 359.10,331.19 359.30,331.23 359.50,331.29 359.70,331.30 359.90,331.36 360.10,331.42 360.30,331.40 360.50,331.55 360.70,331.47 360.90,331.34 361.10,331.23 361.30,331.22 361.50,331.29 361.70,331.36 361.90,331.46 362.10,331.34 362.30,331.43 362.50,331.44 362.70,331.44 362.90,331.53 363.10,331.44 363.30,331.44 363.50,331.40 363.70,331.39 363.90,331.47 364.10,331.53 364.30,331.65 364.50,331.60 364.70,331.46 364.90,331.39 365.10,331.32 365.30,331.40 365.50,331.37 365.70,331.46 365.90,331.45 366.10,331.38 366.30,331.42 366.50,331.26 366.70,331.31 366.90,331.34 367.10,331.33 367.30,331.35 367.50,331.30 367.70,331.38 367.90,331.43 368.10,331.43 368.30,331.44 368.50,331.34 368.70,331.22 368.90,331.30 369.10,331.30 369.30,331.35 369.50,331.59 369.70,331.65 369.90,331.65 370.10,331.56 370.30,331.60 370.50,331.55 370.70,331.57 370.90,331.63 371.10,331.51 371.30,331.51 371.50,331.48 371.70,331.46 371.90,331.45 372.10,331.43 372.30,331.43 372.50,331.46 372.70,331.46 372.90,331.56 373.10,331.47 373.30,331.52 373.50,331.60 373.70,331.42 373.90,331.54 374.10,331.47 374.30,331.34 374.50,331.41 374.70,331.38 374.90,331.49 375.10,331.61 375.30,331.71 375.50,331.81 375.70,331.67 375.90,331.60 376.10,331.56 376.30,331.47 376.50,331.53" fill="none" stroke="#0a3cff" stroke-width="1.15" stroke-linejoin="round" />
<polyline points="241.30,314.32 241.50,314.29 241.70,314.24 241.90,314.27 242.10,314.29 242.30,314.33 242.50,314.47 242.70,314.48 242.90,314.47 243.10,314.41 243.30,314.30 243.50,314.11 243.70,314.08 243.90,314.11 244.10,314.07 244.30,314.27 244.50,314.27 244.70,314.17 244.90,314.11 245.10,313.98 245.30,314.00 245.50,314.18 245.70,314.20 245.90,314.19 246.10,314.24 246.30,314.08 246.50,314.13 246.70,314.13 246.90,314.11 247.10,314.02 247.30,314.02 247.50,313.97 247.70,313.92 247.90,313.96 248.10,314.00 248.30,313.86 248.50,313.92 248.70,313.88 248.90,313.85 249.10,314.03 249.30,313.98 249.50,314.04 249.70,314.06 249.90,313.92 250.10,313.79 250.30,313.66 250.50,313.54 250.70,313.45 250.90,313.49 251.10,313.44 251.30,313.24 251.50,313.15 251.70,312.91 251.90,312.66 252.10,312.52 252.30,312.31 252.50,311.92 252.70,311.05 252.90,308.49 253.10,300.40 253.30,280.76 253.50,251.18 253.70,233.94 253.70,233.83 253.90,250.98 254.10,280.58 254.30,300.13 254.50,308.24 254.70,310.69 254.90,311.56 255.10,312.10 255.30,312.54 255.50,312.76 255.70,312.92 255.90,312.93 256.10,312.88 256.30,312.98 256.50,313.07 256.70,313.20 256.90,313.21 257.10,313.18 257.30,313.14 257.50,312.95 257.70,312.68 257.90,311.02 258.10,304.50 258.30,292.52 258.40,289.65 258.50,292.47 258.70,304.24 258.90,310.89 259.10,312.51 259.30,312.90 259.50,313.07 259.70,313.12 259.90,313.21 260.10,313.22 260.30,313.39 260.50,313.44 260.70,313.43 260.90,313.29 261.10,313.11 261.30,312.61 261.50,310.29 261.70,306.27 261.80,305.13 261.90,305.92 262.10,309.97 262.30,312.26 262.50,312.98 262.70,313.18 262.90,313.33 263.10,313.42 263.30,313.38 263.50,313.40 263.70,313.47 263.90,313.40 264.10,313.48 264.30,313.43 264.50,313.38 264.70,313.43 264.90,313.32 265.10,313.36 265.30,313.34 265.50,313.29 265.70,313.51 265.90,313.49 266.10,313.61 266.30,313.67 266.50,313.56 266.70,313.58 266.90,313.49 267.10,313.36 267.30,313.38 267.50,313.32 267.70,313.29 267.90,313.18 268.10,313.06 268.30,313.08 268.50,312.96 268.70,313.05 268.90,312.99 269.10,312.91 269.30,312.90 269.50,312.68 269.70,312.41 269.90,311.84 270.10,310.61 270.30,307.06 270.50,296.77 270.70,276.13 270.90,254.23 271.00,250.37 271.10,254.02 271.30,275.86 271.50,296.60 271.70,306.94 271.90,310.61 272.10,311.82 272.30,312.23 272.50,312.48 272.70,312.81 272.90,313.04 273.10,313.11 273.30,313.23 273.50,313.19 273.70,313.26 273.90,313.46 274.10,313.62 274.30,313.70 274.50,313.66 274.70,313.59 274.90,313.50 275.10,313.47 275.30,313.55 275.50,313.52 275.70,313.51 275.90,313.40 276.10,313.37 276.30,313.34 276.50,313.44 276.70,313.54 276.90,313.48 277.10,313.54 277.30,313.54 277.50,313.40 277.70,313.32 277.90,313.25 278.10,313.16 278.30,313.23 278.50,313.29 278.70,313.24 278.90,312.44 279.10,309.35 279.30,303.68 279.40,302.29 279.50,303.56 279.70,309.22 279.90,312.31 280.10,313.16 280.30,313.43 280.50,313.43 280.70,313.38 280.90,313.28 281.10,313.23 281.30,313.25 281.50,313.35 281.70,313.35 281.90,313.33 282.10,313.01 282.30,311.76 282.50,310.83 282.50,310.82 282.70,311.80 282.90,312.95 283.10,313.14 283.30,313.27 283.50,313.36 283.70,313.46 283.90,313.54 284.10,313.43 284.30,313.39 284.50,313.40 284.70,313.30 284.90,313.39 285.10,313.28 285.30,313.29 285.50,313.41 285.70,313.38 285.90,313.46 286.10,313.54 286.30,313.58 286.50,313.59 286.70,313.61 286.90,313.49 287.10,313.49 287.30,313.52 287.50,313.59 287.70,313.56 287.90,313.48 288.10,313.37 288.30,313.20 288.50,313.04 288.70,312.87 288.90,312.55 289.10,311.56 289.30,306.57 289.50,291.70 289.70,279.00 289.70,279.00 289.90,291.65 290.10,306.56 290.30,311.60 290.50,312.61 290.70,312.92 290.90,312.97 291.10,313.06 291.30,313.11 291.50,313.22 291.70,313.26 291.90,313.31 292.10,313.25 292.30,313.28 292.50,313.38 292.70,313.38 292.90,313.53 293.10,313.46 293.30,313.42 293.50,313.35 293.70,313.25 293.90,313.22 294.10,313.28 294.30,313.40 294.50,313.43 294.70,313.59 294.90,313.59 295.10,313.47 295.30,313.50 295.50,313.46 295.70,313.47 295.90,313.53 296.10,313.43 296.30,313.54 296.50,313.52 296.70,313.45 296.90,313.47 297.10,313.30 297.30,313.26 297.50,313.28 297.70,313.34 297.90,313.33 298.10,313.38 298.30,313.36 298.50,313.42 298.70,313.52 298.90,313.40 299.10,313.43 299.30,313.44 299.50,313.41 299.70,313.54 299.90,313.61 300.10,313.45 300.30,313.25 300.50,312.52 300.70,311.18 300.80,310.98 300.90,311.38 301.10,312.62 301.30,313.34 301.50,313.48 301.70,313.31 301.90,313.29 302.10,313.27 302.30,313.26 302.50,313.43 302.70,313.55 302.90,313.53 303.10,313.62 303.30,313.54 303.50,313.50 303.70,313.52 303.90,313.37 304.10,313.36 304.30,313.24 304.50,313.32 304.70,313.48 304.90,313.58 305.10,313.66 305.30,313.66 305.50,313.46 305.70,313.47 305.90,313.60 306.10,313.60 306.30,313.69 306.50,313.67 306.70,313.57 306.90,313.47 307.10,313.41 307.30,313.35 307.50,313.35 307.70,313.26 307.90,313.51 308.10,313.50 308.30,313.58 308.50,313.73 308.70,313.63 308.90,313.79 309.10,313.68 309.30,313.66 309.50,313.61 309.70,313.54 309.90,313.58 310.10,313.59 310.30,313.46 310.50,313.40 310.70,313.31 310.90,313.30 311.10,313.43 311.30,313.41 311.50,313.41 311.70,313.06 311.90,311.77 312.10,308.06 312.30,304.78 312.30,304.95 312.50,308.05 312.70,311.75 312.90,313.13 313.10,313.39 313.30,313.44 313.50,313.57 313.70,313.57 313.90,313.46 314.10,313.53 314.30,313.41 314.50,313.41 314.70,313.56 314.90,313.44 315.10,313.49 315.30,313.50 315.50,313.39 315.70,313.48 315.90,313.52 316.10,313.48 316.30,313.33 316.50,313.27 316.70,313.21 316.90,313.30 317.10,313.51 317.30,313.47 317.50,313.52 317.70,313.47 317.90,313.41 318.10,313.51 318.30,313.51 318.50,313.51 318.70,313.48 318.90,313.44 319.10,313.40 319.30,313.46 319.50,313.45 319.70,312.98 319.90,311.87 320.00,311.48 320.10,311.69 320.30,312.74 320.50,313.32 320.70,313.50 320.90,313.44 321.10,313.37 321.30,313.49 321.50,313.49 321.70,313.49 321.90,313.44 322.10,313.37 322.30,313.37 322.50,313.52 322.70,313.56 322.90,313.51 323.10,313.57 323.30,313.49 323.50,313.55 323.70,313.61 323.90,313.55 324.10,313.54 324.30,313.59 324.50,313.51 324.70,313.59 324.90,313.65 325.10,313.58 325.30,313.82 325.50,313.88 325.70,313.71 325.90,313.81 326.10,313.68 326.30,313.50 326.50,313.63 326.70,313.54 326.90,313.55 327.10,313.56 327.30,313.47 327.50,313.61 327.70,313.56 327.90,313.67 328.10,313.78 328.30,313.66 328.50,313.64 328.70,313.62 328.90,313.67 329.10,313.68 329.30,313.73 329.50,313.69 329.70,313.60 329.90,313.56 330.10,313.56 330.30,313.62 330.50,313.69 330.70,313.77 330.90,313.77 331.10,313.82 331.30,313.71 331.50,313.63 331.70,313.46 331.90,313.30 332.10,313.22 332.30,312.76 332.50,310.62 332.70,306.67 332.80,305.75 332.90,306.55 333.10,310.66 333.30,312.76 333.50,313.33 333.70,313.52 333.90,313.50 334.10,313.55 334.30,313.46 334.50,313.37 334.70,313.38 334.90,313.37 335.10,313.38 335.30,313.57 335.50,313.54 335.70,313.49 335.90,313.46 336.10,313.40 336.30,313.56 336.50,313.61 336.70,313.66 336.90,313.72 337.10,313.77 337.30,313.79 337.50,313.67 337.70,313.47 337.90,313.13 338.10,312.45 338.30,311.85 338.30,311.95 338.50,312.55 338.70,313.13 338.90,313.59 339.10,313.62 339.30,313.63 339.50,313.69 339.70,313.70 339.90,313.83 340.10,313.81 340.30,313.94 340.50,313.77 340.70,313.64 340.90,313.57 341.10,313.47 341.30,313.49 341.50,313.47 341.70,313.56 341.90,313.48 342.10,313.46 342.30,313.45 342.50,313.45 342.70,313.65 342.90,313.71 343.10,313.73 343.30,313.66 343.50,313.52 343.70,313.55 343.90,313.53 344.10,313.61 344.30,313.63 344.50,313.66 344.70,313.75 344.90,313.75 345.10,313.72 345.30,313.71 345.50,313.69 345.70,313.63 345.90,313.77 346.10,313.73 346.30,313.66 346.50,313.63 346.70,313.56 346.90,313.61 347.10,313.63 347.30,313.73 347.50,313.83 347.70,313.74 347.90,313.80 348.10,313.82 348.30,313.67 348.50,313.65 348.70,313.64 348.90,313.58 349.10,313.57 349.30,313.68 349.50,313.67 349.70,313.63 349.90,313.71 350.10,313.66 350.30,313.67 350.50,313.53 350.70,313.47 350.90,313.49 351.10,313.39 351.30,313.52 351.50,313.52 351.70,313.51 351.90,313.50 352.10,313.44 352.30,313.41 352.50,313.35 352.70,313.36 352.90,313.43 353.10,313.61 353.30,313.72 353.50,313.69 353.70,313.76 353.90,313.68 354.10,313.59 354.30,313.45 354.50,312.98 354.70,312.46 354.70,312.45 354.90,313.04 355.10,313.45 355.30,313.72 355.50,313.78 355.70,313.68 355.90,313.67 356.10,313.71 356.30,313.72 356.50,313.77 356.70,313.69 356.90,313.64 357.10,313.66 357.30,313.63 357.50,313.78 357.70,313.84 357.90,313.88 358.10,313.89 358.30,313.83 358.50,313.75 358.70,313.75 358.90,313.68 359.10,313.57 359.30,313.62 359.50,313.48 359.70,313.41 359.90,313.60 360.10,313.49 360.30,313.48 360.50,313.67 360.70,313.58 360.90,313.60 361.10,313.69 361.30,313.62 361.50,313.65 361.70,313.63 361.90,313.66 362.10,313.66 362.30,313.49 362.50,313.44 362.70,313.37 362.90,313.35 363.10,313.52 363.30,313.72 363.50,313.71 363.70,313.74 363.90,313.75 364.10,313.70 364.30,313.76 364.50,313.76 364.70,313.75 364.90,313.73 365.10,313.77 365.30,313.58 365.50,313.55 365.70,313.52 365.90,313.39 366.10,313.66 366.30,313.65 366.50,313.70 366.70,313.74 366.90,313.64 367.10,313.67 367.30,313.57 367.50,313.59 367.70,313.62 367.90,313.64 368.10,313.65 368.30,313.76 368.50,313.76 368.70,313.73 368.90,313.66 369.10,313.65 369.30,313.63 369.50,313.60 369.70,313.59 369.90,313.62 370.10,313.63 370.30,313.64 370.50,313.72 370.70,313.51 370.90,313.56 371.10,313.62 371.30,313.69 371.50,313.70 371.70,313.66 371.90,313.63 372.10,313.61 372.30,313.72 372.50,313.68 372.70,313.65 372.90,313.59 373.10,313.51 373.30,313.52 373.50,313.68 373.70,313.77 373.90,313.91 374.10,313.94 374.30,313.86 374.50,313.81 374.70,313.69 374.90,313.62 375.10,313.64 375.30,313.61 375.50,313.67 375.70,313.77 375.90,313.68 376.10,313.75 376.30,313.69 376.50,313.64" fill="none" stroke="#fa0a1e" stroke-width="1.15" stroke-linejoin="round" />
<path d="M241.20 225.60 V368.90 H376.90" fill="none" stroke="#444" stroke-width="1.6"/>
<path d="M240.94 368.90 v1.80 M253.30 368.90 v3.20 M265.67 368.90 v1.80 M278.03 368.90 v3.20 M290.39 368.90 v1.80 M302.76 368.90 v3.20 M315.12 368.90 v1.80 M327.49 368.90 v3.20 M339.86 368.90 v1.80 M352.22 368.90 v3.20 M364.59 368.90 v1.80 M376.95 368.90 v3.20 " fill="none" stroke="#444" stroke-width="1"/>
<text x="253.30" y="382.30" font-size="9.2" text-anchor="middle">10</text>
<text x="278.03" y="382.30" font-size="9.2" text-anchor="middle">20</text>
<text x="302.76" y="382.30" font-size="9.2" text-anchor="middle">30</text>
<text x="327.49" y="382.30" font-size="9.2" text-anchor="middle">40</text>
<text x="352.22" y="382.30" font-size="9.2" text-anchor="middle">50</text>
<text x="376.95" y="382.30" font-size="9.2" text-anchor="middle">60</text>
<text x="309.00" y="398.00" font-size="10.4" text-anchor="middle">2-Theta(<tspan font-size="6.2" dy="-5.4">o</tspan><tspan dy="5.4">)</tspan></text>
<text transform="translate(235.00 301.50) rotate(-90)" font-size="10.4" text-anchor="middle">Intensity (a.u.)</text>
<text transform="translate(365.40 234.60) scale(0.93 1)" font-size="10.6" text-anchor="start">D</text>
<text transform="translate(308.20 300.90) scale(0.935 1)" font-size="10.05" text-anchor="start">Cu-BDC-SE(EtOH)</text>
<text transform="translate(325.40 325.50) scale(0.935 1)" font-size="9.95" text-anchor="start">Cu-BDC-H225</text>
<text transform="translate(333.80 351.10) scale(0.935 1)" font-size="9.73" text-anchor="start">Cu-BDC-as</text>
</svg>
</body></html>
